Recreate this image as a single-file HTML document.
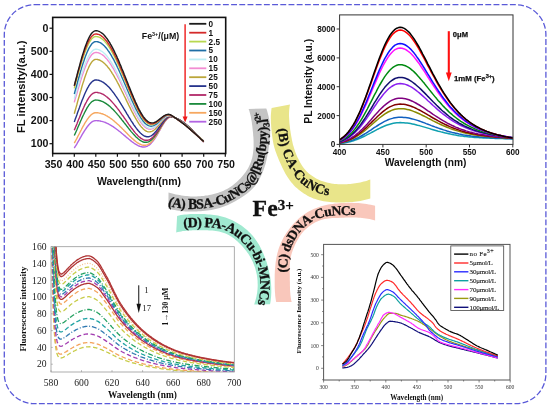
<!DOCTYPE html><html><head><meta charset="utf-8"><title>Fe3+ sensing</title><style>html,body{margin:0;padding:0;background:#fff;}svg{display:block;}</style></head><body>
<svg width="550" height="408" viewBox="0 0 550 408">
<rect width="550" height="408" fill="#fff"/>
<path d="M168.4,208.5 L170.5,209.2 L172.6,209.7 L174.8,210.1 L177.0,210.5 L179.1,210.8 L181.3,211.1 L183.5,211.3 L185.6,211.4 L187.8,211.5 L189.9,211.5 L192.1,211.5 L194.3,211.5 L196.4,211.4 L198.5,211.3 L200.7,211.2 L202.8,211.0 L205.0,210.8 L207.1,210.6 L209.2,210.3 L211.3,209.9 L213.5,209.5 L215.6,209.1 L217.7,208.5 L219.8,207.9 L221.8,207.3 L223.9,206.6 L225.9,205.8 L227.9,204.9 L229.9,204.0 L231.9,203.0 L233.8,202.0 L235.7,200.9 L237.6,199.8 L239.5,198.7 L241.4,197.5 L243.3,196.3 L245.1,195.0 L246.9,193.7 L248.7,192.3 L250.4,190.8 L252.0,189.3 L253.6,187.6 L255.0,185.9 L256.3,184.1 L257.6,182.2 L258.8,180.3 L259.9,178.3 L260.9,176.3 L261.8,174.3 L262.7,172.2 L263.5,170.1 L264.2,168.0 L264.9,165.9 L265.6,163.8 L266.1,161.6 L266.6,159.5 L267.1,157.3 L267.5,155.1 L267.9,153.0 L268.3,150.8 L268.6,148.6 L268.9,146.5 L269.2,144.3 L269.5,142.1 L269.7,139.9 L269.9,137.7 L270.1,135.4 L270.2,133.2 L270.2,131.0 L270.2,128.7 L270.1,126.4 L269.9,124.2 L269.6,121.9 L269.3,119.7 L268.8,117.4 L268.3,115.2 L267.7,113.0 L267.1,110.8 L266.3,108.6 L248.6,108.9 L249.3,110.8 L249.8,112.7 L250.3,114.6 L250.8,116.5 L251.1,118.5 L251.5,120.4 L251.8,122.3 L252.0,124.2 L252.3,126.1 L252.5,127.9 L252.7,129.8 L252.9,131.7 L253.1,133.6 L253.2,135.4 L253.4,137.3 L253.5,139.2 L253.6,141.1 L253.6,143.0 L253.6,144.9 L253.6,146.8 L253.5,148.7 L253.3,150.6 L253.1,152.5 L252.8,154.4 L252.5,156.3 L252.1,158.2 L251.5,160.1 L250.9,161.9 L250.2,163.8 L249.4,165.5 L248.6,167.3 L247.6,169.0 L246.6,170.6 L245.5,172.3 L244.3,173.8 L243.1,175.3 L241.9,176.8 L240.6,178.3 L239.2,179.6 L237.8,181.0 L236.4,182.3 L234.9,183.5 L233.4,184.7 L231.9,185.9 L230.3,187.0 L228.7,188.0 L227.0,188.9 L225.3,189.8 L223.6,190.7 L221.8,191.4 L220.1,192.1 L218.3,192.7 L216.5,193.3 L214.7,193.8 L212.9,194.3 L211.0,194.7 L209.2,195.0 L207.4,195.4 L205.5,195.6 L203.7,195.9 L201.8,196.1 L200.0,196.2 L198.2,196.3 L196.3,196.4 L194.5,196.4 L192.6,196.4 L190.8,196.4 L188.9,196.2 L187.1,196.1 L185.2,195.9 L183.4,195.7 L181.5,195.4 L179.7,195.1 L177.8,194.8 L175.9,194.5 L174.1,194.1 L172.2,193.6 L170.3,193.1 L168.5,192.5 Z" fill="#c4c4c4"/>
<path d="M271.6,108.1 L271.3,110.2 L271.1,112.3 L270.9,114.4 L270.8,116.5 L270.8,118.6 L270.9,120.7 L270.9,122.7 L271.1,124.8 L271.2,126.9 L271.4,128.9 L271.6,131.0 L271.8,133.0 L272.0,135.0 L272.3,137.0 L272.6,139.0 L272.9,141.1 L273.3,143.1 L273.7,145.0 L274.2,147.0 L274.8,149.0 L275.4,150.9 L276.1,152.8 L276.8,154.7 L277.5,156.6 L278.3,158.5 L279.1,160.4 L279.9,162.3 L280.7,164.1 L281.6,166.0 L282.5,167.9 L283.4,169.7 L284.3,171.6 L285.3,173.4 L286.4,175.2 L287.5,177.0 L288.7,178.8 L289.9,180.5 L291.2,182.2 L292.6,183.8 L294.0,185.4 L295.5,186.9 L297.1,188.3 L298.7,189.7 L300.4,191.1 L302.1,192.3 L303.8,193.5 L305.7,194.6 L307.5,195.7 L309.4,196.7 L311.4,197.6 L313.3,198.4 L315.3,199.1 L317.4,199.7 L319.4,200.3 L321.5,200.8 L323.5,201.2 L325.6,201.5 L327.7,201.8 L329.8,202.0 L331.9,202.2 L334.0,202.3 L336.0,202.4 L338.1,202.4 L340.2,202.4 L342.2,202.4 L344.2,202.4 L346.3,202.3 L348.3,202.2 L350.4,202.1 L352.4,201.9 L354.4,201.7 L356.4,201.5 L358.4,201.2 L360.4,200.9 L362.4,200.5 L364.4,200.0 L366.4,199.6 L368.4,199.0 L370.3,198.4 L370.3,179.5 L368.6,180.1 L367.0,180.7 L365.3,181.2 L363.7,181.6 L362.0,182.0 L360.3,182.4 L358.6,182.7 L357.0,183.0 L355.3,183.3 L353.6,183.5 L351.9,183.7 L350.2,183.9 L348.5,184.1 L346.8,184.2 L345.1,184.3 L343.3,184.3 L341.6,184.3 L339.9,184.3 L338.2,184.2 L336.4,184.1 L334.7,183.9 L333.0,183.7 L331.2,183.4 L329.5,183.1 L327.8,182.7 L326.1,182.3 L324.4,181.8 L322.7,181.3 L321.0,180.7 L319.3,180.0 L317.7,179.3 L316.1,178.5 L314.6,177.6 L313.1,176.6 L311.6,175.6 L310.2,174.5 L308.8,173.4 L307.5,172.2 L306.2,170.9 L305.0,169.6 L303.9,168.2 L302.8,166.8 L301.8,165.3 L300.9,163.8 L300.0,162.3 L299.2,160.7 L298.4,159.1 L297.6,157.6 L296.9,156.0 L296.3,154.4 L295.6,152.8 L295.0,151.2 L294.5,149.6 L294.0,147.9 L293.5,146.3 L293.0,144.7 L292.6,143.0 L292.3,141.4 L291.9,139.7 L291.6,138.1 L291.3,136.4 L291.0,134.8 L290.7,133.1 L290.5,131.4 L290.2,129.7 L290.0,128.0 L289.8,126.3 L289.6,124.6 L289.4,122.8 L289.3,121.1 L289.2,119.3 L289.1,117.5 L289.0,115.7 L289.0,113.9 L289.1,112.0 L289.2,110.2 L289.4,108.3 L289.6,106.5 L290.0,104.6 Z" fill="#e9e58a"/>
<path d="M276.2,302.1 L275.8,300.0 L275.5,297.9 L275.2,295.7 L275.1,293.6 L274.9,291.5 L274.8,289.3 L274.7,287.2 L274.7,285.1 L274.7,283.0 L274.7,280.9 L274.7,278.8 L274.7,276.7 L274.7,274.6 L274.8,272.5 L274.9,270.3 L275.1,268.2 L275.3,266.1 L275.5,264.0 L275.7,261.9 L276.1,259.8 L276.4,257.7 L276.9,255.6 L277.3,253.4 L277.9,251.4 L278.5,249.3 L279.2,247.2 L280.0,245.2 L280.8,243.2 L281.7,241.2 L282.7,239.2 L283.7,237.3 L284.8,235.4 L286.0,233.6 L287.2,231.7 L288.5,229.9 L289.8,228.2 L291.2,226.5 L292.6,224.8 L294.1,223.2 L295.6,221.6 L297.2,220.0 L298.8,218.5 L300.5,217.1 L302.3,215.8 L304.1,214.5 L305.9,213.3 L307.8,212.1 L309.7,211.0 L311.7,210.0 L313.7,209.1 L315.7,208.2 L317.8,207.5 L319.9,206.8 L322.0,206.1 L324.1,205.5 L326.2,205.0 L328.3,204.6 L330.5,204.2 L332.6,203.9 L334.7,203.6 L336.9,203.4 L339.0,203.2 L341.2,203.1 L343.3,203.0 L345.4,202.9 L347.5,202.8 L349.7,202.8 L351.8,202.8 L353.9,202.9 L356.0,203.0 L358.2,203.1 L360.3,203.3 L362.4,203.5 L364.6,203.8 L366.7,204.0 L368.8,204.4 L370.9,204.8 L373.0,205.3 L375.1,205.8 L375.1,220.5 L373.3,220.0 L371.4,219.5 L369.6,219.1 L367.7,218.7 L365.9,218.4 L364.0,218.2 L362.2,218.0 L360.3,217.8 L358.5,217.7 L356.6,217.6 L354.8,217.6 L352.9,217.5 L351.1,217.5 L349.3,217.5 L347.4,217.6 L345.6,217.6 L343.8,217.7 L341.9,217.8 L340.1,217.8 L338.2,217.9 L336.3,217.9 L334.4,218.0 L332.5,218.1 L330.6,218.3 L328.6,218.5 L326.7,218.7 L324.7,219.1 L322.8,219.5 L320.9,220.1 L319.0,220.7 L317.2,221.5 L315.4,222.3 L313.7,223.3 L312.0,224.3 L310.3,225.4 L308.7,226.6 L307.2,227.9 L305.7,229.2 L304.3,230.6 L303.0,232.1 L301.7,233.6 L300.5,235.2 L299.4,236.8 L298.4,238.5 L297.4,240.2 L296.4,241.9 L295.6,243.6 L294.7,245.4 L294.0,247.2 L293.2,249.0 L292.6,250.8 L292.0,252.6 L291.4,254.4 L291.0,256.3 L290.6,258.1 L290.3,260.0 L290.0,261.9 L289.9,263.7 L289.8,265.6 L289.7,267.5 L289.7,269.3 L289.7,271.2 L289.7,273.0 L289.8,274.8 L289.8,276.6 L289.8,278.4 L289.8,280.2 L289.9,282.0 L289.9,283.8 L289.9,285.6 L290.0,287.4 L290.0,289.2 L290.1,291.0 L290.3,292.9 L290.4,294.7 L290.6,296.6 L290.9,298.4 L291.2,300.3 L291.7,302.1 Z" fill="#f9c7bb"/>
<path d="M177.1,215.9 L179.0,215.5 L180.9,215.1 L182.9,214.8 L184.8,214.6 L186.8,214.4 L188.8,214.2 L190.7,214.1 L192.7,214.1 L194.6,214.0 L196.5,214.0 L198.5,214.0 L200.4,214.0 L202.4,214.1 L204.3,214.1 L206.2,214.2 L208.2,214.4 L210.1,214.5 L212.1,214.7 L214.0,214.9 L215.9,215.2 L217.9,215.6 L219.8,216.0 L221.7,216.4 L223.6,217.0 L225.5,217.6 L227.4,218.2 L229.2,218.9 L231.1,219.7 L232.8,220.6 L234.6,221.5 L236.3,222.4 L238.1,223.4 L239.7,224.5 L241.4,225.6 L243.0,226.8 L244.5,228.0 L246.1,229.3 L247.6,230.6 L249.0,231.9 L250.4,233.3 L251.8,234.8 L253.1,236.3 L254.3,237.8 L255.5,239.4 L256.6,241.0 L257.7,242.7 L258.7,244.3 L259.7,246.1 L260.6,247.8 L261.5,249.5 L262.3,251.3 L263.1,253.1 L263.9,254.9 L264.6,256.7 L265.3,258.5 L265.9,260.3 L266.6,262.1 L267.1,264.0 L267.7,265.8 L268.2,267.7 L268.7,269.5 L269.1,271.4 L269.5,273.3 L269.9,275.2 L270.2,277.1 L270.5,279.0 L270.8,280.9 L271.0,282.9 L271.1,284.8 L271.2,286.7 L271.3,288.7 L271.3,290.6 L271.3,292.6 L271.2,294.6 L271.1,296.5 L270.9,298.5 L270.7,300.4 L270.4,302.4 L270.0,304.3 L254.2,304.4 L254.7,302.8 L255.2,301.2 L255.7,299.6 L256.1,297.9 L256.5,296.3 L256.8,294.6 L257.1,292.9 L257.3,291.3 L257.5,289.6 L257.6,287.9 L257.7,286.2 L257.7,284.4 L257.6,282.7 L257.6,281.0 L257.4,279.3 L257.2,277.6 L257.0,275.9 L256.7,274.3 L256.3,272.6 L255.9,270.9 L255.5,269.3 L255.0,267.6 L254.4,266.0 L253.8,264.4 L253.2,262.8 L252.5,261.3 L251.7,259.7 L250.9,258.2 L250.1,256.7 L249.2,255.3 L248.3,253.8 L247.3,252.4 L246.3,251.0 L245.2,249.7 L244.2,248.4 L243.0,247.1 L241.9,245.8 L240.7,244.6 L239.5,243.4 L238.3,242.2 L237.0,241.0 L235.7,239.9 L234.4,238.8 L233.0,237.8 L231.6,236.8 L230.2,235.9 L228.7,235.0 L227.1,234.3 L225.6,233.6 L224.0,232.9 L222.4,232.4 L220.7,231.9 L219.1,231.5 L217.4,231.2 L215.7,230.9 L214.0,230.7 L212.4,230.6 L210.7,230.4 L209.0,230.4 L207.4,230.3 L205.7,230.3 L204.1,230.2 L202.5,230.2 L200.9,230.2 L199.2,230.2 L197.6,230.2 L196.0,230.2 L194.4,230.3 L192.7,230.3 L191.1,230.4 L189.5,230.5 L187.8,230.6 L186.2,230.7 L184.5,230.9 L182.8,231.1 L181.2,231.4 L179.5,231.7 L177.9,232.1 L176.2,232.6 Z" fill="#a0e9d0"/>
<defs>
<path id="pa" d="M167.64,205.38 L168.83,205.77 L170.03,206.13 L171.24,206.46 L172.46,206.76 L173.68,207.04 L174.90,207.30 L176.12,207.53 L177.35,207.73 L178.58,207.92 L179.81,208.09 L181.04,208.23 L182.27,208.36 L183.50,208.47 L184.73,208.57 L185.95,208.65 L187.18,208.71 L188.41,208.76 L189.63,208.79 L190.85,208.81 L192.07,208.82 L193.29,208.82 L194.51,208.80 L195.73,208.77 L196.95,208.72 L198.16,208.66 L199.38,208.60 L200.59,208.51 L201.81,208.42 L203.02,208.31 L204.23,208.19 L205.44,208.05 L206.65,207.90 L207.86,207.74 L209.07,207.56 L210.28,207.36 L211.49,207.15 L212.69,206.92 L213.89,206.66 L215.09,206.39 L216.29,206.10 L217.48,205.79 L218.66,205.45 L219.84,205.10 L221.02,204.72 L222.19,204.31 L223.35,203.89 L224.50,203.44 L225.65,202.97 L226.79,202.48 L227.92,201.97 L229.04,201.43 L230.15,200.88 L231.26,200.32 L232.36,199.73 L233.46,199.13 L234.54,198.52 L235.63,197.89 L236.70,197.25 L237.78,196.60 L238.85,195.93 L239.91,195.26 L240.97,194.56 L242.02,193.85 L243.06,193.13 L244.08,192.38 L245.10,191.61 L246.10,190.82 L247.08,190.00 L248.04,189.16 L248.97,188.28 L249.88,187.38 L250.76,186.46 L251.61,185.50 L252.43,184.52 L253.23,183.52 L253.99,182.49 L254.72,181.44 L255.43,180.37 L256.10,179.29 L256.75,178.19 L257.38,177.08 L257.98,175.95 L258.56,174.81 L259.11,173.67 L259.65,172.51 L260.15,171.34 L260.64,170.17 L261.10,168.99 L261.54,167.80 L261.96,166.60 L262.35,165.40 L262.72,164.19 L263.07,162.97 L263.40,161.75 L263.71,160.53 L263.99,159.31 L264.26,158.08 L264.51,156.85 L264.74,155.62 L264.96,154.38 L265.17,153.15 L265.37,151.92 L265.55,150.68 L265.73,149.44 L265.90,148.21 L266.06,146.97 L266.21,145.73 L266.35,144.49 L266.49,143.25 L266.61,142.00 L266.73,140.75 L266.83,139.50 L266.92,138.25 L266.99,136.99 L267.05,135.73 L267.09,134.46 L267.11,133.20 L267.12,131.93 L267.10,130.66 L267.06,129.39 L267.00,128.11 L266.92,126.84 L266.81,125.56 L266.69,124.28 L266.54,123.01 L266.36,121.74 L266.16,120.46 L265.94,119.19 L265.69,117.93 L265.42,116.66 L265.12,115.40 L264.80,114.15 L264.44,112.90 L264.07,111.65 L263.66,110.42 L263.23,109.19 L262.77,107.97 L262.28,106.76 L261.77,105.57 L261.22,104.38 L260.65,103.20 L260.06,102.04 L259.44,100.89 L258.79,99.76 L258.12,98.63 L257.42,97.53 L256.71,96.43 L255.97,95.35 L255.20,94.29 L254.42,93.24 L253.62,92.20 L252.80,91.18 L251.96,90.18 L251.10,89.19 L250.22,88.22 L249.33,87.26 L248.42,86.32 L247.49,85.40 L246.55,84.49 L245.59,83.60 L244.62,82.72 L243.63,81.86 L242.62,81.02 L241.60,80.20 L240.57,79.40 L239.52,78.61 L238.46,77.84 L237.39,77.09 L236.30,76.36 L235.20,75.65 L234.09,74.96 L232.97,74.29 L231.83,73.64 L230.68,73.00 L229.53,72.39 L228.36,71.80 L227.18,71.23 L225.99,70.67 L224.80,70.14 L223.59,69.63 L222.38,69.15 L221.15,68.68 L219.92,68.23 L218.68,67.81 L217.44,67.41 L216.18,67.03 L214.92,66.67 L213.66,66.33 L212.39,66.02 L211.11,65.72 L209.83,65.45 L208.54,65.21 L207.25,64.98 L205.96,64.78 L204.66,64.60 L203.36,64.44 L202.06,64.31 L200.76,64.19 L199.45,64.10 L198.14,64.04 L196.83,64.00 L195.52,63.97 L194.21,63.98 L192.91,64.00 L191.60,64.05 L190.29,64.12 L188.98,64.21 L187.68,64.33 L186.38,64.47 L185.08,64.63 L183.78,64.82 L182.49,65.02 L181.20,65.25 L179.91,65.51 L178.63,65.78 L177.36,66.08 L176.09,66.40 L174.82,66.74 L173.57,67.10 L172.31,67.48 L171.07,67.89 L169.83,68.32 L168.60,68.77 L167.38,69.24 L166.17,69.73 L164.96,70.25 L163.77,70.78 L162.58,71.34 L161.41,71.91" fill="none"/>
<path id="pb" d="M277.94,128.83 L278.07,130.02 L278.20,131.20 L278.34,132.38 L278.48,133.55 L278.64,134.72 L278.80,135.89 L278.97,137.06 L279.15,138.23 L279.34,139.39 L279.55,140.56 L279.77,141.72 L280.01,142.87 L280.27,144.02 L280.55,145.17 L280.85,146.31 L281.17,147.45 L281.51,148.58 L281.87,149.71 L282.25,150.83 L282.64,151.94 L283.05,153.05 L283.47,154.16 L283.90,155.26 L284.34,156.36 L284.79,157.46 L285.25,158.56 L285.71,159.65 L286.19,160.75 L286.67,161.84 L287.16,162.94 L287.67,164.03 L288.18,165.12 L288.72,166.20 L289.26,167.29 L289.83,168.36 L290.41,169.44 L291.01,170.50 L291.64,171.55 L292.29,172.59 L292.96,173.62 L293.66,174.64 L294.38,175.64 L295.12,176.62 L295.89,177.59 L296.69,178.53 L297.51,179.46 L298.35,180.37 L299.21,181.25 L300.10,182.12 L301.01,182.96 L301.95,183.78 L302.90,184.57 L303.88,185.34 L304.87,186.09 L305.88,186.81 L306.91,187.50 L307.96,188.17 L309.03,188.81 L310.11,189.42 L311.20,190.01 L312.31,190.56 L313.44,191.09 L314.57,191.59 L315.72,192.06 L316.87,192.51 L318.04,192.92 L319.22,193.30 L320.40,193.65 L321.59,193.98 L322.79,194.28 L323.99,194.54 L325.20,194.79 L326.41,195.00 L327.62,195.19 L328.83,195.36 L330.04,195.51 L331.25,195.64 L332.46,195.75 L333.67,195.84 L334.88,195.91 L336.08,195.97 L337.29,196.02 L338.49,196.06 L339.68,196.08 L340.88,196.09 L342.07,196.09 L343.27,196.08 L344.46,196.05 L345.64,196.01 L346.83,195.96 L348.02,195.90 L349.20,195.82 L350.38,195.74 L351.56,195.63 L352.74,195.52 L353.92,195.38 L355.09,195.24 L356.26,195.08 L357.44,194.91 L358.61,194.72 L359.77,194.51 L360.94,194.29 L362.10,194.05 L363.26,193.80 L364.42,193.53 L365.57,193.24 L366.72,192.93 L367.86,192.60 L369.00,192.24 L370.14,191.87 L371.26,191.48 L372.38,191.06 L373.49,190.62 L374.59,190.16 L375.68,189.68 L376.77,189.18 L377.84,188.65 L378.90,188.10 L379.96,187.53 L381.00,186.94 L382.03,186.33 L383.04,185.70 L384.05,185.05 L385.04,184.38 L386.02,183.70 L386.99,182.99 L387.94,182.27 L388.89,181.53 L389.81,180.77 L390.73,180.00 L391.63,179.21 L392.52,178.41 L393.39,177.59 L394.25,176.76 L395.09,175.91 L395.92,175.04 L396.73,174.16 L397.53,173.27 L398.31,172.37 L399.08,171.45 L399.83,170.51 L400.56,169.57 L401.28,168.61 L401.98,167.64 L402.67,166.65 L403.33,165.66 L403.98,164.65 L404.61,163.64 L405.22,162.61 L405.82,161.57 L406.40,160.52 L406.95,159.46 L407.49,158.39 L408.01,157.31 L408.52,156.23 L409.00,155.13 L409.46,154.03 L409.91,152.92 L410.33,151.80 L410.74,150.67 L411.12,149.54 L411.49,148.40 L411.84,147.25 L412.16,146.10 L412.47,144.94 L412.75,143.78 L413.02,142.61 L413.26,141.44 L413.49,140.26 L413.69,139.09 L413.88,137.90 L414.04,136.72 L414.18,135.53 L414.30,134.34 L414.40,133.14 L414.48,131.95 L414.54,130.75 L414.58,129.56 L414.59,128.36 L414.59,127.16 L414.56,125.97 L414.52,124.77 L414.45,123.57 L414.36,122.38 L414.25,121.19 L414.13,120.00 L413.98,118.81 L413.80,117.62 L413.61,116.44 L413.40,115.26 L413.17,114.09 L412.92,112.92 L412.64,111.75 L412.35,110.59 L412.03,109.44 L411.70,108.29 L411.35,107.15 L410.97,106.01 L410.58,104.88 L410.17,103.75 L409.73,102.64 L409.28,101.53 L408.81,100.43 L408.32,99.34 L407.81,98.25 L407.28,97.18 L406.73,96.11 L406.17,95.06 L405.58,94.01 L404.98,92.98 L404.36,91.96 L403.72,90.94 L403.07,89.94 L402.39,88.95 L401.70,87.97 L401.00,87.01 L400.27,86.05 L399.53,85.11 L398.78,84.18 L398.00,83.27 L397.21,82.37 L396.41,81.48 L395.59,80.61 L394.76,79.75 L393.91,78.91 L393.04,78.08 L392.16,77.27 L391.27,76.47 L390.37,75.69" fill="none"/>
<path id="pc" d="M287.07,272.39 L287.07,271.27 L287.08,270.16 L287.09,269.04 L287.12,267.91 L287.16,266.78 L287.21,265.65 L287.27,264.52 L287.36,263.38 L287.46,262.24 L287.59,261.10 L287.74,259.97 L287.92,258.83 L288.12,257.69 L288.35,256.56 L288.60,255.43 L288.89,254.31 L289.19,253.19 L289.53,252.08 L289.89,250.97 L290.27,249.87 L290.67,248.77 L291.10,247.68 L291.55,246.60 L292.01,245.52 L292.50,244.45 L293.01,243.39 L293.53,242.33 L294.08,241.28 L294.64,240.24 L295.22,239.20 L295.82,238.17 L296.44,237.16 L297.09,236.15 L297.75,235.16 L298.44,234.18 L299.15,233.22 L299.89,232.27 L300.64,231.34 L301.43,230.43 L302.23,229.53 L303.06,228.66 L303.91,227.82 L304.79,226.99 L305.69,226.19 L306.60,225.41 L307.54,224.66 L308.50,223.93 L309.48,223.24 L310.48,222.56 L311.50,221.92 L312.53,221.31 L313.59,220.72 L314.65,220.17 L315.73,219.65 L316.83,219.16 L317.94,218.71 L319.06,218.28 L320.20,217.90 L321.34,217.54 L322.49,217.22 L323.65,216.93 L324.82,216.67 L325.99,216.44 L327.16,216.24 L328.33,216.07 L329.50,215.92 L330.67,215.79 L331.84,215.68 L333.01,215.58 L334.17,215.50 L335.32,215.43 L336.47,215.37 L337.62,215.31 L338.76,215.25 L339.90,215.20 L341.03,215.15 L342.15,215.10 L343.28,215.06 L344.40,215.02 L345.52,214.98 L346.64,214.94 L347.76,214.92 L348.88,214.89 L350.00,214.88 L351.12,214.88 L352.24,214.88 L353.36,214.89 L354.48,214.92 L355.60,214.96 L356.73,215.00 L357.85,215.06 L358.98,215.13 L360.10,215.21 L361.23,215.31 L362.36,215.41 L363.49,215.54 L364.62,215.67 L365.75,215.82 L366.88,215.99 L368.01,216.18 L369.14,216.39 L370.27,216.62 L371.39,216.87 L372.51,217.14 L373.63,217.45 L374.74,217.77 L375.84,218.13 L376.93,218.51 L378.02,218.92 L379.09,219.36 L380.15,219.82 L381.21,220.31 L382.25,220.83 L383.27,221.37 L384.29,221.93 L385.29,222.52 L386.28,223.13 L387.26,223.76 L388.22,224.41 L389.18,225.08 L390.11,225.77 L391.04,226.47 L391.95,227.19 L392.85,227.93 L393.74,228.69 L394.61,229.46 L395.47,230.24 L396.31,231.04 L397.14,231.86 L397.96,232.69 L398.76,233.53 L399.54,234.39 L400.31,235.26 L401.07,236.15 L401.81,237.05 L402.53,237.96 L403.24,238.88 L403.93,239.81 L404.61,240.76 L405.27,241.72 L405.91,242.69 L406.54,243.67 L407.14,244.66 L407.73,245.67 L408.31,246.68 L408.86,247.70 L409.40,248.73 L409.92,249.78 L410.42,250.83 L410.90,251.88 L411.37,252.95 L411.81,254.03 L412.24,255.11 L412.65,256.20 L413.03,257.30 L413.40,258.40 L413.75,259.51 L414.08,260.62 L414.39,261.75 L414.69,262.87 L414.96,264.00 L415.21,265.14 L415.44,266.28 L415.65,267.42 L415.85,268.57 L416.02,269.72 L416.17,270.88 L416.30,272.03 L416.41,273.19 L416.50,274.35 L416.58,275.51 L416.63,276.67 L416.66,277.84 L416.67,279.00 L416.66,280.16 L416.63,281.33 L416.58,282.49 L416.50,283.65 L416.41,284.81 L416.30,285.97 L416.17,287.12 L416.02,288.28 L415.85,289.43 L415.65,290.58 L415.44,291.72 L415.21,292.86 L414.96,294.00 L414.69,295.13 L414.39,296.25 L414.08,297.38 L413.75,298.49 L413.40,299.60 L413.03,300.70 L412.65,301.80 L412.24,302.89 L411.81,303.97 L411.37,305.05 L410.90,306.12 L410.42,307.17 L409.92,308.22 L409.40,309.27 L408.86,310.30 L408.31,311.32 L407.73,312.33 L407.14,313.34 L406.54,314.33 L405.91,315.31 L405.27,316.28 L404.61,317.24 L403.93,318.19 L403.24,319.12 L402.53,320.04 L401.81,320.95 L401.07,321.85 L400.31,322.74 L399.54,323.61 L398.76,324.47 L397.96,325.31 L397.14,326.14 L396.31,326.96 L395.47,327.76 L394.61,328.54 L393.74,329.31 L392.85,330.07 L391.95,330.81 L391.04,331.53 L390.12,332.24 L389.19,332.93 L388.24,333.61" fill="none"/>
<path id="pd" d="M183.71,227.73 L184.76,227.60 L185.81,227.49 L186.86,227.40 L187.91,227.31 L188.96,227.24 L190.00,227.18 L191.04,227.13 L192.08,227.09 L193.12,227.06 L194.15,227.03 L195.19,227.01 L196.22,226.99 L197.25,226.98 L198.28,226.98 L199.31,226.97 L200.34,226.98 L201.37,226.98 L202.40,226.99 L203.44,227.01 L204.47,227.03 L205.51,227.05 L206.55,227.08 L207.59,227.12 L208.63,227.17 L209.68,227.23 L210.73,227.30 L211.78,227.38 L212.83,227.48 L213.89,227.59 L214.94,227.72 L216.00,227.87 L217.05,228.04 L218.11,228.23 L219.16,228.44 L220.20,228.68 L221.25,228.94 L222.28,229.23 L223.31,229.55 L224.33,229.89 L225.35,230.27 L226.35,230.66 L227.34,231.09 L228.32,231.55 L229.29,232.03 L230.24,232.54 L231.18,233.07 L232.11,233.63 L233.02,234.21 L233.92,234.81 L234.80,235.44 L235.67,236.08 L236.53,236.74 L237.37,237.42 L238.19,238.11 L239.01,238.82 L239.81,239.55 L240.60,240.28 L241.38,241.03 L242.14,241.79 L242.89,242.56 L243.63,243.35 L244.36,244.14 L245.07,244.95 L245.77,245.77 L246.46,246.60 L247.13,247.44 L247.79,248.29 L248.43,249.16 L249.05,250.03 L249.67,250.92 L250.26,251.81 L250.84,252.72 L251.40,253.64 L251.95,254.56 L252.47,255.50 L252.99,256.44 L253.48,257.40 L253.96,258.36 L254.43,259.32 L254.87,260.30 L255.31,261.28 L255.72,262.27 L256.12,263.27 L256.50,264.27 L256.86,265.28 L257.21,266.30 L257.54,267.32 L257.85,268.34 L258.14,269.38 L258.42,270.41 L258.68,271.45 L258.92,272.50 L259.14,273.54 L259.35,274.60 L259.53,275.65 L259.70,276.71 L259.85,277.77 L259.98,278.84 L260.09,279.90 L260.19,280.97 L260.26,282.04 L260.32,283.11 L260.35,284.18 L260.37,285.25 L260.37,286.32 L260.35,287.39 L260.31,288.46 L260.26,289.53 L260.18,290.60 L260.09,291.67 L259.97,292.73 L259.84,293.79 L259.69,294.85 L259.52,295.91 L259.33,296.96 L259.12,298.01 L258.90,299.06 L258.65,300.10 L258.39,301.14 L258.11,302.17 L257.81,303.20 L257.49,304.22 L257.16,305.23 L256.80,306.24 L256.44,307.25 L256.05,308.24 L255.65,309.23 L255.23,310.22 L254.79,311.19 L254.34,312.16 L253.87,313.12 L253.39,314.07 L252.89,315.02 L252.37,315.95 L251.84,316.88 L251.29,317.80 L250.73,318.70 L250.15,319.60 L249.56,320.49 L248.95,321.37 L248.32,322.23 L247.68,323.09 L247.03,323.93 L246.36,324.76 L245.68,325.58 L244.98,326.39 L244.27,327.19 L243.54,327.97 L242.80,328.74 L242.05,329.50 L241.28,330.25 L240.50,330.98 L239.71,331.69 L238.91,332.40 L238.09,333.09 L237.26,333.76 L236.43,334.42 L235.57,335.07 L234.71,335.70 L233.84,336.32 L232.96,336.92 L232.06,337.50 L231.16,338.07 L230.25,338.62 L229.32,339.16 L228.39,339.68 L227.45,340.19 L226.50,340.67 L225.54,341.15 L224.57,341.60 L223.60,342.04 L222.62,342.46 L221.63,342.86 L220.63,343.25 L219.63,343.62 L218.62,343.97 L217.61,344.30 L216.59,344.62 L215.56,344.92 L214.53,345.20 L213.49,345.46 L212.45,345.70 L211.41,345.93 L210.36,346.14 L209.31,346.33 L208.26,346.50 L207.20,346.65 L206.14,346.78 L205.08,346.90 L204.01,346.99 L202.95,347.07 L201.88,347.13 L200.82,347.17 L199.75,347.20 L198.68,347.20 L197.61,347.18 L196.54,347.15 L195.48,347.10 L194.41,347.03 L193.35,346.94 L192.28,346.83 L191.22,346.70 L190.17,346.56 L189.11,346.40 L188.06,346.21 L187.01,346.01 L185.96,345.80 L184.92,345.56 L183.88,345.30 L182.85,345.03 L181.82,344.74 L180.80,344.43 L179.78,344.10 L178.77,343.76 L177.77,343.40 L176.77,343.02 L175.78,342.62 L174.79,342.21 L173.82,341.78 L172.85,341.33 L171.88,340.86 L170.93,340.38 L169.99,339.89 L169.05,339.37 L168.12,338.84 L167.21,338.29 L166.30,337.73 L165.40,337.15 L164.51,336.56" fill="none"/>
</defs>
<g font-family="'Liberation Serif', 'Times New Roman', serif" font-weight="bold" fill="#111" stroke="#111" stroke-width="0.3">
<text font-size="13.8" letter-spacing="-0.51"><textPath href="#pa">(A) BSA-CuNCs@[Ru(bpy)<tspan font-size="9.0" dy="2.5">3</tspan><tspan dy="-2.5">]</tspan><tspan font-size="9.0" dy="-5">2+</tspan></textPath></text>
<text font-size="13.6" letter-spacing="0.27"><textPath href="#pb">(B) CA-CuNCs</textPath></text>
<text font-size="13.6" letter-spacing="-0.54"><textPath href="#pc">(C) dsDNA-CuNCs</textPath></text>
<text font-size="14.0" letter-spacing="-0.60"><textPath href="#pd">(D) PA-AuCu-bi-MNCs</textPath></text>
<text x="252.6" y="216.2" font-size="23.8">Fe<tspan font-size="15" dy="-6.4">3+</tspan></text>
</g>
<g font-family="'Liberation Sans', Arial, sans-serif" font-weight="bold">
<polyline fill="none" stroke="#b264e2" stroke-width="1.4" stroke-linejoin="round" points="74.3,148.1 75.1,146.7 76.0,145.3 76.9,143.9 77.7,142.4 78.6,140.9 79.5,139.4 80.3,137.9 81.2,136.4 82.0,134.9 82.9,133.4 83.8,132.0 84.6,130.6 85.5,129.3 86.4,128.0 87.2,126.8 88.1,125.7 88.9,124.7 89.8,123.8 90.7,122.9 91.5,122.2 92.4,121.7 93.3,121.2 94.1,120.9 95.0,120.7 95.8,120.6 96.7,120.6 97.6,120.7 98.4,120.7 99.3,120.9 100.2,121.0 101.0,121.2 101.9,121.4 102.8,121.6 103.6,121.9 104.5,122.2 105.3,122.5 106.2,122.9 107.1,123.3 107.9,123.7 108.8,124.2 109.7,124.6 110.5,125.1 111.4,125.6 112.2,126.2 113.1,126.7 114.0,127.3 114.8,127.9 115.7,128.5 116.6,129.2 117.4,129.8 118.3,130.5 119.2,131.2 120.0,131.8 120.9,132.5 121.7,133.3 122.6,134.0 123.5,134.7 124.3,135.4 125.2,136.1 126.1,136.9 126.9,137.6 127.8,138.3 128.6,139.0 129.5,139.7 130.4,140.4 131.2,141.1 132.1,141.8 133.0,142.4 133.8,143.0 134.7,143.6 135.5,144.2 136.4,144.7 137.3,145.2 138.1,145.6 139.0,146.0 139.9,146.4 140.7,146.6 141.6,146.8 142.5,147.0 143.3,147.0 144.2,147.0 145.0,146.9 145.9,146.7 146.8,146.4 147.6,146.0 148.5,145.5 149.4,144.9 150.2,144.2 151.1,143.3 151.9,142.4 152.8,141.4 153.7,140.2 154.5,139.0 155.4,137.7 156.3,136.3 157.1,134.9 158.0,133.4 158.8,131.8 159.7,130.3 160.6,128.7 161.4,127.2 162.3,125.7 163.2,124.3 164.0,122.9 164.9,121.7 165.8,120.5 166.6,119.5 167.5,118.6 168.3,117.9 169.2,117.4 170.1,117.0 170.9,116.8 171.8,116.9 172.7,117.1 173.5,117.3 174.4,117.5 175.2,117.8 176.1,118.2 177.0,118.6 177.8,119.0 178.7,119.4 179.6,119.9 180.4,120.4 181.3,121.0 182.1,121.5 183.0,122.2 183.9,122.8 184.7,123.5 185.6,124.2 186.5,124.9 187.3,125.6 188.2,126.4 189.1,127.2 189.9,128.0 190.8,128.9 191.6,129.7 192.5,130.6 193.4,131.5 194.2,132.3 195.1,133.2 196.0,134.1 196.8,135.0 197.7,136.0 198.5,136.9 199.4,137.8 200.3,138.7 201.1,139.6 202.0,140.5 202.9,141.4 203.7,142.3"/>
<polyline fill="none" stroke="#f6a860" stroke-width="1.4" stroke-linejoin="round" points="74.3,143.2 75.1,141.7 76.0,140.0 76.9,138.4 77.7,136.7 78.6,135.0 79.5,133.3 80.3,131.7 81.2,130.0 82.0,128.3 82.9,126.7 83.8,125.1 84.6,123.6 85.5,122.2 86.4,120.8 87.2,119.5 88.1,118.3 88.9,117.2 89.8,116.2 90.7,115.3 91.5,114.5 92.4,113.9 93.3,113.4 94.1,113.0 95.0,112.8 95.8,112.7 96.7,112.8 97.6,112.8 98.4,112.9 99.3,113.1 100.2,113.2 101.0,113.5 101.9,113.7 102.8,114.0 103.6,114.4 104.5,114.7 105.3,115.1 106.2,115.6 107.1,116.0 107.9,116.6 108.8,117.1 109.7,117.7 110.5,118.3 111.4,118.9 112.2,119.5 113.1,120.2 114.0,120.9 114.8,121.7 115.7,122.4 116.6,123.2 117.4,124.0 118.3,124.8 119.2,125.6 120.0,126.4 120.9,127.3 121.7,128.1 122.6,129.0 123.5,129.8 124.3,130.7 125.2,131.6 126.1,132.5 126.9,133.3 127.8,134.2 128.6,135.1 129.5,135.9 130.4,136.7 131.2,137.6 132.1,138.4 133.0,139.1 133.8,139.9 134.7,140.6 135.5,141.3 136.4,142.0 137.3,142.6 138.1,143.1 139.0,143.7 139.9,144.1 140.7,144.5 141.6,144.8 142.5,145.1 143.3,145.2 144.2,145.3 145.0,145.3 145.9,145.2 146.8,144.9 147.6,144.6 148.5,144.2 149.4,143.7 150.2,143.0 151.1,142.3 151.9,141.4 152.8,140.4 153.7,139.3 154.5,138.2 155.4,136.9 156.3,135.6 157.1,134.2 158.0,132.7 158.8,131.3 159.7,129.8 160.6,128.3 161.4,126.8 162.3,125.3 163.2,123.9 164.0,122.6 164.9,121.4 165.8,120.3 166.6,119.3 167.5,118.5 168.3,117.8 169.2,117.3 170.1,116.9 170.9,116.8 171.8,116.9 172.7,117.1 173.5,117.3 174.4,117.6 175.2,117.9 176.1,118.2 177.0,118.6 177.8,119.0 178.7,119.5 179.6,120.0 180.4,120.5 181.3,121.0 182.1,121.6 183.0,122.2 183.9,122.9 184.7,123.5 185.6,124.2 186.5,124.9 187.3,125.7 188.2,126.4 189.1,127.2 189.9,128.0 190.8,128.8 191.6,129.7 192.5,130.5 193.4,131.4 194.2,132.3 195.1,133.1 196.0,134.0 196.8,134.9 197.7,135.8 198.5,136.7 199.4,137.6 200.3,138.5 201.1,139.4 202.0,140.3 202.9,141.2 203.7,142.1"/>
<polyline fill="none" stroke="#1b8a3c" stroke-width="1.4" stroke-linejoin="round" points="74.3,135.6 75.1,133.7 76.0,131.7 76.9,129.8 77.7,127.8 78.6,125.8 79.5,123.8 80.3,121.8 81.2,119.8 82.0,117.9 82.9,116.0 83.8,114.2 84.6,112.5 85.5,110.8 86.4,109.2 87.2,107.7 88.1,106.3 88.9,105.0 89.8,103.9 90.7,102.9 91.5,102.0 92.4,101.3 93.3,100.8 94.1,100.4 95.0,100.1 95.8,100.0 96.7,100.1 97.6,100.1 98.4,100.3 99.3,100.5 100.2,100.7 101.0,101.0 101.9,101.3 102.8,101.7 103.6,102.1 104.5,102.6 105.3,103.1 106.2,103.7 107.1,104.3 107.9,104.9 108.8,105.6 109.7,106.3 110.5,107.1 111.4,107.9 112.2,108.7 113.1,109.6 114.0,110.5 114.8,111.4 115.7,112.4 116.6,113.4 117.4,114.4 118.3,115.4 119.2,116.4 120.0,117.5 120.9,118.5 121.7,119.6 122.6,120.7 123.5,121.8 124.3,122.9 125.2,124.0 126.1,125.1 126.9,126.2 127.8,127.3 128.6,128.4 129.5,129.5 130.4,130.6 131.2,131.6 132.1,132.6 133.0,133.6 133.8,134.6 134.7,135.5 135.5,136.4 136.4,137.3 137.3,138.1 138.1,138.8 139.0,139.5 139.9,140.2 140.7,140.7 141.6,141.2 142.5,141.6 143.3,142.0 144.2,142.2 145.0,142.3 145.9,142.3 146.8,142.3 147.6,142.1 148.5,141.8 149.4,141.4 150.2,140.8 151.1,140.2 151.9,139.4 152.8,138.6 153.7,137.6 154.5,136.5 155.4,135.4 156.3,134.1 157.1,132.8 158.0,131.5 158.8,130.1 159.7,128.6 160.6,127.2 161.4,125.8 162.3,124.4 163.2,123.1 164.0,121.9 164.9,120.7 165.8,119.6 166.6,118.7 167.5,118.0 168.3,117.3 169.2,116.9 170.1,116.6 170.9,116.5 171.8,116.7 172.7,116.9 173.5,117.2 174.4,117.5 175.2,117.8 176.1,118.2 177.0,118.6 177.8,119.0 178.7,119.4 179.6,119.9 180.4,120.4 181.3,121.0 182.1,121.6 183.0,122.2 183.9,122.8 184.7,123.5 185.6,124.1 186.5,124.9 187.3,125.6 188.2,126.3 189.1,127.1 189.9,127.9 190.8,128.7 191.6,129.5 192.5,130.3 193.4,131.2 194.2,132.0 195.1,132.9 196.0,133.8 196.8,134.7 197.7,135.5 198.5,136.4 199.4,137.3 200.3,138.2 201.1,139.1 202.0,140.0 202.9,140.8 203.7,141.7"/>
<polyline fill="none" stroke="#b22868" stroke-width="1.4" stroke-linejoin="round" points="74.3,130.3 75.1,128.2 76.0,126.1 76.9,123.9 77.7,121.8 78.6,119.6 79.5,117.5 80.3,115.4 81.2,113.3 82.0,111.2 82.9,109.2 83.8,107.3 84.6,105.4 85.5,103.7 86.4,102.0 87.2,100.4 88.1,99.0 88.9,97.6 89.8,96.5 90.7,95.4 91.5,94.5 92.4,93.8 93.3,93.2 94.1,92.8 95.0,92.5 95.8,92.4 96.7,92.4 97.6,92.5 98.4,92.7 99.3,92.9 100.2,93.1 101.0,93.4 101.9,93.8 102.8,94.2 103.6,94.7 104.5,95.2 105.3,95.8 106.2,96.5 107.1,97.1 107.9,97.9 108.8,98.6 109.7,99.4 110.5,100.3 111.4,101.2 112.2,102.1 113.1,103.1 114.0,104.1 114.8,105.1 115.7,106.2 116.6,107.3 117.4,108.4 118.3,109.5 119.2,110.7 120.0,111.9 120.9,113.1 121.7,114.3 122.6,115.5 123.5,116.7 124.3,118.0 125.2,119.2 126.1,120.4 126.9,121.7 127.8,122.9 128.6,124.1 129.5,125.3 130.4,126.5 131.2,127.7 132.1,128.8 133.0,129.9 133.8,131.0 134.7,132.1 135.5,133.1 136.4,134.1 137.3,135.0 138.1,135.9 139.0,136.7 139.9,137.4 140.7,138.1 141.6,138.7 142.5,139.2 143.3,139.6 144.2,140.0 145.0,140.2 145.9,140.3 146.8,140.3 147.6,140.2 148.5,140.0 149.4,139.7 150.2,139.3 151.1,138.7 151.9,138.0 152.8,137.2 153.7,136.3 154.5,135.3 155.4,134.2 156.3,133.1 157.1,131.8 158.0,130.6 158.8,129.2 159.7,127.9 160.6,126.5 161.4,125.2 162.3,123.9 163.2,122.6 164.0,121.4 164.9,120.3 165.8,119.3 166.6,118.5 167.5,117.7 168.3,117.2 169.2,116.8 170.1,116.6 170.9,116.5 171.8,116.7 172.7,116.9 173.5,117.2 174.4,117.6 175.2,117.9 176.1,118.3 177.0,118.7 177.8,119.1 178.7,119.6 179.6,120.1 180.4,120.6 181.3,121.2 182.1,121.7 183.0,122.4 183.9,123.0 184.7,123.6 185.6,124.3 186.5,125.0 187.3,125.7 188.2,126.5 189.1,127.2 189.9,128.0 190.8,128.8 191.6,129.6 192.5,130.4 193.4,131.3 194.2,132.1 195.1,133.0 196.0,133.8 196.8,134.7 197.7,135.5 198.5,136.4 199.4,137.3 200.3,138.2 201.1,139.0 202.0,139.9 202.9,140.8 203.7,141.6"/>
<polyline fill="none" stroke="#26348c" stroke-width="1.4" stroke-linejoin="round" points="74.3,122.0 75.1,119.6 76.0,117.2 76.9,114.8 77.7,112.3 78.6,109.9 79.5,107.5 80.3,105.2 81.2,102.8 82.0,100.6 82.9,98.4 83.8,96.2 84.6,94.2 85.5,92.2 86.4,90.4 87.2,88.7 88.1,87.1 88.9,85.6 89.8,84.3 90.7,83.2 91.5,82.2 92.4,81.4 93.3,80.8 94.1,80.3 95.0,80.0 95.8,79.9 96.7,80.0 97.6,80.1 98.4,80.2 99.3,80.5 100.2,80.8 101.0,81.1 101.9,81.6 102.8,82.0 103.6,82.6 104.5,83.2 105.3,83.9 106.2,84.6 107.1,85.4 107.9,86.2 108.8,87.1 109.7,88.0 110.5,89.0 111.4,90.1 112.2,91.1 113.1,92.3 114.0,93.4 114.8,94.6 115.7,95.9 116.6,97.1 117.4,98.4 118.3,99.7 119.2,101.1 120.0,102.4 120.9,103.8 121.7,105.2 122.6,106.6 123.5,108.1 124.3,109.5 125.2,110.9 126.1,112.3 126.9,113.8 127.8,115.2 128.6,116.6 129.5,118.0 130.4,119.4 131.2,120.8 132.1,122.1 133.0,123.5 133.8,124.8 134.7,126.0 135.5,127.2 136.4,128.4 137.3,129.5 138.1,130.5 139.0,131.5 139.9,132.5 140.7,133.3 141.6,134.1 142.5,134.8 143.3,135.4 144.2,135.9 145.0,136.3 145.9,136.5 146.8,136.7 147.6,136.8 148.5,136.7 149.4,136.5 150.2,136.2 151.1,135.8 151.9,135.3 152.8,134.6 153.7,133.9 154.5,133.0 155.4,132.0 156.3,131.0 157.1,129.9 158.0,128.7 158.8,127.5 159.7,126.3 160.6,125.1 161.4,123.8 162.3,122.6 163.2,121.5 164.0,120.4 164.9,119.4 165.8,118.5 166.6,117.8 167.5,117.1 168.3,116.6 169.2,116.3 170.1,116.2 170.9,116.2 171.8,116.5 172.7,116.8 173.5,117.1 174.4,117.5 175.2,117.9 176.1,118.3 177.0,118.7 177.8,119.2 178.7,119.7 179.6,120.2 180.4,120.8 181.3,121.3 182.1,121.9 183.0,122.5 183.9,123.1 184.7,123.8 185.6,124.5 186.5,125.2 187.3,125.9 188.2,126.6 189.1,127.4 189.9,128.1 190.8,128.9 191.6,129.7 192.5,130.5 193.4,131.3 194.2,132.2 195.1,133.0 196.0,133.8 196.8,134.7 197.7,135.5 198.5,136.4 199.4,137.2 200.3,138.1 201.1,138.9 202.0,139.8 202.9,140.6 203.7,141.5"/>
<polyline fill="none" stroke="#bba63a" stroke-width="1.4" stroke-linejoin="round" points="74.3,113.7 75.1,110.7 76.0,107.6 76.9,104.5 77.7,101.4 78.6,98.3 79.5,95.3 80.3,92.2 81.2,89.2 82.0,86.3 82.9,83.4 83.8,80.7 84.6,78.0 85.5,75.5 86.4,73.1 87.2,70.8 88.1,68.8 88.9,66.9 89.8,65.2 90.7,63.7 91.5,62.4 92.4,61.3 93.3,60.5 94.1,59.9 95.0,59.5 95.8,59.4 96.7,59.4 97.6,59.5 98.4,59.8 99.3,60.0 100.2,60.4 101.0,60.9 101.9,61.4 102.8,62.0 103.6,62.7 104.5,63.4 105.3,64.3 106.2,65.2 107.1,66.1 107.9,67.2 108.8,68.3 109.7,69.4 110.5,70.7 111.4,71.9 112.2,73.3 113.1,74.7 114.0,76.1 114.8,77.6 115.7,79.1 116.6,80.7 117.4,82.3 118.3,83.9 119.2,85.6 120.0,87.3 120.9,89.0 121.7,90.7 122.6,92.5 123.5,94.3 124.3,96.0 125.2,97.8 126.1,99.6 126.9,101.4 127.8,103.1 128.6,104.9 129.5,106.7 130.4,108.4 131.2,110.1 132.1,111.8 133.0,113.4 133.8,115.1 134.7,116.7 135.5,118.2 136.4,119.7 137.3,121.1 138.1,122.5 139.0,123.8 139.9,125.0 140.7,126.1 141.6,127.2 142.5,128.1 143.3,129.0 144.2,129.8 145.0,130.4 145.9,131.0 146.8,131.4 147.6,131.7 148.5,131.9 149.4,131.9 150.2,131.8 151.1,131.6 151.9,131.3 152.8,130.9 153.7,130.3 154.5,129.7 155.4,128.9 156.3,128.1 157.1,127.1 158.0,126.2 158.8,125.1 159.7,124.1 160.6,123.0 161.4,122.0 162.3,120.9 163.2,120.0 164.0,119.0 164.9,118.2 165.8,117.5 166.6,116.8 167.5,116.4 168.3,116.0 169.2,115.8 170.1,115.8 170.9,116.0 171.8,116.3 172.7,116.7 173.5,117.1 174.4,117.5 175.2,118.0 176.1,118.4 177.0,118.9 177.8,119.4 178.7,119.9 179.6,120.5 180.4,121.0 181.3,121.6 182.1,122.2 183.0,122.8 183.9,123.5 184.7,124.1 185.6,124.8 186.5,125.5 187.3,126.2 188.2,126.9 189.1,127.6 189.9,128.4 190.8,129.1 191.6,129.9 192.5,130.7 193.4,131.5 194.2,132.3 195.1,133.1 196.0,133.9 196.8,134.7 197.7,135.5 198.5,136.3 199.4,137.1 200.3,138.0 201.1,138.8 202.0,139.6 202.9,140.4 203.7,141.2"/>
<polyline fill="none" stroke="#f28cd2" stroke-width="1.4" stroke-linejoin="round" points="74.3,102.4 75.1,99.4 76.0,96.4 76.9,93.5 77.7,90.5 78.6,87.6 79.5,84.7 80.3,81.9 81.2,79.1 82.0,76.4 82.9,73.8 83.8,71.3 84.6,68.9 85.5,66.6 86.4,64.5 87.2,62.5 88.1,60.6 88.9,59.0 89.8,57.5 90.7,56.2 91.5,55.0 92.4,54.1 93.3,53.4 94.1,52.9 95.0,52.6 95.8,52.5 96.7,52.5 97.6,52.6 98.4,52.8 99.3,53.1 100.2,53.5 101.0,54.0 101.9,54.5 102.8,55.1 103.6,55.8 104.5,56.6 105.3,57.5 106.2,58.4 107.1,59.4 107.9,60.5 108.8,61.6 109.7,62.8 110.5,64.1 111.4,65.4 112.2,66.8 113.1,68.2 114.0,69.7 114.8,71.3 115.7,72.8 116.6,74.5 117.4,76.1 118.3,77.8 119.2,79.5 120.0,81.3 120.9,83.1 121.7,84.9 122.6,86.7 123.5,88.6 124.3,90.4 125.2,92.3 126.1,94.1 126.9,96.0 127.8,97.9 128.6,99.7 129.5,101.6 130.4,103.4 131.2,105.2 132.1,107.0 133.0,108.7 133.8,110.4 134.7,112.1 135.5,113.7 136.4,115.3 137.3,116.8 138.1,118.3 139.0,119.7 139.9,121.0 140.7,122.3 141.6,123.4 142.5,124.5 143.3,125.5 144.2,126.3 145.0,127.1 145.9,127.7 146.8,128.3 147.6,128.7 148.5,129.0 149.4,129.1 150.2,129.2 151.1,129.1 151.9,128.9 152.8,128.5 153.7,128.1 154.5,127.5 155.4,126.9 156.3,126.2 157.1,125.4 158.0,124.5 158.8,123.6 159.7,122.6 160.6,121.7 161.4,120.7 162.3,119.8 163.2,118.9 164.0,118.1 164.9,117.4 165.8,116.7 166.6,116.2 167.5,115.8 168.3,115.5 169.2,115.4 170.1,115.5 170.9,115.7 171.8,116.1 172.7,116.6 173.5,117.0 174.4,117.5 175.2,118.0 176.1,118.5 177.0,119.0 177.8,119.5 178.7,120.1 179.6,120.6 180.4,121.2 181.3,121.8 182.1,122.4 183.0,123.1 183.9,123.7 184.7,124.4 185.6,125.1 186.5,125.7 187.3,126.5 188.2,127.2 189.1,127.9 189.9,128.7 190.8,129.4 191.6,130.2 192.5,131.0 193.4,131.7 194.2,132.5 195.1,133.3 196.0,134.1 196.8,134.9 197.7,135.7 198.5,136.5 199.4,137.4 200.3,138.2 201.1,139.0 202.0,139.8 202.9,140.6 203.7,141.4"/>
<polyline fill="none" stroke="#bdeef4" stroke-width="1.4" stroke-linejoin="round" points="74.3,98.7 75.1,95.7 76.0,92.7 76.9,89.7 77.7,86.8 78.6,83.9 79.5,81.0 80.3,78.2 81.2,75.4 82.0,72.8 82.9,70.2 83.8,67.7 84.6,65.3 85.5,63.1 86.4,61.0 87.2,59.0 88.1,57.2 88.9,55.6 89.8,54.1 90.7,52.9 91.5,51.8 92.4,50.9 93.3,50.1 94.1,49.6 95.0,49.3 95.8,49.2 96.7,49.3 97.6,49.4 98.4,49.6 99.3,49.9 100.2,50.3 101.0,50.8 101.9,51.3 102.8,52.0 103.6,52.7 104.5,53.5 105.3,54.3 106.2,55.3 107.1,56.3 107.9,57.4 108.8,58.6 109.7,59.8 110.5,61.1 111.4,62.4 112.2,63.8 113.1,65.3 114.0,66.8 114.8,68.4 115.7,70.0 116.6,71.7 117.4,73.4 118.3,75.1 119.2,76.9 120.0,78.7 120.9,80.5 121.7,82.3 122.6,84.2 123.5,86.1 124.3,88.0 125.2,89.9 126.1,91.8 126.9,93.7 127.8,95.6 128.6,97.5 129.5,99.4 130.4,101.3 131.2,103.1 132.1,104.9 133.0,106.7 133.8,108.5 134.7,110.2 135.5,111.9 136.4,113.5 137.3,115.1 138.1,116.6 139.0,118.1 139.9,119.4 140.7,120.7 141.6,121.9 142.5,123.1 143.3,124.1 144.2,125.0 145.0,125.8 145.9,126.5 146.8,127.1 147.6,127.5 148.5,127.9 149.4,128.1 150.2,128.2 151.1,128.1 151.9,127.9 152.8,127.7 153.7,127.3 154.5,126.8 155.4,126.2 156.3,125.5 157.1,124.7 158.0,123.9 158.8,123.0 159.7,122.1 160.6,121.2 161.4,120.3 162.3,119.5 163.2,118.6 164.0,117.8 164.9,117.1 165.8,116.5 166.6,116.0 167.5,115.7 168.3,115.5 169.2,115.4 170.1,115.5 170.9,115.7 171.8,116.1 172.7,116.6 173.5,117.1 174.4,117.6 175.2,118.1 176.1,118.6 177.0,119.1 177.8,119.6 178.7,120.2 179.6,120.8 180.4,121.4 181.3,122.0 182.1,122.6 183.0,123.2 183.9,123.9 184.7,124.5 185.6,125.2 186.5,125.9 187.3,126.6 188.2,127.4 189.1,128.1 189.9,128.8 190.8,129.6 191.6,130.3 192.5,131.1 193.4,131.9 194.2,132.7 195.1,133.5 196.0,134.3 196.8,135.1 197.7,135.9 198.5,136.7 199.4,137.5 200.3,138.3 201.1,139.1 202.0,139.9 202.9,140.7 203.7,141.5"/>
<polyline fill="none" stroke="#1f6fa6" stroke-width="1.4" stroke-linejoin="round" points="74.3,94.0 75.1,90.9 76.0,87.7 76.9,84.6 77.7,81.4 78.6,78.3 79.5,75.3 80.3,72.3 81.2,69.4 82.0,66.6 82.9,63.8 83.8,61.2 84.6,58.7 85.5,56.3 86.4,54.1 87.2,52.0 88.1,50.1 88.9,48.4 89.8,46.8 90.7,45.5 91.5,44.3 92.4,43.3 93.3,42.6 94.1,42.0 95.0,41.7 95.8,41.6 96.7,41.6 97.6,41.8 98.4,42.0 99.3,42.3 100.2,42.7 101.0,43.2 101.9,43.8 102.8,44.5 103.6,45.3 104.5,46.1 105.3,47.0 106.2,48.0 107.1,49.1 107.9,50.3 108.8,51.5 109.7,52.8 110.5,54.2 111.4,55.6 112.2,57.1 113.1,58.6 114.0,60.2 114.8,61.9 115.7,63.6 116.6,65.4 117.4,67.2 118.3,69.0 119.2,70.9 120.0,72.8 120.9,74.7 121.7,76.7 122.6,78.7 123.5,80.7 124.3,82.7 125.2,84.7 126.1,86.7 126.9,88.7 127.8,90.8 128.6,92.8 129.5,94.8 130.4,96.8 131.2,98.7 132.1,100.7 133.0,102.6 133.8,104.5 134.7,106.3 135.5,108.1 136.4,109.9 137.3,111.5 138.1,113.2 139.0,114.7 139.9,116.2 140.7,117.6 141.6,118.9 142.5,120.1 143.3,121.3 144.2,122.3 145.0,123.2 145.9,124.0 146.8,124.7 147.6,125.2 148.5,125.6 149.4,125.9 150.2,126.1 151.1,126.2 151.9,126.1 152.8,125.9 153.7,125.6 154.5,125.2 155.4,124.7 156.3,124.1 157.1,123.4 158.0,122.7 158.8,121.9 159.7,121.1 160.6,120.2 161.4,119.4 162.3,118.6 163.2,117.8 164.0,117.1 164.9,116.5 165.8,116.0 166.6,115.5 167.5,115.2 168.3,115.1 169.2,115.0 170.1,115.2 170.9,115.5 171.8,115.9 172.7,116.4 173.5,116.9 174.4,117.5 175.2,118.0 176.1,118.5 177.0,119.1 177.8,119.6 178.7,120.2 179.6,120.8 180.4,121.4 181.3,122.0 182.1,122.7 183.0,123.3 183.9,124.0 184.7,124.6 185.6,125.3 186.5,126.0 187.3,126.7 188.2,127.5 189.1,128.2 189.9,128.9 190.8,129.7 191.6,130.4 192.5,131.2 193.4,132.0 194.2,132.7 195.1,133.5 196.0,134.3 196.8,135.1 197.7,135.9 198.5,136.7 199.4,137.5 200.3,138.3 201.1,139.1 202.0,139.9 202.9,140.6 203.7,141.4"/>
<polyline fill="none" stroke="#b8d850" stroke-width="1.4" stroke-linejoin="round" points="74.3,88.3 75.1,85.1 76.0,81.9 76.9,78.8 77.7,75.6 78.6,72.6 79.5,69.5 80.3,66.6 81.2,63.7 82.0,60.9 82.9,58.2 83.8,55.6 84.6,53.2 85.5,50.9 86.4,48.7 87.2,46.7 88.1,44.8 88.9,43.1 89.8,41.6 90.7,40.3 91.5,39.1 92.4,38.2 93.3,37.5 94.1,36.9 95.0,36.6 95.8,36.5 96.7,36.6 97.6,36.7 98.4,36.9 99.3,37.3 100.2,37.7 101.0,38.2 101.9,38.8 102.8,39.5 103.6,40.3 104.5,41.1 105.3,42.1 106.2,43.1 107.1,44.2 107.9,45.4 108.8,46.7 109.7,48.0 110.5,49.4 111.4,50.9 112.2,52.5 113.1,54.1 114.0,55.7 114.8,57.4 115.7,59.2 116.6,61.0 117.4,62.9 118.3,64.8 119.2,66.7 120.0,68.7 120.9,70.7 121.7,72.7 122.6,74.7 123.5,76.8 124.3,78.9 125.2,81.0 126.1,83.0 126.9,85.1 127.8,87.2 128.6,89.3 129.5,91.4 130.4,93.5 131.2,95.5 132.1,97.5 133.0,99.5 133.8,101.5 134.7,103.4 135.5,105.3 136.4,107.1 137.3,108.8 138.1,110.5 139.0,112.2 139.9,113.7 140.7,115.2 141.6,116.6 142.5,117.9 143.3,119.1 144.2,120.2 145.0,121.1 145.9,122.0 146.8,122.7 147.6,123.4 148.5,123.9 149.4,124.2 150.2,124.5 151.1,124.6 151.9,124.6 152.8,124.5 153.7,124.2 154.5,123.9 155.4,123.4 156.3,122.9 157.1,122.3 158.0,121.6 158.8,120.9 159.7,120.1 160.6,119.4 161.4,118.6 162.3,117.8 163.2,117.1 164.0,116.5 164.9,115.9 165.8,115.4 166.6,115.1 167.5,114.8 168.3,114.7 169.2,114.7 170.1,114.9 170.9,115.3 171.8,115.8 172.7,116.3 173.5,116.8 174.4,117.3 175.2,117.9 176.1,118.5 177.0,119.0 177.8,119.6 178.7,120.2 179.6,120.8 180.4,121.4 181.3,122.1 182.1,122.7 183.0,123.4 183.9,124.0 184.7,124.7 185.6,125.4 186.5,126.1 187.3,126.8 188.2,127.5 189.1,128.3 189.9,129.0 190.8,129.8 191.6,130.5 192.5,131.3 193.4,132.0 194.2,132.8 195.1,133.6 196.0,134.4 196.8,135.2 197.7,135.9 198.5,136.7 199.4,137.5 200.3,138.3 201.1,139.1 202.0,139.9 202.9,140.7 203.7,141.4"/>
<polyline fill="none" stroke="#d42a2a" stroke-width="1.4" stroke-linejoin="round" points="74.3,86.2 75.1,83.0 76.0,79.8 76.9,76.6 77.7,73.4 78.6,70.3 79.5,67.3 80.3,64.3 81.2,61.4 82.0,58.5 82.9,55.8 83.8,53.2 84.6,50.7 85.5,48.4 86.4,46.2 87.2,44.2 88.1,42.3 88.9,40.6 89.8,39.1 90.7,37.7 91.5,36.6 92.4,35.7 93.3,34.9 94.1,34.4 95.0,34.1 95.8,34.0 96.7,34.0 97.6,34.2 98.4,34.4 99.3,34.7 100.2,35.2 101.0,35.7 101.9,36.3 102.8,37.0 103.6,37.8 104.5,38.7 105.3,39.6 106.2,40.7 107.1,41.8 107.9,43.0 108.8,44.3 109.7,45.7 110.5,47.1 111.4,48.6 112.2,50.1 113.1,51.8 114.0,53.4 114.8,55.2 115.7,57.0 116.6,58.8 117.4,60.7 118.3,62.6 119.2,64.6 120.0,66.6 120.9,68.6 121.7,70.7 122.6,72.7 123.5,74.8 124.3,77.0 125.2,79.1 126.1,81.2 126.9,83.3 127.8,85.5 128.6,87.6 129.5,89.7 130.4,91.8 131.2,93.9 132.1,95.9 133.0,98.0 133.8,99.9 134.7,101.9 135.5,103.8 136.4,105.7 137.3,107.5 138.1,109.2 139.0,110.9 139.9,112.5 140.7,114.0 141.6,115.4 142.5,116.7 143.3,118.0 144.2,119.1 145.0,120.1 145.9,121.0 146.8,121.8 147.6,122.4 148.5,123.0 149.4,123.4 150.2,123.7 151.1,123.8 151.9,123.9 152.8,123.8 153.7,123.6 154.5,123.3 155.4,122.8 156.3,122.4 157.1,121.8 158.0,121.1 158.8,120.5 159.7,119.7 160.6,119.0 161.4,118.3 162.3,117.6 163.2,116.9 164.0,116.3 164.9,115.7 165.8,115.3 166.6,114.9 167.5,114.7 168.3,114.6 169.2,114.7 170.1,114.9 170.9,115.3 171.8,115.8 172.7,116.3 173.5,116.9 174.4,117.4 175.2,118.0 176.1,118.5 177.0,119.1 177.8,119.7 178.7,120.3 179.6,120.9 180.4,121.6 181.3,122.2 182.1,122.8 183.0,123.5 183.9,124.2 184.7,124.8 185.6,125.5 186.5,126.2 187.3,127.0 188.2,127.7 189.1,128.4 189.9,129.1 190.8,129.9 191.6,130.6 192.5,131.4 193.4,132.2 194.2,132.9 195.1,133.7 196.0,134.5 196.8,135.3 197.7,136.1 198.5,136.8 199.4,137.6 200.3,138.4 201.1,139.2 202.0,140.0 202.9,140.7 203.7,141.5"/>
<polyline fill="none" stroke="#1c1c1c" stroke-width="1.4" stroke-linejoin="round" points="74.3,85.7 75.1,82.4 76.0,79.0 76.9,75.7 77.7,72.4 78.6,69.1 79.5,65.9 80.3,62.8 81.2,59.7 82.0,56.7 82.9,53.9 83.8,51.1 84.6,48.5 85.5,46.0 86.4,43.7 87.2,41.6 88.1,39.6 88.9,37.8 89.8,36.2 90.7,34.7 91.5,33.5 92.4,32.5 93.3,31.8 94.1,31.2 95.0,30.9 95.8,30.7 96.7,30.8 97.6,30.9 98.4,31.2 99.3,31.5 100.2,32.0 101.0,32.5 101.9,33.1 102.8,33.8 103.6,34.6 104.5,35.5 105.3,36.5 106.2,37.6 107.1,38.7 107.9,40.0 108.8,41.3 109.7,42.6 110.5,44.1 111.4,45.6 112.2,47.2 113.1,48.9 114.0,50.6 114.8,52.4 115.7,54.2 116.6,56.1 117.4,58.0 118.3,59.9 119.2,62.0 120.0,64.0 120.9,66.1 121.7,68.2 122.6,70.3 123.5,72.4 124.3,74.6 125.2,76.7 126.1,78.9 126.9,81.1 127.8,83.3 128.6,85.4 129.5,87.6 130.4,89.7 131.2,91.9 132.1,94.0 133.0,96.0 133.8,98.1 134.7,100.1 135.5,102.0 136.4,103.9 137.3,105.8 138.1,107.6 139.0,109.3 139.9,110.9 140.7,112.5 141.6,113.9 142.5,115.3 143.3,116.6 144.2,117.8 145.0,118.8 145.9,119.8 146.8,120.6 147.6,121.3 148.5,121.9 149.4,122.3 150.2,122.6 151.1,122.8 151.9,122.9 152.8,122.9 153.7,122.7 154.5,122.4 155.4,122.0 156.3,121.6 157.1,121.0 158.0,120.4 158.8,119.8 159.7,119.1 160.6,118.4 161.4,117.7 162.3,117.0 163.2,116.4 164.0,115.8 164.9,115.3 165.8,114.9 166.6,114.6 167.5,114.4 168.3,114.3 169.2,114.4 170.1,114.6 170.9,115.0 171.8,115.6 172.7,116.1 173.5,116.7 174.4,117.3 175.2,117.8 176.1,118.4 177.0,119.0 177.8,119.6 178.7,120.2 179.6,120.8 180.4,121.5 181.3,122.1 182.1,122.8 183.0,123.4 183.9,124.1 184.7,124.8 185.6,125.5 186.5,126.2 187.3,126.9 188.2,127.7 189.1,128.4 189.9,129.1 190.8,129.9 191.6,130.6 192.5,131.4 193.4,132.2 194.2,132.9 195.1,133.7 196.0,134.5 196.8,135.3 197.7,136.0 198.5,136.8 199.4,137.6 200.3,138.4 201.1,139.2 202.0,139.9 202.9,140.7 203.7,141.5"/>
<rect x="52.7" y="17.4" width="173" height="136.1" fill="none" stroke="#111" stroke-width="1.6"/>
<line x1="49.5" y1="28.2" x2="52.7" y2="28.2" stroke="#111" stroke-width="1.2"/>
<text x="48.5" y="31.9" font-size="10.6" text-anchor="end" fill="#111">0</text>
<line x1="49.5" y1="51.3" x2="52.7" y2="51.3" stroke="#111" stroke-width="1.2"/>
<text x="48.5" y="55.0" font-size="10.6" text-anchor="end" fill="#111">500</text>
<line x1="49.5" y1="74.4" x2="52.7" y2="74.4" stroke="#111" stroke-width="1.2"/>
<text x="48.5" y="78.1" font-size="10.6" text-anchor="end" fill="#111">400</text>
<line x1="49.5" y1="97.5" x2="52.7" y2="97.5" stroke="#111" stroke-width="1.2"/>
<text x="48.5" y="101.2" font-size="10.6" text-anchor="end" fill="#111">300</text>
<line x1="49.5" y1="120.6" x2="52.7" y2="120.6" stroke="#111" stroke-width="1.2"/>
<text x="48.5" y="124.3" font-size="10.6" text-anchor="end" fill="#111">200</text>
<line x1="49.5" y1="143.7" x2="52.7" y2="143.7" stroke="#111" stroke-width="1.2"/>
<text x="48.5" y="147.4" font-size="10.6" text-anchor="end" fill="#111">100</text>
<line x1="52.7" y1="153.5" x2="52.7" y2="156.8" stroke="#111" stroke-width="1.2"/>
<text x="53.5" y="167.6" font-size="10.6" text-anchor="middle" fill="#111">350</text>
<line x1="74.3" y1="153.5" x2="74.3" y2="156.8" stroke="#111" stroke-width="1.2"/>
<text x="75.1" y="167.6" font-size="10.6" text-anchor="middle" fill="#111">400</text>
<line x1="95.8" y1="153.5" x2="95.8" y2="156.8" stroke="#111" stroke-width="1.2"/>
<text x="96.6" y="167.6" font-size="10.6" text-anchor="middle" fill="#111">450</text>
<line x1="117.4" y1="153.5" x2="117.4" y2="156.8" stroke="#111" stroke-width="1.2"/>
<text x="118.2" y="167.6" font-size="10.6" text-anchor="middle" fill="#111">500</text>
<line x1="139.0" y1="153.5" x2="139.0" y2="156.8" stroke="#111" stroke-width="1.2"/>
<text x="139.8" y="167.6" font-size="10.6" text-anchor="middle" fill="#111">550</text>
<line x1="160.6" y1="153.5" x2="160.6" y2="156.8" stroke="#111" stroke-width="1.2"/>
<text x="161.4" y="167.6" font-size="10.6" text-anchor="middle" fill="#111">600</text>
<line x1="182.1" y1="153.5" x2="182.1" y2="156.8" stroke="#111" stroke-width="1.2"/>
<text x="182.9" y="167.6" font-size="10.6" text-anchor="middle" fill="#111">650</text>
<line x1="203.7" y1="153.5" x2="203.7" y2="156.8" stroke="#111" stroke-width="1.2"/>
<text x="204.5" y="167.6" font-size="10.6" text-anchor="middle" fill="#111">700</text>
<line x1="225.3" y1="153.5" x2="225.3" y2="156.8" stroke="#111" stroke-width="1.2"/>
<text x="226.1" y="167.6" font-size="10.6" text-anchor="middle" fill="#111">750</text>
<text x="139" y="184.5" font-size="10.5" text-anchor="middle" fill="#111">Wavelength/(nm)</text>
<text transform="translate(25,86.8) rotate(-90)" font-size="11.2" text-anchor="middle" fill="#111">FL intensity/(a.u.)</text>
<line x1="189.2" y1="23.8" x2="206.3" y2="23.8" stroke="#1c1c1c" stroke-width="1.8"/>
<text x="208.6" y="26.7" font-size="8.2" fill="#111">0</text>
<line x1="189.2" y1="32.7" x2="206.3" y2="32.7" stroke="#d42a2a" stroke-width="1.8"/>
<text x="208.6" y="35.6" font-size="8.2" fill="#111">1</text>
<line x1="189.2" y1="41.6" x2="206.3" y2="41.6" stroke="#b8d850" stroke-width="1.8"/>
<text x="208.6" y="44.5" font-size="8.2" fill="#111">2.5</text>
<line x1="189.2" y1="50.5" x2="206.3" y2="50.5" stroke="#1f6fa6" stroke-width="1.8"/>
<text x="208.6" y="53.4" font-size="8.2" fill="#111">5</text>
<line x1="189.2" y1="59.4" x2="206.3" y2="59.4" stroke="#bdeef4" stroke-width="1.8"/>
<text x="208.6" y="62.3" font-size="8.2" fill="#111">10</text>
<line x1="189.2" y1="68.3" x2="206.3" y2="68.3" stroke="#f28cd2" stroke-width="1.8"/>
<text x="208.6" y="71.2" font-size="8.2" fill="#111">15</text>
<line x1="189.2" y1="77.2" x2="206.3" y2="77.2" stroke="#bba63a" stroke-width="1.8"/>
<text x="208.6" y="80.1" font-size="8.2" fill="#111">25</text>
<line x1="189.2" y1="86.1" x2="206.3" y2="86.1" stroke="#26348c" stroke-width="1.8"/>
<text x="208.6" y="89.0" font-size="8.2" fill="#111">50</text>
<line x1="189.2" y1="95.0" x2="206.3" y2="95.0" stroke="#b22868" stroke-width="1.8"/>
<text x="208.6" y="97.9" font-size="8.2" fill="#111">75</text>
<line x1="189.2" y1="103.9" x2="206.3" y2="103.9" stroke="#1b8a3c" stroke-width="1.8"/>
<text x="208.6" y="106.8" font-size="8.2" fill="#111">100</text>
<line x1="189.2" y1="112.8" x2="206.3" y2="112.8" stroke="#f6a860" stroke-width="1.8"/>
<text x="208.6" y="115.7" font-size="8.2" fill="#111">150</text>
<line x1="189.2" y1="121.7" x2="206.3" y2="121.7" stroke="#b264e2" stroke-width="1.8"/>
<text x="208.6" y="124.6" font-size="8.2" fill="#111">250</text>
<line x1="185.1" y1="24.2" x2="185.1" y2="118" stroke="#ee1a1a" stroke-width="1.4"/>
<polygon points="182.6,116.6 187.6,116.6 185.1,122.6" fill="#ee1a1a"/>
<text x="141.8" y="39" font-size="8.8" fill="#111">Fe<tspan font-size="5.4" dy="-3.2">3+</tspan><tspan dy="3.2">/(μM)</tspan></text>
</g>
<g font-family="'Liberation Sans', Arial, sans-serif" font-weight="bold">
<polyline fill="none" stroke="#10a0b0" stroke-width="1.5" stroke-linejoin="round" points="339.6,143.5 341.3,143.3 343.1,143.1 344.8,142.8 346.5,142.5 348.3,142.1 350.0,141.7 351.7,141.2 353.5,140.7 355.2,140.1 356.9,139.5 358.7,138.8 360.4,138.1 362.1,137.3 363.8,136.5 365.6,135.6 367.3,134.7 369.0,133.8 370.8,132.9 372.5,132.0 374.2,131.1 376.0,130.1 377.7,129.2 379.4,128.4 381.2,127.5 382.9,126.7 384.6,126.0 386.4,125.3 388.1,124.7 389.8,124.2 391.6,123.7 393.3,123.3 395.0,123.0 396.8,122.8 398.5,122.7 400.2,122.6 402.0,122.7 403.7,122.7 405.4,122.9 407.1,123.1 408.9,123.3 410.6,123.6 412.3,123.9 414.1,124.3 415.8,124.7 417.5,125.2 419.3,125.6 421.0,126.1 422.7,126.6 424.5,127.1 426.2,127.6 427.9,128.1 429.7,128.6 431.4,129.2 433.1,129.7 434.9,130.2 436.6,130.7 438.3,131.2 440.1,131.6 441.8,132.1 443.5,132.5 445.3,132.9 447.0,133.3 448.7,133.7 450.4,134.1 452.2,134.4 453.9,134.8 455.6,135.1 457.4,135.4 459.1,135.7 460.8,135.9 462.6,136.1 464.3,136.4 466.0,136.6 467.8,136.8 469.5,136.9 471.2,137.1 473.0,137.2 474.7,137.4 476.4,137.5 478.2,137.6 479.9,137.7 481.6,137.8 483.4,137.9 485.1,138.0 486.8,138.1 488.6,138.1 490.3,138.2 492.0,138.3 493.7,138.3 495.5,138.4 497.2,138.4 498.9,138.5 500.7,138.5 502.4,138.6 504.1,138.7 505.9,138.7 507.6,138.8 509.3,138.8 511.1,138.9 512.8,139.0"/>
<polyline fill="none" stroke="#1060c0" stroke-width="1.5" stroke-linejoin="round" points="339.6,143.3 341.3,143.0 343.1,142.7 344.8,142.4 346.5,142.0 348.3,141.5 350.0,141.0 351.7,140.4 353.5,139.8 355.2,139.0 356.9,138.3 358.7,137.4 360.4,136.5 362.1,135.5 363.8,134.5 365.6,133.4 367.3,132.3 369.0,131.2 370.8,130.1 372.5,128.9 374.2,127.7 376.0,126.6 377.7,125.5 379.4,124.4 381.2,123.3 382.9,122.3 384.6,121.4 386.4,120.6 388.1,119.8 389.8,119.1 391.6,118.6 393.3,118.1 395.0,117.7 396.8,117.5 398.5,117.3 400.2,117.2 402.0,117.3 403.7,117.4 405.4,117.6 407.1,117.8 408.9,118.1 410.6,118.5 412.3,118.9 414.1,119.4 415.8,119.9 417.5,120.4 419.3,121.0 421.0,121.6 422.7,122.3 424.5,122.9 426.2,123.6 427.9,124.2 429.7,124.9 431.4,125.6 433.1,126.2 434.9,126.9 436.6,127.5 438.3,128.1 440.1,128.7 441.8,129.3 443.5,129.9 445.3,130.4 447.0,131.0 448.7,131.5 450.4,131.9 452.2,132.4 453.9,132.8 455.6,133.2 457.4,133.6 459.1,134.0 460.8,134.3 462.6,134.7 464.3,135.0 466.0,135.2 467.8,135.5 469.5,135.7 471.2,136.0 473.0,136.2 474.7,136.4 476.4,136.6 478.2,136.7 479.9,136.9 481.6,137.0 483.4,137.2 485.1,137.3 486.8,137.4 488.6,137.5 490.3,137.6 492.0,137.7 493.7,137.8 495.5,137.9 497.2,138.0 498.9,138.1 500.7,138.2 502.4,138.2 504.1,138.3 505.9,138.4 507.6,138.5 509.3,138.6 511.1,138.6 512.8,138.7"/>
<polyline fill="none" stroke="#8a8a00" stroke-width="1.5" stroke-linejoin="round" points="339.6,143.0 341.3,142.6 343.1,142.2 344.8,141.8 346.5,141.2 348.3,140.6 350.0,139.9 351.7,139.1 353.5,138.3 355.2,137.3 356.9,136.3 358.7,135.2 360.4,134.0 362.1,132.7 363.8,131.4 365.6,130.0 367.3,128.5 369.0,127.0 370.8,125.5 372.5,124.0 374.2,122.5 376.0,120.9 377.7,119.5 379.4,118.0 381.2,116.7 382.9,115.4 384.6,114.1 386.4,113.0 388.1,112.0 389.8,111.2 391.6,110.4 393.3,109.8 395.0,109.3 396.8,108.9 398.5,108.7 400.2,108.7 402.0,108.7 403.7,108.8 405.4,109.1 407.1,109.4 408.9,109.8 410.6,110.3 412.3,110.9 414.1,111.6 415.8,112.3 417.5,113.0 419.3,113.8 421.0,114.6 422.7,115.5 424.5,116.3 426.2,117.2 427.9,118.1 429.7,119.0 431.4,119.9 433.1,120.8 434.9,121.7 436.6,122.5 438.3,123.4 440.1,124.2 441.8,125.0 443.5,125.8 445.3,126.5 447.0,127.2 448.7,127.9 450.4,128.6 452.2,129.2 453.9,129.8 455.6,130.4 457.4,130.9 459.1,131.4 460.8,131.9 462.6,132.4 464.3,132.8 466.0,133.2 467.8,133.6 469.5,133.9 471.2,134.3 473.0,134.6 474.7,134.9 476.4,135.1 478.2,135.4 479.9,135.6 481.6,135.9 483.4,136.1 485.1,136.3 486.8,136.4 488.6,136.6 490.3,136.8 492.0,136.9 493.7,137.1 495.5,137.2 497.2,137.3 498.9,137.5 500.7,137.6 502.4,137.7 504.1,137.8 505.9,137.9 507.6,138.1 509.3,138.2 511.1,138.3 512.8,138.4"/>
<polyline fill="none" stroke="#800000" stroke-width="1.5" stroke-linejoin="round" points="339.6,142.8 341.3,142.4 343.1,141.9 344.8,141.4 346.5,140.8 348.3,140.1 350.0,139.4 351.7,138.5 353.5,137.5 355.2,136.4 356.9,135.3 358.7,134.0 360.4,132.7 362.1,131.2 363.8,129.7 365.6,128.1 367.3,126.5 369.0,124.8 370.8,123.1 372.5,121.4 374.2,119.7 376.0,118.0 377.7,116.3 379.4,114.7 381.2,113.1 382.9,111.7 384.6,110.3 386.4,109.0 388.1,107.9 389.8,106.9 391.6,106.1 393.3,105.4 395.0,104.8 396.8,104.4 398.5,104.2 400.2,104.1 402.0,104.2 403.7,104.3 405.4,104.6 407.1,105.0 408.9,105.5 410.6,106.0 412.3,106.7 414.1,107.4 415.8,108.2 417.5,109.1 419.3,110.0 421.0,110.9 422.7,111.9 424.5,112.9 426.2,113.9 427.9,114.9 429.7,115.9 431.4,117.0 433.1,118.0 434.9,119.0 436.6,119.9 438.3,120.9 440.1,121.8 441.8,122.8 443.5,123.6 445.3,124.5 447.0,125.3 448.7,126.1 450.4,126.9 452.2,127.6 453.9,128.3 455.6,128.9 457.4,129.5 459.1,130.1 460.8,130.7 462.6,131.2 464.3,131.7 466.0,132.2 467.8,132.6 469.5,133.0 471.2,133.4 473.0,133.8 474.7,134.1 476.4,134.4 478.2,134.7 479.9,135.0 481.6,135.3 483.4,135.5 485.1,135.8 486.8,136.0 488.6,136.2 490.3,136.4 492.0,136.5 493.7,136.7 495.5,136.9 497.2,137.0 498.9,137.2 500.7,137.3 502.4,137.5 504.1,137.6 505.9,137.7 507.6,137.9 509.3,138.0 511.1,138.1 512.8,138.2"/>
<polyline fill="none" stroke="#800080" stroke-width="1.5" stroke-linejoin="round" points="339.6,142.5 341.3,142.1 343.1,141.6 344.8,141.0 346.5,140.3 348.3,139.5 350.0,138.6 351.7,137.6 353.5,136.5 355.2,135.3 356.9,133.9 358.7,132.5 360.4,130.9 362.1,129.3 363.8,127.6 365.6,125.8 367.3,123.9 369.0,121.9 370.8,120.0 372.5,118.0 374.2,116.0 376.0,114.1 377.7,112.2 379.4,110.3 381.2,108.5 382.9,106.9 384.6,105.3 386.4,103.9 388.1,102.6 389.8,101.4 391.6,100.4 393.3,99.6 395.0,99.0 396.8,98.6 398.5,98.3 400.2,98.2 402.0,98.3 403.7,98.5 405.4,98.8 407.1,99.2 408.9,99.8 410.6,100.5 412.3,101.2 414.1,102.1 415.8,103.0 417.5,104.0 419.3,105.0 421.0,106.1 422.7,107.2 424.5,108.4 426.2,109.6 427.9,110.8 429.7,111.9 431.4,113.1 433.1,114.3 434.9,115.5 436.6,116.6 438.3,117.7 440.1,118.8 441.8,119.9 443.5,120.9 445.3,121.9 447.0,122.9 448.7,123.8 450.4,124.6 452.2,125.5 453.9,126.3 455.6,127.1 457.4,127.8 459.1,128.5 460.8,129.1 462.6,129.7 464.3,130.3 466.0,130.9 467.8,131.4 469.5,131.9 471.2,132.3 473.0,132.8 474.7,133.2 476.4,133.5 478.2,133.9 479.9,134.2 481.6,134.6 483.4,134.8 485.1,135.1 486.8,135.4 488.6,135.6 490.3,135.9 492.0,136.1 493.7,136.3 495.5,136.5 497.2,136.7 498.9,136.8 500.7,137.0 502.4,137.2 504.1,137.3 505.9,137.5 507.6,137.6 509.3,137.8 511.1,137.9 512.8,138.1"/>
<polyline fill="none" stroke="#8a20f0" stroke-width="1.5" stroke-linejoin="round" points="339.6,141.9 341.3,141.4 343.1,140.7 344.8,139.9 346.5,139.0 348.3,137.9 350.0,136.8 351.7,135.5 353.5,134.0 355.2,132.4 356.9,130.6 358.7,128.7 360.4,126.7 362.1,124.5 363.8,122.2 365.6,119.8 367.3,117.4 369.0,114.8 370.8,112.2 372.5,109.6 374.2,107.0 376.0,104.5 377.7,101.9 379.4,99.5 381.2,97.2 382.9,95.0 384.6,92.9 386.4,91.0 388.1,89.3 389.8,87.8 391.6,86.5 393.3,85.5 395.0,84.6 396.8,84.0 398.5,83.7 400.2,83.6 402.0,83.7 403.7,83.9 405.4,84.4 407.1,85.0 408.9,85.8 410.6,86.7 412.3,87.7 414.1,88.8 415.8,90.1 417.5,91.5 419.3,92.9 421.0,94.4 422.7,95.9 424.5,97.5 426.2,99.0 427.9,100.7 429.7,102.3 431.4,103.9 433.1,105.5 434.9,107.0 436.6,108.6 438.3,110.1 440.1,111.6 441.8,113.0 443.5,114.4 445.3,115.7 447.0,117.0 448.7,118.2 450.4,119.4 452.2,120.6 453.9,121.7 455.6,122.7 457.4,123.7 459.1,124.6 460.8,125.5 462.6,126.3 464.3,127.1 466.0,127.9 467.8,128.6 469.5,129.2 471.2,129.9 473.0,130.5 474.7,131.0 476.4,131.6 478.2,132.0 479.9,132.5 481.6,132.9 483.4,133.4 485.1,133.7 486.8,134.1 488.6,134.4 490.3,134.8 492.0,135.1 493.7,135.4 495.5,135.6 497.2,135.9 498.9,136.1 500.7,136.4 502.4,136.6 504.1,136.8 505.9,137.0 507.6,137.2 509.3,137.4 511.1,137.6 512.8,137.8"/>
<polyline fill="none" stroke="#10106e" stroke-width="1.5" stroke-linejoin="round" points="339.6,141.7 341.3,141.1 343.1,140.3 344.8,139.4 346.5,138.4 348.3,137.3 350.0,136.0 351.7,134.5 353.5,132.9 355.2,131.2 356.9,129.2 358.7,127.1 360.4,124.9 362.1,122.5 363.8,120.0 365.6,117.3 367.3,114.6 369.0,111.8 370.8,109.0 372.5,106.1 374.2,103.2 376.0,100.4 377.7,97.6 379.4,94.9 381.2,92.3 382.9,89.9 384.6,87.6 386.4,85.6 388.1,83.7 389.8,82.0 391.6,80.6 393.3,79.5 395.0,78.5 396.8,77.9 398.5,77.5 400.2,77.4 402.0,77.5 403.7,77.8 405.4,78.3 407.1,79.0 408.9,79.8 410.6,80.8 412.3,82.0 414.1,83.3 415.8,84.7 417.5,86.2 419.3,87.8 421.0,89.4 422.7,91.1 424.5,92.9 426.2,94.6 427.9,96.4 429.7,98.2 431.4,100.0 433.1,101.8 434.9,103.5 436.6,105.3 438.3,106.9 440.1,108.6 441.8,110.2 443.5,111.7 445.3,113.2 447.0,114.6 448.7,116.0 450.4,117.3 452.2,118.6 453.9,119.8 455.6,120.9 457.4,122.0 459.1,123.1 460.8,124.0 462.6,125.0 464.3,125.9 466.0,126.7 467.8,127.5 469.5,128.2 471.2,128.9 473.0,129.6 474.7,130.2 476.4,130.8 478.2,131.3 479.9,131.9 481.6,132.3 483.4,132.8 485.1,133.2 486.8,133.6 488.6,134.0 490.3,134.4 492.0,134.7 493.7,135.0 495.5,135.3 497.2,135.6 498.9,135.9 500.7,136.2 502.4,136.4 504.1,136.6 505.9,136.9 507.6,137.1 509.3,137.3 511.1,137.5 512.8,137.7"/>
<polyline fill="none" stroke="#008a10" stroke-width="1.5" stroke-linejoin="round" points="339.6,141.2 341.3,140.4 343.1,139.5 344.8,138.5 346.5,137.3 348.3,135.9 350.0,134.4 351.7,132.7 353.5,130.8 355.2,128.6 356.9,126.3 358.7,123.8 360.4,121.2 362.1,118.3 363.8,115.3 365.6,112.2 367.3,109.0 369.0,105.6 370.8,102.2 372.5,98.8 374.2,95.4 376.0,92.1 377.7,88.7 379.4,85.5 381.2,82.5 382.9,79.6 384.6,76.9 386.4,74.4 388.1,72.2 389.8,70.2 391.6,68.5 393.3,67.2 395.0,66.1 396.8,65.3 398.5,64.8 400.2,64.7 402.0,64.8 403.7,65.2 405.4,65.8 407.1,66.6 408.9,67.7 410.6,68.9 412.3,70.3 414.1,71.9 415.8,73.6 417.5,75.5 419.3,77.4 421.0,79.4 422.7,81.5 424.5,83.6 426.2,85.8 427.9,87.9 429.7,90.1 431.4,92.3 433.1,94.4 434.9,96.6 436.6,98.6 438.3,100.7 440.1,102.6 441.8,104.6 443.5,106.4 445.3,108.2 447.0,109.9 448.7,111.6 450.4,113.2 452.2,114.7 453.9,116.2 455.6,117.5 457.4,118.9 459.1,120.1 460.8,121.3 462.6,122.4 464.3,123.5 466.0,124.5 467.8,125.4 469.5,126.3 471.2,127.1 473.0,127.9 474.7,128.7 476.4,129.4 478.2,130.1 479.9,130.7 481.6,131.3 483.4,131.8 485.1,132.3 486.8,132.8 488.6,133.3 490.3,133.7 492.0,134.1 493.7,134.5 495.5,134.9 497.2,135.2 498.9,135.5 500.7,135.8 502.4,136.1 504.1,136.4 505.9,136.7 507.6,136.9 509.3,137.1 511.1,137.4 512.8,137.6"/>
<polyline fill="none" stroke="#ff10ff" stroke-width="1.5" stroke-linejoin="round" points="339.6,140.5 341.3,139.6 343.1,138.5 344.8,137.3 346.5,135.8 348.3,134.2 350.0,132.3 351.7,130.2 353.5,127.9 355.2,125.4 356.9,122.6 358.7,119.5 360.4,116.3 362.1,112.9 363.8,109.3 365.6,105.5 367.3,101.6 369.0,97.5 370.8,93.4 372.5,89.3 374.2,85.2 376.0,81.1 377.7,77.1 379.4,73.2 381.2,69.5 382.9,66.0 384.6,62.8 386.4,59.8 388.1,57.1 389.8,54.7 391.6,52.7 393.3,51.0 395.0,49.7 396.8,48.8 398.5,48.2 400.2,48.0 402.0,48.2 403.7,48.7 405.4,49.4 407.1,50.5 408.9,51.8 410.6,53.3 412.3,55.1 414.1,57.1 415.8,59.2 417.5,61.5 419.3,63.9 421.0,66.5 422.7,69.0 424.5,71.7 426.2,74.4 427.9,77.1 429.7,79.8 431.4,82.5 433.1,85.1 434.9,87.7 436.6,90.3 438.3,92.8 440.1,95.3 441.8,97.6 443.5,99.9 445.3,102.1 447.0,104.2 448.7,106.2 450.4,108.2 452.2,110.0 453.9,111.8 455.6,113.5 457.4,115.1 459.1,116.6 460.8,118.0 462.6,119.4 464.3,120.7 466.0,121.9 467.8,123.1 469.5,124.1 471.2,125.2 473.0,126.1 474.7,127.0 476.4,127.9 478.2,128.7 479.9,129.4 481.6,130.1 483.4,130.8 485.1,131.4 486.8,132.0 488.6,132.6 490.3,133.1 492.0,133.6 493.7,134.0 495.5,134.5 497.2,134.9 498.9,135.2 500.7,135.6 502.4,136.0 504.1,136.3 505.9,136.6 507.6,136.9 509.3,137.1 511.1,137.4 512.8,137.7"/>
<polyline fill="none" stroke="#1010ff" stroke-width="1.5" stroke-linejoin="round" points="339.6,140.3 341.3,139.4 343.1,138.2 344.8,136.9 346.5,135.4 348.3,133.7 350.0,131.7 351.7,129.6 353.5,127.1 355.2,124.5 356.9,121.5 358.7,118.4 360.4,115.0 362.1,111.4 363.8,107.6 365.6,103.6 367.3,99.5 369.0,95.3 370.8,91.0 372.5,86.7 374.2,82.4 376.0,78.1 377.7,73.9 379.4,69.9 381.2,66.0 382.9,62.4 384.6,58.9 386.4,55.8 388.1,53.0 389.8,50.5 391.6,48.4 393.3,46.6 395.0,45.2 396.8,44.3 398.5,43.7 400.2,43.5 402.0,43.7 403.7,44.2 405.4,45.0 407.1,46.1 408.9,47.5 410.6,49.1 412.3,51.0 414.1,53.1 415.8,55.3 417.5,57.8 419.3,60.3 421.0,63.0 422.7,65.7 424.5,68.5 426.2,71.3 427.9,74.2 429.7,77.0 431.4,79.9 433.1,82.7 434.9,85.4 436.6,88.1 438.3,90.7 440.1,93.3 441.8,95.8 443.5,98.2 445.3,100.5 447.0,102.7 448.7,104.9 450.4,106.9 452.2,108.8 453.9,110.7 455.6,112.5 457.4,114.1 459.1,115.7 460.8,117.2 462.6,118.7 464.3,120.0 466.0,121.3 467.8,122.5 469.5,123.6 471.2,124.7 473.0,125.7 474.7,126.6 476.4,127.5 478.2,128.3 479.9,129.1 481.6,129.9 483.4,130.6 485.1,131.2 486.8,131.8 488.6,132.4 490.3,132.9 492.0,133.5 493.7,133.9 495.5,134.4 497.2,134.8 498.9,135.2 500.7,135.6 502.4,135.9 504.1,136.3 505.9,136.6 507.6,136.9 509.3,137.2 511.1,137.5 512.8,137.7"/>
<polyline fill="none" stroke="#ff0000" stroke-width="1.5" stroke-linejoin="round" points="339.6,139.8 341.3,138.7 343.1,137.4 344.8,135.9 346.5,134.2 348.3,132.3 350.0,130.1 351.7,127.6 353.5,124.8 355.2,121.8 356.9,118.5 358.7,114.9 360.4,111.1 362.1,107.0 363.8,102.7 365.6,98.2 367.3,93.6 369.0,88.8 370.8,83.9 372.5,79.0 374.2,74.2 376.0,69.3 377.7,64.6 379.4,60.0 381.2,55.6 382.9,51.4 384.6,47.6 386.4,44.0 388.1,40.8 389.8,38.0 391.6,35.6 393.3,33.6 395.0,32.1 396.8,31.0 398.5,30.3 400.2,30.1 402.0,30.3 403.7,30.9 405.4,31.8 407.1,33.1 408.9,34.7 410.6,36.6 412.3,38.8 414.1,41.3 415.8,43.9 417.5,46.7 419.3,49.7 421.0,52.8 422.7,55.9 424.5,59.2 426.2,62.5 427.9,65.8 429.7,69.0 431.4,72.3 433.1,75.5 434.9,78.7 436.6,81.8 438.3,84.8 440.1,87.8 441.8,90.6 443.5,93.4 445.3,96.0 447.0,98.6 448.7,101.0 450.4,103.3 452.2,105.5 453.9,107.6 455.6,109.6 457.4,111.5 459.1,113.3 460.8,115.0 462.6,116.6 464.3,118.2 466.0,119.6 467.8,121.0 469.5,122.2 471.2,123.4 473.0,124.6 474.7,125.6 476.4,126.6 478.2,127.5 479.9,128.4 481.6,129.3 483.4,130.0 485.1,130.8 486.8,131.4 488.6,132.1 490.3,132.7 492.0,133.3 493.7,133.8 495.5,134.3 497.2,134.8 498.9,135.2 500.7,135.6 502.4,136.0 504.1,136.4 505.9,136.7 507.6,137.1 509.3,137.4 511.1,137.7 512.8,137.9"/>
<polyline fill="none" stroke="#000000" stroke-width="1.5" stroke-linejoin="round" points="339.6,139.7 341.3,138.6 343.1,137.2 344.8,135.7 346.5,134.0 348.3,132.0 350.0,129.7 351.7,127.2 353.5,124.4 355.2,121.3 356.9,117.9 358.7,114.2 360.4,110.3 362.1,106.1 363.8,101.7 365.6,97.1 367.3,92.4 369.0,87.5 370.8,82.5 372.5,77.5 374.2,72.5 376.0,67.5 377.7,62.7 379.4,58.0 381.2,53.5 382.9,49.2 384.6,45.3 386.4,41.6 388.1,38.3 389.8,35.5 391.6,33.0 393.3,31.0 395.0,29.4 396.8,28.2 398.5,27.6 400.2,27.3 402.0,27.5 403.7,28.1 405.4,29.1 407.1,30.5 408.9,32.1 410.6,34.1 412.3,36.4 414.1,38.9 415.8,41.6 417.5,44.5 419.3,47.5 421.0,50.7 422.7,54.0 424.5,57.3 426.2,60.7 427.9,64.1 429.7,67.4 431.4,70.8 433.1,74.1 434.9,77.4 436.6,80.6 438.3,83.7 440.1,86.7 441.8,89.6 443.5,92.4 445.3,95.1 447.0,97.7 448.7,100.2 450.4,102.6 452.2,104.9 453.9,107.0 455.6,109.1 457.4,111.0 459.1,112.9 460.8,114.6 462.6,116.3 464.3,117.8 466.0,119.3 467.8,120.7 469.5,122.0 471.2,123.2 473.0,124.3 474.7,125.4 476.4,126.5 478.2,127.4 479.9,128.3 481.6,129.2 483.4,129.9 485.1,130.7 486.8,131.4 488.6,132.0 490.3,132.7 492.0,133.2 493.7,133.8 495.5,134.3 497.2,134.8 498.9,135.2 500.7,135.6 502.4,136.0 504.1,136.4 505.9,136.8 507.6,137.1 509.3,137.4 511.1,137.7 512.8,138.0"/>
<rect x="339.6" y="14.9" width="173.4" height="129.5" fill="none" stroke="#333" stroke-width="1"/>
<line x1="336.6" y1="144.4" x2="339.6" y2="144.4" stroke="#333" stroke-width="1"/>
<text x="335.4" y="147.4" font-size="8.2" text-anchor="end" fill="#111">0</text>
<line x1="336.6" y1="115.6" x2="339.6" y2="115.6" stroke="#333" stroke-width="1"/>
<text x="335.4" y="118.6" font-size="8.2" text-anchor="end" fill="#111">2000</text>
<line x1="336.6" y1="86.7" x2="339.6" y2="86.7" stroke="#333" stroke-width="1"/>
<text x="335.4" y="89.7" font-size="8.2" text-anchor="end" fill="#111">4000</text>
<line x1="336.6" y1="57.9" x2="339.6" y2="57.9" stroke="#333" stroke-width="1"/>
<text x="335.4" y="60.9" font-size="8.2" text-anchor="end" fill="#111">6000</text>
<line x1="336.6" y1="29.0" x2="339.6" y2="29.0" stroke="#333" stroke-width="1"/>
<text x="335.4" y="32.0" font-size="8.2" text-anchor="end" fill="#111">8000</text>
<line x1="339.6" y1="144.4" x2="339.6" y2="147.4" stroke="#333" stroke-width="1"/>
<text x="339.6" y="155.2" font-size="8.2" text-anchor="middle" fill="#111">400</text>
<line x1="382.9" y1="144.4" x2="382.9" y2="147.4" stroke="#333" stroke-width="1"/>
<text x="382.9" y="155.2" font-size="8.2" text-anchor="middle" fill="#111">450</text>
<line x1="426.2" y1="144.4" x2="426.2" y2="147.4" stroke="#333" stroke-width="1"/>
<text x="426.2" y="155.2" font-size="8.2" text-anchor="middle" fill="#111">500</text>
<line x1="469.5" y1="144.4" x2="469.5" y2="147.4" stroke="#333" stroke-width="1"/>
<text x="469.5" y="155.2" font-size="8.2" text-anchor="middle" fill="#111">550</text>
<line x1="512.8" y1="144.4" x2="512.8" y2="147.4" stroke="#333" stroke-width="1"/>
<text x="512.8" y="155.2" font-size="8.2" text-anchor="middle" fill="#111">600</text>
<text x="425.5" y="166.2" font-size="10.2" text-anchor="middle" fill="#111">Wavelength (nm)</text>
<text transform="translate(312,81.3) rotate(-90)" font-size="10.2" text-anchor="middle" fill="#111">PL Intensity (a.u.)</text>
<line x1="448.8" y1="31.2" x2="448.8" y2="74" stroke="#ff1010" stroke-width="2.1"/>
<polygon points="445.9,72.6 451.7,72.6 448.8,81.2" fill="#ff1010"/>
<text x="452.8" y="36.5" font-size="7.6" fill="#111" stroke="#111" stroke-width="0.25">0μM</text>
<text x="454" y="81.4" font-size="7.8" fill="#111" stroke="#111" stroke-width="0.25">1mM (Fe<tspan font-size="5.6" dy="-3.3">3+</tspan><tspan dy="3.3">)</tspan></text>
</g>
<g font-family="'Liberation Serif', 'Times New Roman', serif">
<defs><clipPath id="c3"><rect x="51" y="246.7" width="183.3" height="125.3"/></clipPath></defs>
<g clip-path="url(#c3)">
<polyline fill="none" stroke="#c8cc48" stroke-width="1.3" stroke-dasharray="4.5,2.5" points="51.0,213.1 51.8,255.4 52.5,289.8 53.3,313.1 54.1,328.9 54.8,339.4 55.6,346.5 56.3,351.1 57.1,354.1 57.9,356.0 58.6,357.2 59.4,357.8 60.2,358.0 60.9,358.0 61.7,357.9 62.4,357.6 63.2,357.3 64.0,356.9 64.7,356.5 65.5,356.1 66.3,355.6 67.0,355.2 67.8,354.7 68.5,354.2 69.3,353.8 70.1,353.3 70.8,352.9 71.6,352.4 72.4,352.0 73.1,351.6 73.9,351.2 74.7,350.8 75.4,350.4 76.2,350.0 76.9,349.7 77.7,349.3 78.5,349.0 79.2,348.7 80.0,348.4 80.8,348.2 81.5,347.9 82.3,347.7 83.0,347.5 83.8,347.3 84.6,347.2 85.3,347.0 86.1,346.9 86.9,346.9 87.6,346.8 88.4,346.8 89.2,346.7 89.9,346.8 90.7,346.9 91.4,347.0 92.2,347.1 93.0,347.2 93.7,347.3 94.5,347.5 95.3,347.6 96.0,347.8 96.8,348.0 97.5,348.2 98.3,348.4 99.1,348.7 99.8,349.0 100.6,349.3 101.4,349.6 102.1,349.9 102.9,350.3 103.6,350.6 104.4,351.0 105.2,351.3 105.9,351.6 106.7,352.0 107.5,352.3 108.2,352.7 109.0,353.1 109.8,353.5 110.5,353.9 111.3,354.2 112.0,354.6 112.8,355.0 113.6,355.4 114.3,355.8 115.1,356.2 115.9,356.6 116.6,356.9 117.4,357.3 118.1,357.7 118.9,358.0 119.7,358.3 120.4,358.6 121.2,358.9 122.0,359.2 122.7,359.5 123.5,359.8 124.2,360.1 125.0,360.3 125.8,360.6 126.5,360.9 127.3,361.1 128.1,361.4 128.8,361.6 129.6,361.9 130.4,362.1 131.1,362.3 131.9,362.6 132.6,362.8 133.4,363.0 134.2,363.2 134.9,363.4 135.7,363.6 136.5,363.8 137.2,364.0 138.0,364.2 138.7,364.4 139.5,364.6 140.3,364.8 141.0,365.0 141.8,365.1 142.6,365.3 143.3,365.5 144.1,365.7 144.8,365.8 145.6,366.0 146.4,366.1 147.1,366.3 147.9,366.5 148.7,366.6 149.4,366.8 150.2,366.9 151.0,367.0 151.7,367.2 152.5,367.3 153.2,367.4 154.0,367.6 154.8,367.7 155.5,367.8 156.3,367.9 157.1,368.1 157.8,368.2 158.6,368.3 159.3,368.4 160.1,368.5 160.9,368.7 161.6,368.8 162.4,368.9 163.2,369.0 163.9,369.1 164.7,369.2 165.4,369.3 166.2,369.4 167.0,369.5 167.7,369.5 168.5,369.6 169.3,369.7 170.0,369.8 170.8,369.9 171.6,370.0 172.3,370.1 173.1,370.1 173.8,370.2 174.6,370.3 175.4,370.4 176.1,370.5 176.9,370.5 177.7,370.6 178.4,370.7 179.2,370.7 179.9,370.8 180.7,370.9 181.5,370.9 182.2,371.0 183.0,371.0 183.8,371.1 184.5,371.1 185.3,371.2 186.1,371.3 186.8,371.3 187.6,371.4 188.3,371.4 189.1,371.5 189.9,371.5 190.6,371.6 191.4,371.6 192.2,371.6 192.9,371.7 193.7,371.7 194.4,371.8 195.2,371.8 196.0,371.9 196.7,371.9 197.5,372.0 198.3,372.0 199.0,372.0 199.8,372.1 200.5,372.1 201.3,372.2 202.1,372.2 202.8,372.2 203.6,372.3 204.4,372.3 205.1,372.4 205.9,372.4 206.7,372.4 207.4,372.5 208.2,372.5 208.9,372.5 209.7,372.6 210.5,372.6 211.2,372.6 212.0,372.7 212.8,372.7 213.5,372.7 214.3,372.8 215.0,372.8 215.8,372.8 216.6,372.9 217.3,372.9 218.1,372.9 218.9,373.0 219.6,373.0 220.4,373.0 221.1,373.0 221.9,373.1 222.7,373.1 223.4,373.1 224.2,373.1 225.0,373.2 225.7,373.2 226.5,373.2 227.3,373.2 228.0,373.3 228.8,373.3 229.5,373.3 230.3,373.3 231.1,373.4 231.8,373.4 232.6,373.4 233.4,373.4 234.1,373.4"/>
<polyline fill="none" stroke="#f4a35a" stroke-width="1.3" stroke-dasharray="4.5,2.5" points="51.0,213.1 51.8,243.5 52.5,280.6 53.3,305.8 54.1,322.7 54.8,334.1 55.6,341.7 56.3,346.7 57.1,349.9 57.9,352.0 58.6,353.2 59.4,353.8 60.2,354.1 60.9,354.1 61.7,354.0 62.4,353.7 63.2,353.4 64.0,353.0 64.7,352.5 65.5,352.0 66.3,351.6 67.0,351.1 67.8,350.6 68.5,350.1 69.3,349.6 70.1,349.2 70.8,348.7 71.6,348.2 72.4,347.8 73.1,347.4 73.9,346.9 74.7,346.5 75.4,346.1 76.2,345.8 76.9,345.4 77.7,345.1 78.5,344.7 79.2,344.4 80.0,344.2 80.8,343.9 81.5,343.6 82.3,343.4 83.0,343.2 83.8,343.0 84.6,342.9 85.3,342.8 86.1,342.7 86.9,342.6 87.6,342.5 88.4,342.5 89.2,342.5 89.9,342.5 90.7,342.6 91.4,342.7 92.2,342.8 93.0,343.0 93.7,343.1 94.5,343.3 95.3,343.5 96.0,343.7 96.8,343.9 97.5,344.1 98.3,344.4 99.1,344.7 99.8,345.0 100.6,345.3 101.4,345.7 102.1,346.1 102.9,346.5 103.6,346.9 104.4,347.3 105.2,347.7 105.9,348.0 106.7,348.4 107.5,348.8 108.2,349.3 109.0,349.7 109.8,350.1 110.5,350.6 111.3,351.0 112.0,351.5 112.8,351.9 113.6,352.4 114.3,352.8 115.1,353.3 115.9,353.7 116.6,354.1 117.4,354.5 118.1,354.9 118.9,355.3 119.7,355.7 120.4,356.0 121.2,356.4 122.0,356.7 122.7,357.0 123.5,357.3 124.2,357.7 125.0,358.0 125.8,358.3 126.5,358.6 127.3,358.9 128.1,359.2 128.8,359.4 129.6,359.7 130.4,360.0 131.1,360.3 131.9,360.5 132.6,360.8 133.4,361.0 134.2,361.3 134.9,361.5 135.7,361.7 136.5,362.0 137.2,362.2 138.0,362.4 138.7,362.6 139.5,362.8 140.3,363.1 141.0,363.3 141.8,363.5 142.6,363.7 143.3,363.9 144.1,364.1 144.8,364.2 145.6,364.4 146.4,364.6 147.1,364.8 147.9,365.0 148.7,365.1 149.4,365.3 150.2,365.5 151.0,365.6 151.7,365.8 152.5,365.9 153.2,366.1 154.0,366.2 154.8,366.4 155.5,366.5 156.3,366.7 157.1,366.8 157.8,366.9 158.6,367.1 159.3,367.2 160.1,367.3 160.9,367.5 161.6,367.6 162.4,367.7 163.2,367.8 163.9,367.9 164.7,368.1 165.4,368.2 166.2,368.3 167.0,368.4 167.7,368.5 168.5,368.6 169.3,368.7 170.0,368.8 170.8,368.9 171.6,369.0 172.3,369.1 173.1,369.2 173.8,369.3 174.6,369.4 175.4,369.4 176.1,369.5 176.9,369.6 177.7,369.7 178.4,369.8 179.2,369.8 179.9,369.9 180.7,370.0 181.5,370.1 182.2,370.1 183.0,370.2 183.8,370.2 184.5,370.3 185.3,370.4 186.1,370.4 186.8,370.5 187.6,370.5 188.3,370.6 189.1,370.7 189.9,370.7 190.6,370.8 191.4,370.8 192.2,370.9 192.9,370.9 193.7,371.0 194.4,371.0 195.2,371.1 196.0,371.1 196.7,371.2 197.5,371.2 198.3,371.3 199.0,371.3 199.8,371.4 200.5,371.4 201.3,371.5 202.1,371.5 202.8,371.6 203.6,371.6 204.4,371.7 205.1,371.7 205.9,371.7 206.7,371.8 207.4,371.8 208.2,371.9 208.9,371.9 209.7,371.9 210.5,372.0 211.2,372.0 212.0,372.1 212.8,372.1 213.5,372.1 214.3,372.2 215.0,372.2 215.8,372.2 216.6,372.3 217.3,372.3 218.1,372.3 218.9,372.4 219.6,372.4 220.4,372.4 221.1,372.5 221.9,372.5 222.7,372.5 223.4,372.6 224.2,372.6 225.0,372.6 225.7,372.7 226.5,372.7 227.3,372.7 228.0,372.7 228.8,372.8 229.5,372.8 230.3,372.8 231.1,372.8 231.8,372.9 232.6,372.9 233.4,372.9 234.1,372.9"/>
<polyline fill="none" stroke="#a23cb0" stroke-width="1.3" stroke-dasharray="4.5,2.5" points="51.0,213.1 51.8,218.1 52.5,261.2 53.3,290.3 54.1,309.9 54.8,323.1 55.6,331.8 56.3,337.6 57.1,341.4 57.9,343.7 58.6,345.1 59.4,345.9 60.2,346.2 60.9,346.3 61.7,346.1 62.4,345.8 63.2,345.4 64.0,345.0 64.7,344.5 65.5,344.0 66.3,343.5 67.0,343.0 67.8,342.4 68.5,341.9 69.3,341.4 70.1,340.9 70.8,340.4 71.6,339.9 72.4,339.4 73.1,339.0 73.9,338.5 74.7,338.1 75.4,337.7 76.2,337.3 76.9,336.9 77.7,336.6 78.5,336.3 79.2,335.9 80.0,335.6 80.8,335.4 81.5,335.1 82.3,334.9 83.0,334.7 83.8,334.5 84.6,334.3 85.3,334.2 86.1,334.1 86.9,334.0 87.6,334.0 88.4,333.9 89.2,333.9 89.9,334.0 90.7,334.1 91.4,334.2 92.2,334.4 93.0,334.5 93.7,334.7 94.5,335.0 95.3,335.2 96.0,335.4 96.8,335.7 97.5,335.9 98.3,336.3 99.1,336.6 99.8,337.1 100.6,337.5 101.4,338.0 102.1,338.4 102.9,338.9 103.6,339.4 104.4,339.9 105.2,340.4 105.9,340.9 106.7,341.4 107.5,341.9 108.2,342.4 109.0,342.9 109.8,343.5 110.5,344.0 111.3,344.6 112.0,345.1 112.8,345.7 113.6,346.3 114.3,346.8 115.1,347.4 115.9,347.9 116.6,348.4 117.4,348.9 118.1,349.4 118.9,349.9 119.7,350.4 120.4,350.8 121.2,351.2 122.0,351.7 122.7,352.1 123.5,352.5 124.2,352.9 125.0,353.2 125.8,353.6 126.5,354.0 127.3,354.4 128.1,354.7 128.8,355.1 129.6,355.4 130.4,355.8 131.1,356.1 131.9,356.4 132.6,356.7 133.4,357.0 134.2,357.4 134.9,357.7 135.7,357.9 136.5,358.2 137.2,358.5 138.0,358.8 138.7,359.1 139.5,359.3 140.3,359.6 141.0,359.8 141.8,360.1 142.6,360.3 143.3,360.6 144.1,360.8 144.8,361.1 145.6,361.3 146.4,361.5 147.1,361.7 147.9,362.0 148.7,362.2 149.4,362.4 150.2,362.6 151.0,362.8 151.7,363.0 152.5,363.2 153.2,363.4 154.0,363.5 154.8,363.7 155.5,363.9 156.3,364.1 157.1,364.3 157.8,364.4 158.6,364.6 159.3,364.8 160.1,364.9 160.9,365.1 161.6,365.2 162.4,365.4 163.2,365.5 163.9,365.7 164.7,365.8 165.4,366.0 166.2,366.1 167.0,366.2 167.7,366.4 168.5,366.5 169.3,366.6 170.0,366.7 170.8,366.9 171.6,367.0 172.3,367.1 173.1,367.2 173.8,367.3 174.6,367.4 175.4,367.6 176.1,367.7 176.9,367.8 177.7,367.9 178.4,368.0 179.2,368.1 179.9,368.1 180.7,368.2 181.5,368.3 182.2,368.4 183.0,368.5 183.8,368.6 184.5,368.6 185.3,368.7 186.1,368.8 186.8,368.9 187.6,368.9 188.3,369.0 189.1,369.1 189.9,369.1 190.6,369.2 191.4,369.3 192.2,369.4 192.9,369.4 193.7,369.5 194.4,369.6 195.2,369.6 196.0,369.7 196.7,369.7 197.5,369.8 198.3,369.9 199.0,369.9 199.8,370.0 200.5,370.0 201.3,370.1 202.1,370.1 202.8,370.2 203.6,370.3 204.4,370.3 205.1,370.4 205.9,370.4 206.7,370.5 207.4,370.5 208.2,370.6 208.9,370.6 209.7,370.7 210.5,370.7 211.2,370.8 212.0,370.8 212.8,370.9 213.5,370.9 214.3,370.9 215.0,371.0 215.8,371.0 216.6,371.1 217.3,371.1 218.1,371.2 218.9,371.2 219.6,371.2 220.4,371.3 221.1,371.3 221.9,371.4 222.7,371.4 223.4,371.4 224.2,371.5 225.0,371.5 225.7,371.6 226.5,371.6 227.3,371.6 228.0,371.7 228.8,371.7 229.5,371.7 230.3,371.8 231.1,371.8 231.8,371.8 232.6,371.9 233.4,371.9 234.1,371.9"/>
<polyline fill="none" stroke="#2f78b0" stroke-width="1.3" stroke-dasharray="5,1.8,1,1.8" points="51.0,213.1 51.8,213.1 52.5,242.4 53.3,275.4 54.1,297.7 54.8,312.6 55.6,322.6 56.3,329.2 57.1,333.5 57.9,336.2 58.6,337.8 59.4,338.7 60.2,339.1 60.9,339.2 61.7,339.0 62.4,338.7 63.2,338.3 64.0,337.8 64.7,337.3 65.5,336.8 66.3,336.2 67.0,335.7 67.8,335.1 68.5,334.6 69.3,334.0 70.1,333.5 70.8,332.9 71.6,332.4 72.4,331.9 73.1,331.5 73.9,331.0 74.7,330.6 75.4,330.1 76.2,329.7 76.9,329.3 77.7,329.0 78.5,328.6 79.2,328.3 80.0,328.0 80.8,327.7 81.5,327.4 82.3,327.2 83.0,327.0 83.8,326.8 84.6,326.6 85.3,326.5 86.1,326.4 86.9,326.3 87.6,326.2 88.4,326.2 89.2,326.2 89.9,326.3 90.7,326.4 91.4,326.5 92.2,326.7 93.0,326.9 93.7,327.2 94.5,327.4 95.3,327.7 96.0,328.0 96.8,328.3 97.5,328.6 98.3,329.0 99.1,329.4 99.8,329.9 100.6,330.4 101.4,331.0 102.1,331.5 102.9,332.1 103.6,332.7 104.4,333.3 105.2,333.8 105.9,334.4 106.7,335.0 107.5,335.6 108.2,336.2 109.0,336.8 109.8,337.5 110.5,338.1 111.3,338.8 112.0,339.4 112.8,340.1 113.6,340.7 114.3,341.4 115.1,342.0 115.9,342.7 116.6,343.3 117.4,343.9 118.1,344.5 118.9,345.1 119.7,345.6 120.4,346.1 121.2,346.6 122.0,347.1 122.7,347.6 123.5,348.1 124.2,348.5 125.0,349.0 125.8,349.4 126.5,349.9 127.3,350.3 128.1,350.7 128.8,351.1 129.6,351.5 130.4,351.9 131.1,352.3 131.9,352.7 132.6,353.1 133.4,353.5 134.2,353.8 134.9,354.2 135.7,354.5 136.5,354.9 137.2,355.2 138.0,355.5 138.7,355.8 139.5,356.2 140.3,356.5 141.0,356.8 141.8,357.1 142.6,357.4 143.3,357.6 144.1,357.9 144.8,358.2 145.6,358.5 146.4,358.7 147.1,359.0 147.9,359.3 148.7,359.5 149.4,359.8 150.2,360.0 151.0,360.2 151.7,360.5 152.5,360.7 153.2,360.9 154.0,361.1 154.8,361.3 155.5,361.6 156.3,361.8 157.1,362.0 157.8,362.2 158.6,362.4 159.3,362.6 160.1,362.8 160.9,362.9 161.6,363.1 162.4,363.3 163.2,363.5 163.9,363.6 164.7,363.8 165.4,364.0 166.2,364.1 167.0,364.3 167.7,364.4 168.5,364.6 169.3,364.7 170.0,364.9 170.8,365.0 171.6,365.2 172.3,365.3 173.1,365.5 173.8,365.6 174.6,365.7 175.4,365.8 176.1,366.0 176.9,366.1 177.7,366.2 178.4,366.3 179.2,366.4 179.9,366.5 180.7,366.6 181.5,366.7 182.2,366.8 183.0,366.9 183.8,367.0 184.5,367.1 185.3,367.2 186.1,367.3 186.8,367.4 187.6,367.5 188.3,367.6 189.1,367.6 189.9,367.7 190.6,367.8 191.4,367.9 192.2,368.0 192.9,368.1 193.7,368.1 194.4,368.2 195.2,368.3 196.0,368.4 196.7,368.4 197.5,368.5 198.3,368.6 199.0,368.6 199.8,368.7 200.5,368.8 201.3,368.8 202.1,368.9 202.8,369.0 203.6,369.0 204.4,369.1 205.1,369.2 205.9,369.2 206.7,369.3 207.4,369.3 208.2,369.4 208.9,369.5 209.7,369.5 210.5,369.6 211.2,369.6 212.0,369.7 212.8,369.7 213.5,369.8 214.3,369.9 215.0,369.9 215.8,370.0 216.6,370.0 217.3,370.1 218.1,370.1 218.9,370.2 219.6,370.2 220.4,370.3 221.1,370.3 221.9,370.4 222.7,370.4 223.4,370.4 224.2,370.5 225.0,370.5 225.7,370.6 226.5,370.6 227.3,370.7 228.0,370.7 228.8,370.7 229.5,370.8 230.3,370.8 231.1,370.9 231.8,370.9 232.6,370.9 233.4,371.0 234.1,371.0"/>
<polyline fill="none" stroke="#20a3a3" stroke-width="1.3" stroke-dasharray="4.5,2.5" points="51.0,213.1 51.8,213.1 52.5,222.3 53.3,259.6 54.1,284.8 54.8,301.7 55.6,313.0 56.3,320.5 57.1,325.3 57.9,328.4 58.6,330.3 59.4,331.3 60.2,331.8 60.9,331.9 61.7,331.8 62.4,331.5 63.2,331.1 64.0,330.6 64.7,330.0 65.5,329.5 66.3,328.9 67.0,328.3 67.8,327.7 68.5,327.1 69.3,326.5 70.1,326.0 70.8,325.4 71.6,324.9 72.4,324.4 73.1,323.9 73.9,323.4 74.7,322.9 75.4,322.5 76.2,322.0 76.9,321.6 77.7,321.3 78.5,320.9 79.2,320.6 80.0,320.2 80.8,319.9 81.5,319.7 82.3,319.4 83.0,319.2 83.8,319.0 84.6,318.8 85.3,318.7 86.1,318.6 86.9,318.5 87.6,318.4 88.4,318.4 89.2,318.4 89.9,318.5 90.7,318.6 91.4,318.8 92.2,319.0 93.0,319.2 93.7,319.5 94.5,319.8 95.3,320.1 96.0,320.4 96.8,320.8 97.5,321.1 98.3,321.6 99.1,322.1 99.8,322.7 100.6,323.3 101.4,323.9 102.1,324.5 102.9,325.2 103.6,325.9 104.4,326.5 105.2,327.2 105.9,327.8 106.7,328.5 107.5,329.2 108.2,329.9 109.0,330.6 109.8,331.4 110.5,332.1 111.3,332.9 112.0,333.7 112.8,334.4 113.6,335.2 114.3,335.9 115.1,336.7 115.9,337.4 116.6,338.1 117.4,338.8 118.1,339.5 118.9,340.2 119.7,340.8 120.4,341.4 121.2,342.0 122.0,342.5 122.7,343.1 123.5,343.6 124.2,344.1 125.0,344.7 125.8,345.2 126.5,345.7 127.3,346.2 128.1,346.7 128.8,347.2 129.6,347.6 130.4,348.1 131.1,348.5 131.9,349.0 132.6,349.4 133.4,349.8 134.2,350.3 134.9,350.7 135.7,351.1 136.5,351.5 137.2,351.8 138.0,352.2 138.7,352.6 139.5,352.9 140.3,353.3 141.0,353.6 141.8,354.0 142.6,354.3 143.3,354.7 144.1,355.0 144.8,355.3 145.6,355.6 146.4,355.9 147.1,356.2 147.9,356.5 148.7,356.8 149.4,357.1 150.2,357.4 151.0,357.6 151.7,357.9 152.5,358.2 153.2,358.4 154.0,358.7 154.8,358.9 155.5,359.2 156.3,359.4 157.1,359.7 157.8,359.9 158.6,360.1 159.3,360.3 160.1,360.6 160.9,360.8 161.6,361.0 162.4,361.2 163.2,361.4 163.9,361.6 164.7,361.8 165.4,362.0 166.2,362.2 167.0,362.3 167.7,362.5 168.5,362.7 169.3,362.9 170.0,363.0 170.8,363.2 171.6,363.4 172.3,363.5 173.1,363.7 173.8,363.8 174.6,364.0 175.4,364.1 176.1,364.3 176.9,364.4 177.7,364.5 178.4,364.7 179.2,364.8 179.9,364.9 180.7,365.0 181.5,365.2 182.2,365.3 183.0,365.4 183.8,365.5 184.5,365.6 185.3,365.7 186.1,365.8 186.8,365.9 187.6,366.0 188.3,366.1 189.1,366.2 189.9,366.3 190.6,366.4 191.4,366.5 192.2,366.6 192.9,366.7 193.7,366.8 194.4,366.8 195.2,366.9 196.0,367.0 196.7,367.1 197.5,367.2 198.3,367.3 199.0,367.3 199.8,367.4 200.5,367.5 201.3,367.6 202.1,367.7 202.8,367.7 203.6,367.8 204.4,367.9 205.1,368.0 205.9,368.0 206.7,368.1 207.4,368.2 208.2,368.2 208.9,368.3 209.7,368.4 210.5,368.4 211.2,368.5 212.0,368.6 212.8,368.6 213.5,368.7 214.3,368.7 215.0,368.8 215.8,368.9 216.6,368.9 217.3,369.0 218.1,369.0 218.9,369.1 219.6,369.2 220.4,369.2 221.1,369.3 221.9,369.3 222.7,369.4 223.4,369.4 224.2,369.5 225.0,369.5 225.7,369.6 226.5,369.6 227.3,369.7 228.0,369.7 228.8,369.8 229.5,369.8 230.3,369.9 231.1,369.9 231.8,369.9 232.6,370.0 233.4,370.0 234.1,370.1"/>
<polyline fill="none" stroke="#22a060" stroke-width="1.3" stroke-dasharray="5,1.8,1,1.8" points="51.0,213.1 51.8,213.1 52.5,213.1 53.3,240.8 54.1,269.6 54.8,288.9 55.6,301.8 56.3,310.4 57.1,315.9 57.9,319.5 58.6,321.7 59.4,322.9 60.2,323.5 60.9,323.7 61.7,323.6 62.4,323.3 63.2,322.8 64.0,322.3 64.7,321.7 65.5,321.1 66.3,320.5 67.0,319.9 67.8,319.3 68.5,318.7 69.3,318.1 70.1,317.5 70.8,316.9 71.6,316.3 72.4,315.8 73.1,315.2 73.9,314.7 74.7,314.2 75.4,313.8 76.2,313.3 76.9,312.9 77.7,312.5 78.5,312.1 79.2,311.8 80.0,311.4 80.8,311.1 81.5,310.8 82.3,310.6 83.0,310.4 83.8,310.1 84.6,310.0 85.3,309.8 86.1,309.7 86.9,309.6 87.6,309.5 88.4,309.5 89.2,309.5 89.9,309.6 90.7,309.8 91.4,310.0 92.2,310.2 93.0,310.5 93.7,310.8 94.5,311.1 95.3,311.5 96.0,311.9 96.8,312.2 97.5,312.7 98.3,313.2 99.1,313.8 99.8,314.4 100.6,315.1 101.4,315.8 102.1,316.6 102.9,317.4 103.6,318.1 104.4,318.9 105.2,319.6 105.9,320.4 106.7,321.2 107.5,321.9 108.2,322.8 109.0,323.6 109.8,324.5 110.5,325.3 111.3,326.2 112.0,327.1 112.8,327.9 113.6,328.8 114.3,329.7 115.1,330.6 115.9,331.4 116.6,332.2 117.4,333.0 118.1,333.8 118.9,334.6 119.7,335.3 120.4,336.0 121.2,336.6 122.0,337.3 122.7,337.9 123.5,338.5 124.2,339.2 125.0,339.8 125.8,340.4 126.5,340.9 127.3,341.5 128.1,342.1 128.8,342.6 129.6,343.2 130.4,343.7 131.1,344.2 131.9,344.7 132.6,345.2 133.4,345.7 134.2,346.2 134.9,346.7 135.7,347.1 136.5,347.6 137.2,348.0 138.0,348.4 138.7,348.9 139.5,349.3 140.3,349.7 141.0,350.1 141.8,350.5 142.6,350.9 143.3,351.3 144.1,351.6 144.8,352.0 145.6,352.4 146.4,352.7 147.1,353.1 147.9,353.4 148.7,353.7 149.4,354.1 150.2,354.4 151.0,354.7 151.7,355.0 152.5,355.3 153.2,355.6 154.0,355.9 154.8,356.2 155.5,356.5 156.3,356.7 157.1,357.0 157.8,357.3 158.6,357.5 159.3,357.8 160.1,358.1 160.9,358.3 161.6,358.5 162.4,358.8 163.2,359.0 163.9,359.2 164.7,359.5 165.4,359.7 166.2,359.9 167.0,360.1 167.7,360.3 168.5,360.5 169.3,360.7 170.0,360.9 170.8,361.1 171.6,361.3 172.3,361.5 173.1,361.6 173.8,361.8 174.6,362.0 175.4,362.2 176.1,362.3 176.9,362.5 177.7,362.6 178.4,362.8 179.2,362.9 179.9,363.1 180.7,363.2 181.5,363.4 182.2,363.5 183.0,363.6 183.8,363.7 184.5,363.9 185.3,364.0 186.1,364.1 186.8,364.2 187.6,364.3 188.3,364.4 189.1,364.6 189.9,364.7 190.6,364.8 191.4,364.9 192.2,365.0 192.9,365.1 193.7,365.2 194.4,365.3 195.2,365.4 196.0,365.5 196.7,365.6 197.5,365.7 198.3,365.8 199.0,365.9 199.8,366.0 200.5,366.1 201.3,366.1 202.1,366.2 202.8,366.3 203.6,366.4 204.4,366.5 205.1,366.6 205.9,366.6 206.7,366.7 207.4,366.8 208.2,366.9 208.9,367.0 209.7,367.0 210.5,367.1 211.2,367.2 212.0,367.3 212.8,367.3 213.5,367.4 214.3,367.5 215.0,367.6 215.8,367.6 216.6,367.7 217.3,367.8 218.1,367.8 218.9,367.9 219.6,368.0 220.4,368.0 221.1,368.1 221.9,368.1 222.7,368.2 223.4,368.3 224.2,368.3 225.0,368.4 225.7,368.4 226.5,368.5 227.3,368.6 228.0,368.6 228.8,368.7 229.5,368.7 230.3,368.8 231.1,368.8 231.8,368.9 232.6,368.9 233.4,369.0 234.1,369.0"/>
<polyline fill="none" stroke="#c8cc48" stroke-width="1.3" stroke-dasharray="4.5,2.5" points="51.0,213.1 51.8,213.1 52.5,213.1 53.3,213.1 54.1,247.0 54.8,270.0 55.6,285.4 56.3,295.6 57.1,302.3 57.9,306.6 58.6,309.2 59.4,310.7 60.2,311.5 60.9,311.8 61.7,311.7 62.4,311.4 63.2,311.0 64.0,310.5 64.7,309.9 65.5,309.2 66.3,308.5 67.0,307.9 67.8,307.2 68.5,306.5 69.3,305.9 70.1,305.2 70.8,304.6 71.6,304.0 72.4,303.4 73.1,302.9 73.9,302.3 74.7,301.8 75.4,301.3 76.2,300.8 76.9,300.4 77.7,299.9 78.5,299.5 79.2,299.1 80.0,298.8 80.8,298.5 81.5,298.2 82.3,297.9 83.0,297.6 83.8,297.4 84.6,297.2 85.3,297.1 86.1,297.0 86.9,296.9 87.6,296.8 88.4,296.7 89.2,296.7 89.9,296.9 90.7,297.1 91.4,297.3 92.2,297.6 93.0,297.9 93.7,298.3 94.5,298.7 95.3,299.1 96.0,299.5 96.8,300.0 97.5,300.5 98.3,301.1 99.1,301.8 99.8,302.6 100.6,303.4 101.4,304.3 102.1,305.2 102.9,306.1 103.6,307.0 104.4,307.9 105.2,308.8 105.9,309.7 106.7,310.6 107.5,311.5 108.2,312.5 109.0,313.5 109.8,314.5 110.5,315.6 111.3,316.6 112.0,317.6 112.8,318.7 113.6,319.7 114.3,320.7 115.1,321.8 115.9,322.8 116.6,323.8 117.4,324.7 118.1,325.6 118.9,326.5 119.7,327.4 120.4,328.2 121.2,329.0 122.0,329.8 122.7,330.5 123.5,331.3 124.2,332.0 125.0,332.7 125.8,333.4 126.5,334.1 127.3,334.8 128.1,335.5 128.8,336.1 129.6,336.8 130.4,337.4 131.1,338.0 131.9,338.6 132.6,339.2 133.4,339.8 134.2,340.4 134.9,340.9 135.7,341.5 136.5,342.0 137.2,342.5 138.0,343.0 138.7,343.5 139.5,344.0 140.3,344.5 141.0,345.0 141.8,345.5 142.6,345.9 143.3,346.4 144.1,346.8 144.8,347.3 145.6,347.7 146.4,348.1 147.1,348.5 147.9,348.9 148.7,349.3 149.4,349.7 150.2,350.1 151.0,350.5 151.7,350.8 152.5,351.2 153.2,351.5 154.0,351.9 154.8,352.2 155.5,352.6 156.3,352.9 157.1,353.2 157.8,353.5 158.6,353.9 159.3,354.2 160.1,354.5 160.9,354.8 161.6,355.0 162.4,355.3 163.2,355.6 163.9,355.9 164.7,356.1 165.4,356.4 166.2,356.7 167.0,356.9 167.7,357.1 168.5,357.4 169.3,357.6 170.0,357.8 170.8,358.1 171.6,358.3 172.3,358.5 173.1,358.7 173.8,358.9 174.6,359.1 175.4,359.3 176.1,359.5 176.9,359.7 177.7,359.9 178.4,360.1 179.2,360.3 179.9,360.5 180.7,360.6 181.5,360.8 182.2,360.9 183.0,361.1 183.8,361.2 184.5,361.4 185.3,361.5 186.1,361.7 186.8,361.8 187.6,361.9 188.3,362.1 189.1,362.2 189.9,362.3 190.6,362.5 191.4,362.6 192.2,362.7 192.9,362.8 193.7,363.0 194.4,363.1 195.2,363.2 196.0,363.3 196.7,363.4 197.5,363.5 198.3,363.6 199.0,363.8 199.8,363.9 200.5,364.0 201.3,364.1 202.1,364.2 202.8,364.3 203.6,364.4 204.4,364.5 205.1,364.6 205.9,364.7 206.7,364.8 207.4,364.9 208.2,365.0 208.9,365.1 209.7,365.1 210.5,365.2 211.2,365.3 212.0,365.4 212.8,365.5 213.5,365.6 214.3,365.7 215.0,365.8 215.8,365.8 216.6,365.9 217.3,366.0 218.1,366.1 218.9,366.2 219.6,366.2 220.4,366.3 221.1,366.4 221.9,366.5 222.7,366.5 223.4,366.6 224.2,366.7 225.0,366.7 225.7,366.8 226.5,366.9 227.3,366.9 228.0,367.0 228.8,367.1 229.5,367.1 230.3,367.2 231.1,367.3 231.8,367.3 232.6,367.4 233.4,367.4 234.1,367.5"/>
<polyline fill="none" stroke="#f4a35a" stroke-width="1.3" stroke-dasharray="4.5,2.5" points="51.0,213.1 51.8,213.1 52.5,213.1 53.3,213.1 54.1,232.3 54.8,257.7 55.6,274.7 56.3,286.0 57.1,293.4 57.9,298.1 58.6,301.1 59.4,302.8 60.2,303.7 60.9,304.1 61.7,304.0 62.4,303.7 63.2,303.3 64.0,302.7 64.7,302.1 65.5,301.4 66.3,300.7 67.0,300.0 67.8,299.3 68.5,298.7 69.3,298.0 70.1,297.3 70.8,296.6 71.6,296.0 72.4,295.4 73.1,294.8 73.9,294.2 74.7,293.7 75.4,293.2 76.2,292.7 76.9,292.2 77.7,291.7 78.5,291.3 79.2,290.9 80.0,290.6 80.8,290.2 81.5,289.9 82.3,289.6 83.0,289.4 83.8,289.2 84.6,289.0 85.3,288.8 86.1,288.7 86.9,288.5 87.6,288.5 88.4,288.4 89.2,288.4 89.9,288.6 90.7,288.8 91.4,289.0 92.2,289.4 93.0,289.7 93.7,290.1 94.5,290.6 95.3,291.0 96.0,291.5 96.8,292.0 97.5,292.6 98.3,293.3 99.1,294.0 99.8,294.9 100.6,295.8 101.4,296.7 102.1,297.7 102.9,298.7 103.6,299.8 104.4,300.8 105.2,301.7 105.9,302.7 106.7,303.7 107.5,304.8 108.2,305.8 109.0,306.9 109.8,308.1 110.5,309.2 111.3,310.3 112.0,311.5 112.8,312.6 113.6,313.8 114.3,314.9 115.1,316.1 115.9,317.2 116.6,318.2 117.4,319.3 118.1,320.3 118.9,321.3 119.7,322.3 120.4,323.2 121.2,324.0 122.0,324.9 122.7,325.7 123.5,326.5 124.2,327.3 125.0,328.1 125.8,328.9 126.5,329.7 127.3,330.4 128.1,331.2 128.8,331.9 129.6,332.6 130.4,333.3 131.1,334.0 131.9,334.7 132.6,335.3 133.4,336.0 134.2,336.6 134.9,337.2 135.7,337.8 136.5,338.4 137.2,339.0 138.0,339.5 138.7,340.1 139.5,340.6 140.3,341.2 141.0,341.7 141.8,342.2 142.6,342.7 143.3,343.2 144.1,343.7 144.8,344.2 145.6,344.7 146.4,345.1 147.1,345.6 147.9,346.0 148.7,346.5 149.4,346.9 150.2,347.3 151.0,347.7 151.7,348.1 152.5,348.5 153.2,348.9 154.0,349.3 154.8,349.7 155.5,350.0 156.3,350.4 157.1,350.8 157.8,351.1 158.6,351.5 159.3,351.8 160.1,352.1 160.9,352.5 161.6,352.8 162.4,353.1 163.2,353.4 163.9,353.7 164.7,354.0 165.4,354.3 166.2,354.5 167.0,354.8 167.7,355.1 168.5,355.3 169.3,355.6 170.0,355.9 170.8,356.1 171.6,356.4 172.3,356.6 173.1,356.8 173.8,357.1 174.6,357.3 175.4,357.5 176.1,357.7 176.9,357.9 177.7,358.2 178.4,358.4 179.2,358.5 179.9,358.7 180.7,358.9 181.5,359.1 182.2,359.3 183.0,359.4 183.8,359.6 184.5,359.7 185.3,359.9 186.1,360.1 186.8,360.2 187.6,360.4 188.3,360.5 189.1,360.7 189.9,360.8 190.6,360.9 191.4,361.1 192.2,361.2 192.9,361.4 193.7,361.5 194.4,361.6 195.2,361.8 196.0,361.9 196.7,362.0 197.5,362.1 198.3,362.3 199.0,362.4 199.8,362.5 200.5,362.6 201.3,362.7 202.1,362.9 202.8,363.0 203.6,363.1 204.4,363.2 205.1,363.3 205.9,363.4 206.7,363.5 207.4,363.6 208.2,363.7 208.9,363.8 209.7,363.9 210.5,364.0 211.2,364.1 212.0,364.2 212.8,364.3 213.5,364.4 214.3,364.5 215.0,364.6 215.8,364.7 216.6,364.8 217.3,364.9 218.1,364.9 218.9,365.0 219.6,365.1 220.4,365.2 221.1,365.3 221.9,365.4 222.7,365.4 223.4,365.5 224.2,365.6 225.0,365.7 225.7,365.8 226.5,365.8 227.3,365.9 228.0,366.0 228.8,366.0 229.5,366.1 230.3,366.2 231.1,366.2 231.8,366.3 232.6,366.4 233.4,366.4 234.1,366.5"/>
<polyline fill="none" stroke="#b03434" stroke-width="1.3" points="51.0,213.1 51.8,213.1 52.5,213.1 53.3,213.1 54.1,223.5 54.8,250.3 55.6,268.3 56.3,280.2 57.1,288.0 57.9,293.0 58.6,296.2 59.4,298.0 60.2,299.0 60.9,299.4 61.7,299.4 62.4,299.1 63.2,298.6 64.0,298.1 64.7,297.4 65.5,296.7 66.3,296.0 67.0,295.3 67.8,294.6 68.5,293.9 69.3,293.2 70.1,292.5 70.8,291.8 71.6,291.2 72.4,290.5 73.1,289.9 73.9,289.3 74.7,288.8 75.4,288.2 76.2,287.7 76.9,287.2 77.7,286.8 78.5,286.4 79.2,285.9 80.0,285.6 80.8,285.2 81.5,284.9 82.3,284.6 83.0,284.4 83.8,284.1 84.6,283.9 85.3,283.8 86.1,283.6 86.9,283.5 87.6,283.4 88.4,283.4 89.2,283.4 89.9,283.5 90.7,283.8 91.4,284.0 92.2,284.4 93.0,284.8 93.7,285.2 94.5,285.7 95.3,286.2 96.0,286.7 96.8,287.2 97.5,287.8 98.3,288.5 99.1,289.3 99.8,290.2 100.6,291.2 101.4,292.2 102.1,293.2 102.9,294.3 103.6,295.4 104.4,296.4 105.2,297.5 105.9,298.5 106.7,299.6 107.5,300.7 108.2,301.8 109.0,303.0 109.8,304.1 110.5,305.3 111.3,306.5 112.0,307.8 112.8,309.0 113.6,310.2 114.3,311.4 115.1,312.6 115.9,313.8 116.6,314.9 117.4,316.0 118.1,317.1 118.9,318.2 119.7,319.2 120.4,320.1 121.2,321.0 122.0,321.9 122.7,322.8 123.5,323.7 124.2,324.5 125.0,325.4 125.8,326.2 126.5,327.0 127.3,327.8 128.1,328.6 128.8,329.3 129.6,330.1 130.4,330.8 131.1,331.5 131.9,332.2 132.6,332.9 133.4,333.6 134.2,334.3 134.9,334.9 135.7,335.6 136.5,336.2 137.2,336.8 138.0,337.4 138.7,338.0 139.5,338.6 140.3,339.1 141.0,339.7 141.8,340.2 142.6,340.8 143.3,341.3 144.1,341.8 144.8,342.3 145.6,342.8 146.4,343.3 147.1,343.8 147.9,344.3 148.7,344.7 149.4,345.2 150.2,345.6 151.0,346.1 151.7,346.5 152.5,346.9 153.2,347.3 154.0,347.7 154.8,348.1 155.5,348.5 156.3,348.9 157.1,349.3 157.8,349.6 158.6,350.0 159.3,350.4 160.1,350.7 160.9,351.1 161.6,351.4 162.4,351.7 163.2,352.0 163.9,352.4 164.7,352.7 165.4,353.0 166.2,353.3 167.0,353.5 167.7,353.8 168.5,354.1 169.3,354.4 170.0,354.6 170.8,354.9 171.6,355.2 172.3,355.4 173.1,355.7 173.8,355.9 174.6,356.2 175.4,356.4 176.1,356.6 176.9,356.9 177.7,357.1 178.4,357.3 179.2,357.5 179.9,357.7 180.7,357.9 181.5,358.1 182.2,358.2 183.0,358.4 183.8,358.6 184.5,358.8 185.3,358.9 186.1,359.1 186.8,359.3 187.6,359.4 188.3,359.6 189.1,359.7 189.9,359.9 190.6,360.0 191.4,360.2 192.2,360.3 192.9,360.5 193.7,360.6 194.4,360.7 195.2,360.9 196.0,361.0 196.7,361.2 197.5,361.3 198.3,361.4 199.0,361.5 199.8,361.7 200.5,361.8 201.3,361.9 202.1,362.0 202.8,362.2 203.6,362.3 204.4,362.4 205.1,362.5 205.9,362.6 206.7,362.7 207.4,362.8 208.2,363.0 208.9,363.1 209.7,363.2 210.5,363.3 211.2,363.4 212.0,363.5 212.8,363.6 213.5,363.7 214.3,363.8 215.0,363.9 215.8,364.0 216.6,364.1 217.3,364.2 218.1,364.3 218.9,364.3 219.6,364.4 220.4,364.5 221.1,364.6 221.9,364.7 222.7,364.8 223.4,364.9 224.2,364.9 225.0,365.0 225.7,365.1 226.5,365.2 227.3,365.3 228.0,365.3 228.8,365.4 229.5,365.5 230.3,365.6 231.1,365.6 231.8,365.7 232.6,365.8 233.4,365.8 234.1,365.9"/>
<polyline fill="none" stroke="#a23cb0" stroke-width="1.3" stroke-dasharray="4.5,2.5" points="51.0,213.1 51.8,213.1 52.5,213.1 53.3,213.1 54.1,218.9 54.8,246.5 55.6,264.9 56.3,277.1 57.1,285.2 57.9,290.3 58.6,293.6 59.4,295.5 60.2,296.5 60.9,296.9 61.7,296.9 62.4,296.6 63.2,296.1 64.0,295.6 64.7,294.9 65.5,294.2 66.3,293.5 67.0,292.8 67.8,292.0 68.5,291.3 69.3,290.6 70.1,289.9 70.8,289.2 71.6,288.6 72.4,287.9 73.1,287.3 73.9,286.7 74.7,286.2 75.4,285.6 76.2,285.1 76.9,284.6 77.7,284.1 78.5,283.7 79.2,283.3 80.0,282.9 80.8,282.6 81.5,282.2 82.3,281.9 83.0,281.7 83.8,281.5 84.6,281.3 85.3,281.1 86.1,280.9 86.9,280.8 87.6,280.8 88.4,280.7 89.2,280.7 89.9,280.9 90.7,281.1 91.4,281.4 92.2,281.7 93.0,282.1 93.7,282.6 94.5,283.0 95.3,283.6 96.0,284.1 96.8,284.6 97.5,285.2 98.3,286.0 99.1,286.8 99.8,287.7 100.6,288.7 101.4,289.7 102.1,290.8 102.9,291.9 103.6,293.0 104.4,294.1 105.2,295.2 105.9,296.2 106.7,297.3 107.5,298.5 108.2,299.6 109.0,300.8 109.8,302.1 110.5,303.3 111.3,304.5 112.0,305.8 112.8,307.0 113.6,308.3 114.3,309.5 115.1,310.7 115.9,311.9 116.6,313.1 117.4,314.3 118.1,315.4 118.9,316.5 119.7,317.5 120.4,318.5 121.2,319.4 122.0,320.3 122.7,321.2 123.5,322.1 124.2,323.0 125.0,323.9 125.8,324.7 126.5,325.6 127.3,326.4 128.1,327.2 128.8,328.0 129.6,328.7 130.4,329.5 131.1,330.2 131.9,331.0 132.6,331.7 133.4,332.4 134.2,333.1 134.9,333.7 135.7,334.4 136.5,335.0 137.2,335.6 138.0,336.2 138.7,336.9 139.5,337.5 140.3,338.0 141.0,338.6 141.8,339.2 142.6,339.7 143.3,340.3 144.1,340.8 144.8,341.3 145.6,341.8 146.4,342.4 147.1,342.8 147.9,343.3 148.7,343.8 149.4,344.3 150.2,344.7 151.0,345.2 151.7,345.6 152.5,346.0 153.2,346.5 154.0,346.9 154.8,347.3 155.5,347.7 156.3,348.1 157.1,348.5 157.8,348.9 158.6,349.2 159.3,349.6 160.1,350.0 160.9,350.3 161.6,350.7 162.4,351.0 163.2,351.3 163.9,351.7 164.7,352.0 165.4,352.3 166.2,352.6 167.0,352.9 167.7,353.2 168.5,353.4 169.3,353.7 170.0,354.0 170.8,354.3 171.6,354.5 172.3,354.8 173.1,355.1 173.8,355.3 174.6,355.6 175.4,355.8 176.1,356.1 176.9,356.3 177.7,356.5 178.4,356.7 179.2,356.9 179.9,357.1 180.7,357.3 181.5,357.5 182.2,357.7 183.0,357.9 183.8,358.1 184.5,358.2 185.3,358.4 186.1,358.6 186.8,358.7 187.6,358.9 188.3,359.1 189.1,359.2 189.9,359.4 190.6,359.5 191.4,359.7 192.2,359.8 192.9,360.0 193.7,360.1 194.4,360.3 195.2,360.4 196.0,360.6 196.7,360.7 197.5,360.8 198.3,361.0 199.0,361.1 199.8,361.2 200.5,361.4 201.3,361.5 202.1,361.6 202.8,361.7 203.6,361.9 204.4,362.0 205.1,362.1 205.9,362.2 206.7,362.3 207.4,362.4 208.2,362.6 208.9,362.7 209.7,362.8 210.5,362.9 211.2,363.0 212.0,363.1 212.8,363.2 213.5,363.3 214.3,363.4 215.0,363.5 215.8,363.6 216.6,363.7 217.3,363.8 218.1,363.9 218.9,364.0 219.6,364.1 220.4,364.2 221.1,364.3 221.9,364.3 222.7,364.4 223.4,364.5 224.2,364.6 225.0,364.7 225.7,364.8 226.5,364.8 227.3,364.9 228.0,365.0 228.8,365.1 229.5,365.1 230.3,365.2 231.1,365.3 231.8,365.4 232.6,365.4 233.4,365.5 234.1,365.6"/>
<polyline fill="none" stroke="#2f78b0" stroke-width="1.3" stroke-dasharray="5,1.8,1,1.8" points="51.0,213.1 51.8,213.1 52.5,213.1 53.3,213.1 54.1,214.4 54.8,242.7 55.6,261.6 56.3,274.1 57.1,282.4 57.9,287.7 58.6,291.0 59.4,292.9 60.2,294.0 60.9,294.4 61.7,294.4 62.4,294.1 63.2,293.7 64.0,293.1 64.7,292.4 65.5,291.7 66.3,291.0 67.0,290.2 67.8,289.5 68.5,288.8 69.3,288.1 70.1,287.3 70.8,286.7 71.6,286.0 72.4,285.3 73.1,284.7 73.9,284.1 74.7,283.5 75.4,283.0 76.2,282.5 76.9,282.0 77.7,281.5 78.5,281.1 79.2,280.6 80.0,280.3 80.8,279.9 81.5,279.6 82.3,279.3 83.0,279.0 83.8,278.8 84.6,278.6 85.3,278.4 86.1,278.3 86.9,278.1 87.6,278.1 88.4,278.0 89.2,278.0 89.9,278.2 90.7,278.4 91.4,278.7 92.2,279.1 93.0,279.5 93.7,279.9 94.5,280.4 95.3,280.9 96.0,281.5 96.8,282.1 97.5,282.7 98.3,283.4 99.1,284.3 99.8,285.2 100.6,286.2 101.4,287.3 102.1,288.4 102.9,289.5 103.6,290.7 104.4,291.8 105.2,292.9 105.9,294.0 106.7,295.1 107.5,296.3 108.2,297.5 109.0,298.7 109.8,300.0 110.5,301.2 111.3,302.5 112.0,303.8 112.8,305.1 113.6,306.4 114.3,307.6 115.1,308.9 115.9,310.1 116.6,311.3 117.4,312.5 118.1,313.7 118.9,314.8 119.7,315.8 120.4,316.8 121.2,317.8 122.0,318.8 122.7,319.7 123.5,320.6 124.2,321.5 125.0,322.4 125.8,323.3 126.5,324.1 127.3,325.0 128.1,325.8 128.8,326.6 129.6,327.4 130.4,328.2 131.1,328.9 131.9,329.7 132.6,330.4 133.4,331.1 134.2,331.8 134.9,332.5 135.7,333.2 136.5,333.8 137.2,334.5 138.0,335.1 138.7,335.7 139.5,336.3 140.3,336.9 141.0,337.5 141.8,338.1 142.6,338.7 143.3,339.2 144.1,339.8 144.8,340.3 145.6,340.9 146.4,341.4 147.1,341.9 147.9,342.4 148.7,342.9 149.4,343.4 150.2,343.8 151.0,344.3 151.7,344.7 152.5,345.2 153.2,345.6 154.0,346.0 154.8,346.5 155.5,346.9 156.3,347.3 157.1,347.7 157.8,348.1 158.6,348.5 159.3,348.8 160.1,349.2 160.9,349.6 161.6,349.9 162.4,350.3 163.2,350.6 163.9,350.9 164.7,351.3 165.4,351.6 166.2,351.9 167.0,352.2 167.7,352.5 168.5,352.8 169.3,353.1 170.0,353.4 170.8,353.6 171.6,353.9 172.3,354.2 173.1,354.5 173.8,354.7 174.6,355.0 175.4,355.2 176.1,355.5 176.9,355.7 177.7,355.9 178.4,356.2 179.2,356.4 179.9,356.6 180.7,356.8 181.5,357.0 182.2,357.2 183.0,357.3 183.8,357.5 184.5,357.7 185.3,357.9 186.1,358.1 186.8,358.2 187.6,358.4 188.3,358.6 189.1,358.7 189.9,358.9 190.6,359.0 191.4,359.2 192.2,359.4 192.9,359.5 193.7,359.7 194.4,359.8 195.2,360.0 196.0,360.1 196.7,360.2 197.5,360.4 198.3,360.5 199.0,360.7 199.8,360.8 200.5,360.9 201.3,361.1 202.1,361.2 202.8,361.3 203.6,361.4 204.4,361.6 205.1,361.7 205.9,361.8 206.7,361.9 207.4,362.0 208.2,362.1 208.9,362.3 209.7,362.4 210.5,362.5 211.2,362.6 212.0,362.7 212.8,362.8 213.5,362.9 214.3,363.0 215.0,363.1 215.8,363.2 216.6,363.3 217.3,363.4 218.1,363.5 218.9,363.6 219.6,363.7 220.4,363.8 221.1,363.9 221.9,364.0 222.7,364.1 223.4,364.2 224.2,364.3 225.0,364.3 225.7,364.4 226.5,364.5 227.3,364.6 228.0,364.7 228.8,364.7 229.5,364.8 230.3,364.9 231.1,365.0 231.8,365.0 232.6,365.1 233.4,365.2 234.1,365.2"/>
<polyline fill="none" stroke="#20a3a3" stroke-width="1.3" stroke-dasharray="4.5,2.5" points="51.0,213.1 51.8,213.1 52.5,213.1 53.3,213.1 54.1,213.1 54.8,238.4 55.6,257.8 56.3,270.7 57.1,279.1 57.9,284.6 58.6,288.0 59.4,290.0 60.2,291.1 60.9,291.5 61.7,291.5 62.4,291.2 63.2,290.8 64.0,290.2 64.7,289.5 65.5,288.8 66.3,288.1 67.0,287.3 67.8,286.6 68.5,285.8 69.3,285.1 70.1,284.4 70.8,283.7 71.6,283.0 72.4,282.3 73.1,281.7 73.9,281.1 74.7,280.5 75.4,280.0 76.2,279.4 76.9,278.9 77.7,278.4 78.5,278.0 79.2,277.6 80.0,277.2 80.8,276.8 81.5,276.5 82.3,276.2 83.0,275.9 83.8,275.7 84.6,275.5 85.3,275.3 86.1,275.2 86.9,275.0 87.6,275.0 88.4,274.9 89.2,274.9 89.9,275.1 90.7,275.3 91.4,275.6 92.2,276.0 93.0,276.4 93.7,276.9 94.5,277.4 95.3,277.9 96.0,278.5 96.8,279.1 97.5,279.7 98.3,280.5 99.1,281.4 99.8,282.4 100.6,283.4 101.4,284.5 102.1,285.6 102.9,286.8 103.6,288.0 104.4,289.1 105.2,290.3 105.9,291.4 106.7,292.5 107.5,293.8 108.2,295.0 109.0,296.3 109.8,297.5 110.5,298.8 111.3,300.2 112.0,301.5 112.8,302.8 113.6,304.1 114.3,305.5 115.1,306.8 115.9,308.0 116.6,309.3 117.4,310.5 118.1,311.7 118.9,312.8 119.7,313.9 120.4,315.0 121.2,315.9 122.0,316.9 122.7,317.9 123.5,318.8 124.2,319.8 125.0,320.7 125.8,321.6 126.5,322.5 127.3,323.3 128.1,324.2 128.8,325.0 129.6,325.8 130.4,326.6 131.1,327.4 131.9,328.2 132.6,328.9 133.4,329.7 134.2,330.4 134.9,331.1 135.7,331.8 136.5,332.5 137.2,333.1 138.0,333.8 138.7,334.4 139.5,335.1 140.3,335.7 141.0,336.3 141.8,336.9 142.6,337.5 143.3,338.1 144.1,338.6 144.8,339.2 145.6,339.7 146.4,340.3 147.1,340.8 147.9,341.3 148.7,341.8 149.4,342.3 150.2,342.8 151.0,343.3 151.7,343.7 152.5,344.2 153.2,344.6 154.0,345.1 154.8,345.5 155.5,345.9 156.3,346.3 157.1,346.8 157.8,347.2 158.6,347.6 159.3,347.9 160.1,348.3 160.9,348.7 161.6,349.1 162.4,349.4 163.2,349.8 163.9,350.1 164.7,350.5 165.4,350.8 166.2,351.1 167.0,351.4 167.7,351.7 168.5,352.0 169.3,352.3 170.0,352.6 170.8,352.9 171.6,353.2 172.3,353.5 173.1,353.7 173.8,354.0 174.6,354.3 175.4,354.5 176.1,354.8 176.9,355.0 177.7,355.3 178.4,355.5 179.2,355.7 179.9,355.9 180.7,356.1 181.5,356.3 182.2,356.5 183.0,356.7 183.8,356.9 184.5,357.1 185.3,357.3 186.1,357.5 186.8,357.6 187.6,357.8 188.3,358.0 189.1,358.2 189.9,358.3 190.6,358.5 191.4,358.6 192.2,358.8 192.9,359.0 193.7,359.1 194.4,359.3 195.2,359.4 196.0,359.6 196.7,359.7 197.5,359.9 198.3,360.0 199.0,360.1 199.8,360.3 200.5,360.4 201.3,360.6 202.1,360.7 202.8,360.8 203.6,360.9 204.4,361.1 205.1,361.2 205.9,361.3 206.7,361.4 207.4,361.6 208.2,361.7 208.9,361.8 209.7,361.9 210.5,362.0 211.2,362.1 212.0,362.2 212.8,362.4 213.5,362.5 214.3,362.6 215.0,362.7 215.8,362.8 216.6,362.9 217.3,363.0 218.1,363.1 218.9,363.2 219.6,363.3 220.4,363.4 221.1,363.5 221.9,363.6 222.7,363.7 223.4,363.8 224.2,363.9 225.0,363.9 225.7,364.0 226.5,364.1 227.3,364.2 228.0,364.3 228.8,364.4 229.5,364.4 230.3,364.5 231.1,364.6 231.8,364.7 232.6,364.7 233.4,364.8 234.1,364.9"/>
<polyline fill="none" stroke="#22a060" stroke-width="1.3" stroke-dasharray="5,1.8,1,1.8" points="51.0,213.1 51.8,213.1 52.5,213.1 53.3,213.1 54.1,213.1 54.8,235.4 55.6,255.1 56.3,268.2 57.1,276.8 57.9,282.3 58.6,285.8 59.4,287.9 60.2,289.0 60.9,289.4 61.7,289.4 62.4,289.2 63.2,288.7 64.0,288.1 64.7,287.4 65.5,286.7 66.3,285.9 67.0,285.2 67.8,284.4 68.5,283.7 69.3,282.9 70.1,282.2 70.8,281.5 71.6,280.8 72.4,280.2 73.1,279.5 73.9,278.9 74.7,278.3 75.4,277.7 76.2,277.2 76.9,276.7 77.7,276.2 78.5,275.8 79.2,275.3 80.0,274.9 80.8,274.6 81.5,274.2 82.3,273.9 83.0,273.7 83.8,273.4 84.6,273.2 85.3,273.0 86.1,272.9 86.9,272.8 87.6,272.7 88.4,272.7 89.2,272.6 89.9,272.8 90.7,273.1 91.4,273.4 92.2,273.8 93.0,274.2 93.7,274.7 94.5,275.2 95.3,275.7 96.0,276.3 96.8,276.9 97.5,277.6 98.3,278.4 99.1,279.3 99.8,280.3 100.6,281.3 101.4,282.4 102.1,283.6 102.9,284.8 103.6,286.0 104.4,287.2 105.2,288.3 105.9,289.5 106.7,290.7 107.5,291.9 108.2,293.2 109.0,294.5 109.8,295.8 110.5,297.1 111.3,298.5 112.0,299.8 112.8,301.2 113.6,302.5 114.3,303.9 115.1,305.2 115.9,306.5 116.6,307.8 117.4,309.0 118.1,310.2 118.9,311.4 119.7,312.5 120.4,313.6 121.2,314.6 122.0,315.6 122.7,316.6 123.5,317.5 124.2,318.5 125.0,319.4 125.8,320.3 126.5,321.2 127.3,322.1 128.1,323.0 128.8,323.9 129.6,324.7 130.4,325.5 131.1,326.3 131.9,327.1 132.6,327.9 133.4,328.6 134.2,329.4 134.9,330.1 135.7,330.8 136.5,331.5 137.2,332.2 138.0,332.8 138.7,333.5 139.5,334.1 140.3,334.8 141.0,335.4 141.8,336.0 142.6,336.6 143.3,337.2 144.1,337.8 144.8,338.3 145.6,338.9 146.4,339.5 147.1,340.0 147.9,340.5 148.7,341.0 149.4,341.5 150.2,342.0 151.0,342.5 151.7,343.0 152.5,343.4 153.2,343.9 154.0,344.3 154.8,344.8 155.5,345.2 156.3,345.7 157.1,346.1 157.8,346.5 158.6,346.9 159.3,347.3 160.1,347.7 160.9,348.1 161.6,348.4 162.4,348.8 163.2,349.2 163.9,349.5 164.7,349.9 165.4,350.2 166.2,350.5 167.0,350.8 167.7,351.2 168.5,351.5 169.3,351.8 170.0,352.1 170.8,352.4 171.6,352.7 172.3,353.0 173.1,353.2 173.8,353.5 174.6,353.8 175.4,354.0 176.1,354.3 176.9,354.5 177.7,354.8 178.4,355.0 179.2,355.2 179.9,355.5 180.7,355.7 181.5,355.9 182.2,356.1 183.0,356.3 183.8,356.5 184.5,356.7 185.3,356.8 186.1,357.0 186.8,357.2 187.6,357.4 188.3,357.6 189.1,357.7 189.9,357.9 190.6,358.1 191.4,358.2 192.2,358.4 192.9,358.6 193.7,358.7 194.4,358.9 195.2,359.0 196.0,359.2 196.7,359.3 197.5,359.5 198.3,359.6 199.0,359.8 199.8,359.9 200.5,360.0 201.3,360.2 202.1,360.3 202.8,360.5 203.6,360.6 204.4,360.7 205.1,360.8 205.9,361.0 206.7,361.1 207.4,361.2 208.2,361.3 208.9,361.5 209.7,361.6 210.5,361.7 211.2,361.8 212.0,361.9 212.8,362.0 213.5,362.1 214.3,362.3 215.0,362.4 215.8,362.5 216.6,362.6 217.3,362.7 218.1,362.8 218.9,362.9 219.6,363.0 220.4,363.1 221.1,363.2 221.9,363.3 222.7,363.4 223.4,363.5 224.2,363.6 225.0,363.6 225.7,363.7 226.5,363.8 227.3,363.9 228.0,364.0 228.8,364.1 229.5,364.2 230.3,364.2 231.1,364.3 231.8,364.4 232.6,364.5 233.4,364.5 234.1,364.6"/>
<polyline fill="none" stroke="#c8cc48" stroke-width="1.3" stroke-dasharray="4.5,2.5" points="51.0,213.1 51.8,213.1 52.5,213.1 53.3,213.1 54.1,213.1 54.8,228.5 55.6,248.9 56.3,262.4 57.1,271.3 57.9,277.1 58.6,280.7 59.4,282.8 60.2,283.9 60.9,284.4 61.7,284.4 62.4,284.1 63.2,283.6 64.0,283.0 64.7,282.3 65.5,281.6 66.3,280.8 67.0,280.1 67.8,279.3 68.5,278.5 69.3,277.7 70.1,277.0 70.8,276.3 71.6,275.6 72.4,274.9 73.1,274.2 73.9,273.6 74.7,273.0 75.4,272.4 76.2,271.9 76.9,271.3 77.7,270.8 78.5,270.4 79.2,269.9 80.0,269.5 80.8,269.2 81.5,268.8 82.3,268.5 83.0,268.2 83.8,268.0 84.6,267.8 85.3,267.6 86.1,267.4 86.9,267.3 87.6,267.2 88.4,267.2 89.2,267.2 89.9,267.4 90.7,267.6 91.4,268.0 92.2,268.4 93.0,268.8 93.7,269.3 94.5,269.9 95.3,270.4 96.0,271.0 96.8,271.7 97.5,272.4 98.3,273.2 99.1,274.2 99.8,275.2 100.6,276.3 101.4,277.5 102.1,278.7 102.9,280.0 103.6,281.2 104.4,282.5 105.2,283.7 105.9,284.9 106.7,286.2 107.5,287.5 108.2,288.8 109.0,290.1 109.8,291.5 110.5,292.9 111.3,294.4 112.0,295.8 112.8,297.2 113.6,298.6 114.3,300.0 115.1,301.4 115.9,302.8 116.6,304.2 117.4,305.5 118.1,306.7 118.9,308.0 119.7,309.1 120.4,310.3 121.2,311.3 122.0,312.4 122.7,313.4 123.5,314.4 124.2,315.4 125.0,316.4 125.8,317.4 126.5,318.3 127.3,319.3 128.1,320.2 128.8,321.1 129.6,322.0 130.4,322.8 131.1,323.7 131.9,324.5 132.6,325.3 133.4,326.1 134.2,326.9 134.9,327.6 135.7,328.4 136.5,329.1 137.2,329.8 138.0,330.5 138.7,331.2 139.5,331.9 140.3,332.6 141.0,333.2 141.8,333.9 142.6,334.5 143.3,335.1 144.1,335.7 144.8,336.3 145.6,336.9 146.4,337.5 147.1,338.0 147.9,338.6 148.7,339.1 149.4,339.7 150.2,340.2 151.0,340.7 151.7,341.2 152.5,341.7 153.2,342.2 154.0,342.6 154.8,343.1 155.5,343.6 156.3,344.0 157.1,344.5 157.8,344.9 158.6,345.3 159.3,345.7 160.1,346.2 160.9,346.6 161.6,347.0 162.4,347.3 163.2,347.7 163.9,348.1 164.7,348.4 165.4,348.8 166.2,349.1 167.0,349.5 167.7,349.8 168.5,350.1 169.3,350.5 170.0,350.8 170.8,351.1 171.6,351.4 172.3,351.7 173.1,352.0 173.8,352.3 174.6,352.6 175.4,352.8 176.1,353.1 176.9,353.4 177.7,353.6 178.4,353.9 179.2,354.1 179.9,354.3 180.7,354.6 181.5,354.8 182.2,355.0 183.0,355.2 183.8,355.4 184.5,355.6 185.3,355.8 186.1,356.0 186.8,356.2 187.6,356.4 188.3,356.5 189.1,356.7 189.9,356.9 190.6,357.1 191.4,357.3 192.2,357.4 192.9,357.6 193.7,357.8 194.4,357.9 195.2,358.1 196.0,358.2 196.7,358.4 197.5,358.6 198.3,358.7 199.0,358.9 199.8,359.0 200.5,359.2 201.3,359.3 202.1,359.4 202.8,359.6 203.6,359.7 204.4,359.9 205.1,360.0 205.9,360.1 206.7,360.3 207.4,360.4 208.2,360.5 208.9,360.6 209.7,360.8 210.5,360.9 211.2,361.0 212.0,361.1 212.8,361.2 213.5,361.4 214.3,361.5 215.0,361.6 215.8,361.7 216.6,361.8 217.3,361.9 218.1,362.0 218.9,362.1 219.6,362.3 220.4,362.4 221.1,362.5 221.9,362.6 222.7,362.7 223.4,362.8 224.2,362.9 225.0,362.9 225.7,363.0 226.5,363.1 227.3,363.2 228.0,363.3 228.8,363.4 229.5,363.5 230.3,363.6 231.1,363.6 231.8,363.7 232.6,363.8 233.4,363.9 234.1,363.9"/>
<polyline fill="none" stroke="#f6c08e" stroke-width="1.3" stroke-dasharray="1,1.6" points="51.0,213.1 51.8,213.1 52.5,213.1 53.3,213.1 54.1,213.1 54.8,223.9 55.6,244.7 56.3,258.5 57.1,267.5 57.9,273.3 58.6,277.0 59.4,279.1 60.2,280.3 60.9,280.8 61.7,280.8 62.4,280.5 63.2,280.0 64.0,279.4 64.7,278.7 65.5,277.9 66.3,277.1 67.0,276.3 67.8,275.5 68.5,274.8 69.3,274.0 70.1,273.2 70.8,272.5 71.6,271.8 72.4,271.1 73.1,270.4 73.9,269.8 74.7,269.1 75.4,268.6 76.2,268.0 76.9,267.5 77.7,267.0 78.5,266.5 79.2,266.0 80.0,265.6 80.8,265.3 81.5,264.9 82.3,264.6 83.0,264.3 83.8,264.1 84.6,263.8 85.3,263.7 86.1,263.5 86.9,263.4 87.6,263.3 88.4,263.3 89.2,263.2 89.9,263.4 90.7,263.7 91.4,264.0 92.2,264.5 93.0,264.9 93.7,265.4 94.5,266.0 95.3,266.6 96.0,267.2 96.8,267.9 97.5,268.6 98.3,269.5 99.1,270.5 99.8,271.5 100.6,272.7 101.4,273.9 102.1,275.2 102.9,276.5 103.6,277.8 104.4,279.1 105.2,280.3 105.9,281.6 106.7,282.9 107.5,284.2 108.2,285.6 109.0,287.0 109.8,288.5 110.5,289.9 111.3,291.4 112.0,292.9 112.8,294.3 113.6,295.8 114.3,297.3 115.1,298.7 115.9,300.1 116.6,301.5 117.4,302.9 118.1,304.2 118.9,305.5 119.7,306.7 120.4,307.9 121.2,309.0 122.0,310.1 122.7,311.1 123.5,312.2 124.2,313.2 125.0,314.2 125.8,315.2 126.5,316.2 127.3,317.2 128.1,318.1 128.8,319.1 129.6,320.0 130.4,320.9 131.1,321.8 131.9,322.6 132.6,323.5 133.4,324.3 134.2,325.1 134.9,325.9 135.7,326.6 136.5,327.4 137.2,328.1 138.0,328.9 138.7,329.6 139.5,330.3 140.3,331.0 141.0,331.6 141.8,332.3 142.6,333.0 143.3,333.6 144.1,334.2 144.8,334.9 145.6,335.5 146.4,336.1 147.1,336.6 147.9,337.2 148.7,337.8 149.4,338.3 150.2,338.9 151.0,339.4 151.7,339.9 152.5,340.4 153.2,340.9 154.0,341.4 154.8,341.9 155.5,342.4 156.3,342.8 157.1,343.3 157.8,343.7 158.6,344.2 159.3,344.6 160.1,345.0 160.9,345.5 161.6,345.9 162.4,346.3 163.2,346.7 163.9,347.0 164.7,347.4 165.4,347.8 166.2,348.1 167.0,348.5 167.7,348.8 168.5,349.2 169.3,349.5 170.0,349.8 170.8,350.2 171.6,350.5 172.3,350.8 173.1,351.1 173.8,351.4 174.6,351.7 175.4,352.0 176.1,352.2 176.9,352.5 177.7,352.8 178.4,353.0 179.2,353.3 179.9,353.5 180.7,353.8 181.5,354.0 182.2,354.2 183.0,354.4 183.8,354.6 184.5,354.8 185.3,355.0 186.1,355.2 186.8,355.4 187.6,355.6 188.3,355.8 189.1,356.0 189.9,356.2 190.6,356.4 191.4,356.5 192.2,356.7 192.9,356.9 193.7,357.1 194.4,357.2 195.2,357.4 196.0,357.6 196.7,357.7 197.5,357.9 198.3,358.1 199.0,358.2 199.8,358.4 200.5,358.5 201.3,358.7 202.1,358.8 202.8,359.0 203.6,359.1 204.4,359.2 205.1,359.4 205.9,359.5 206.7,359.7 207.4,359.8 208.2,359.9 208.9,360.1 209.7,360.2 210.5,360.3 211.2,360.4 212.0,360.6 212.8,360.7 213.5,360.8 214.3,360.9 215.0,361.0 215.8,361.2 216.6,361.3 217.3,361.4 218.1,361.5 218.9,361.6 219.6,361.7 220.4,361.8 221.1,361.9 221.9,362.0 222.7,362.1 223.4,362.2 224.2,362.3 225.0,362.4 225.7,362.5 226.5,362.6 227.3,362.7 228.0,362.8 228.8,362.9 229.5,363.0 230.3,363.1 231.1,363.2 231.8,363.2 232.6,363.3 233.4,363.4 234.1,363.5"/>
<polyline fill="none" stroke="#b03434" stroke-width="1.3" points="51.0,213.1 51.8,213.1 52.5,213.1 53.3,213.1 54.1,213.1 54.8,219.1 55.6,240.1 56.3,254.0 57.1,263.2 57.9,269.0 58.6,272.7 59.4,274.9 60.2,276.0 60.9,276.5 61.7,276.5 62.4,276.2 63.2,275.7 64.0,275.0 64.7,274.3 65.5,273.5 66.3,272.7 67.0,271.9 67.8,271.1 68.5,270.3 69.3,269.5 70.1,268.7 70.8,268.0 71.6,267.2 72.4,266.5 73.1,265.9 73.9,265.2 74.7,264.6 75.4,264.0 76.2,263.4 76.9,262.8 77.7,262.3 78.5,261.9 79.2,261.4 80.0,261.0 80.8,260.6 81.5,260.2 82.3,259.9 83.0,259.6 83.8,259.4 84.6,259.2 85.3,259.0 86.1,258.8 86.9,258.7 87.6,258.6 88.4,258.6 89.2,258.5 89.9,258.7 90.7,259.0 91.4,259.4 92.2,259.8 93.0,260.3 93.7,260.8 94.5,261.4 95.3,262.0 96.0,262.7 96.8,263.4 97.5,264.1 98.3,265.0 99.1,266.1 99.8,267.2 100.6,268.4 101.4,269.7 102.1,271.0 102.9,272.3 103.6,273.7 104.4,275.0 105.2,276.4 105.9,277.7 106.7,279.0 107.5,280.4 108.2,281.8 109.0,283.3 109.8,284.8 110.5,286.3 111.3,287.8 112.0,289.4 112.8,290.9 113.6,292.5 114.3,294.0 115.1,295.5 115.9,297.0 116.6,298.4 117.4,299.8 118.1,301.2 118.9,302.5 119.7,303.8 120.4,305.0 121.2,306.2 122.0,307.3 122.7,308.4 123.5,309.5 124.2,310.6 125.0,311.6 125.8,312.7 126.5,313.7 127.3,314.7 128.1,315.7 128.8,316.7 129.6,317.6 130.4,318.6 131.1,319.5 131.9,320.4 132.6,321.2 133.4,322.1 134.2,322.9 134.9,323.8 135.7,324.6 136.5,325.3 137.2,326.1 138.0,326.9 138.7,327.6 139.5,328.3 140.3,329.1 141.0,329.8 141.8,330.5 142.6,331.1 143.3,331.8 144.1,332.5 144.8,333.1 145.6,333.8 146.4,334.4 147.1,335.0 147.9,335.6 148.7,336.2 149.4,336.7 150.2,337.3 151.0,337.8 151.7,338.4 152.5,338.9 153.2,339.4 154.0,339.9 154.8,340.4 155.5,340.9 156.3,341.4 157.1,341.9 157.8,342.4 158.6,342.8 159.3,343.3 160.1,343.7 160.9,344.2 161.6,344.6 162.4,345.0 163.2,345.4 163.9,345.8 164.7,346.2 165.4,346.6 166.2,346.9 167.0,347.3 167.7,347.7 168.5,348.0 169.3,348.4 170.0,348.7 170.8,349.0 171.6,349.4 172.3,349.7 173.1,350.0 173.8,350.3 174.6,350.6 175.4,350.9 176.1,351.2 176.9,351.5 177.7,351.8 178.4,352.0 179.2,352.3 179.9,352.6 180.7,352.8 181.5,353.0 182.2,353.3 183.0,353.5 183.8,353.7 184.5,353.9 185.3,354.1 186.1,354.3 186.8,354.5 187.6,354.7 188.3,354.9 189.1,355.1 189.9,355.3 190.6,355.5 191.4,355.7 192.2,355.9 192.9,356.1 193.7,356.2 194.4,356.4 195.2,356.6 196.0,356.8 196.7,356.9 197.5,357.1 198.3,357.3 199.0,357.4 199.8,357.6 200.5,357.7 201.3,357.9 202.1,358.1 202.8,358.2 203.6,358.4 204.4,358.5 205.1,358.7 205.9,358.8 206.7,358.9 207.4,359.1 208.2,359.2 208.9,359.3 209.7,359.5 210.5,359.6 211.2,359.7 212.0,359.9 212.8,360.0 213.5,360.1 214.3,360.3 215.0,360.4 215.8,360.5 216.6,360.6 217.3,360.7 218.1,360.9 218.9,361.0 219.6,361.1 220.4,361.2 221.1,361.3 221.9,361.4 222.7,361.5 223.4,361.6 224.2,361.7 225.0,361.8 225.7,361.9 226.5,362.0 227.3,362.1 228.0,362.2 228.8,362.3 229.5,362.4 230.3,362.5 231.1,362.6 231.8,362.7 232.6,362.7 233.4,362.8 234.1,362.9"/>
<polyline fill="none" stroke="#b03434" stroke-width="1.3" points="51.0,213.1 51.8,213.1 52.5,213.1 53.3,213.1 54.1,213.1 54.8,216.7 55.6,237.7 56.3,251.6 57.1,260.7 57.9,266.6 58.6,270.2 59.4,272.4 60.2,273.5 60.9,274.0 61.7,274.0 62.4,273.7 63.2,273.1 64.0,272.5 64.7,271.7 65.5,271.0 66.3,270.1 67.0,269.3 67.8,268.5 68.5,267.7 69.3,266.9 70.1,266.1 70.8,265.3 71.6,264.6 72.4,263.9 73.1,263.2 73.9,262.5 74.7,261.9 75.4,261.3 76.2,260.7 76.9,260.1 77.7,259.6 78.5,259.1 79.2,258.7 80.0,258.2 80.8,257.8 81.5,257.5 82.3,257.2 83.0,256.9 83.8,256.6 84.6,256.4 85.3,256.2 86.1,256.0 86.9,255.9 87.6,255.8 88.4,255.8 89.2,255.8 89.9,256.0 90.7,256.3 91.4,256.6 92.2,257.1 93.0,257.6 93.7,258.1 94.5,258.7 95.3,259.4 96.0,260.0 96.8,260.7 97.5,261.5 98.3,262.4 99.1,263.5 99.8,264.6 100.6,265.9 101.4,267.2 102.1,268.5 102.9,269.9 103.6,271.3 104.4,272.7 105.2,274.0 105.9,275.3 106.7,276.7 107.5,278.1 108.2,279.6 109.0,281.1 109.8,282.6 110.5,284.2 111.3,285.8 112.0,287.3 112.8,288.9 113.6,290.5 114.3,292.0 115.1,293.6 115.9,295.1 116.6,296.6 117.4,298.0 118.1,299.4 118.9,300.8 119.7,302.1 120.4,303.3 121.2,304.5 122.0,305.7 122.7,306.8 123.5,307.9 124.2,309.0 125.0,310.1 125.8,311.2 126.5,312.2 127.3,313.3 128.1,314.3 128.8,315.3 129.6,316.2 130.4,317.2 131.1,318.1 131.9,319.0 132.6,319.9 133.4,320.8 134.2,321.7 134.9,322.5 135.7,323.3 136.5,324.1 137.2,324.9 138.0,325.7 138.7,326.5 139.5,327.2 140.3,327.9 141.0,328.7 141.8,329.4 142.6,330.1 143.3,330.8 144.1,331.4 144.8,332.1 145.6,332.7 146.4,333.4 147.1,334.0 147.9,334.6 148.7,335.2 149.4,335.8 150.2,336.4 151.0,336.9 151.7,337.5 152.5,338.0 153.2,338.5 154.0,339.1 154.8,339.6 155.5,340.1 156.3,340.6 157.1,341.1 157.8,341.6 158.6,342.0 159.3,342.5 160.1,342.9 160.9,343.4 161.6,343.8 162.4,344.3 163.2,344.7 163.9,345.1 164.7,345.5 165.4,345.9 166.2,346.2 167.0,346.6 167.7,347.0 168.5,347.3 169.3,347.7 170.0,348.0 170.8,348.4 171.6,348.7 172.3,349.1 173.1,349.4 173.8,349.7 174.6,350.0 175.4,350.3 176.1,350.6 176.9,350.9 177.7,351.2 178.4,351.5 179.2,351.7 179.9,352.0 180.7,352.2 181.5,352.5 182.2,352.7 183.0,352.9 183.8,353.1 184.5,353.4 185.3,353.6 186.1,353.8 186.8,354.0 187.6,354.2 188.3,354.4 189.1,354.6 189.9,354.8 190.6,355.0 191.4,355.2 192.2,355.4 192.9,355.6 193.7,355.8 194.4,355.9 195.2,356.1 196.0,356.3 196.7,356.5 197.5,356.6 198.3,356.8 199.0,357.0 199.8,357.1 200.5,357.3 201.3,357.5 202.1,357.6 202.8,357.8 203.6,357.9 204.4,358.1 205.1,358.2 205.9,358.4 206.7,358.5 207.4,358.7 208.2,358.8 208.9,358.9 209.7,359.1 210.5,359.2 211.2,359.3 212.0,359.5 212.8,359.6 213.5,359.7 214.3,359.9 215.0,360.0 215.8,360.1 216.6,360.2 217.3,360.4 218.1,360.5 218.9,360.6 219.6,360.7 220.4,360.8 221.1,360.9 221.9,361.1 222.7,361.2 223.4,361.3 224.2,361.4 225.0,361.5 225.7,361.6 226.5,361.7 227.3,361.8 228.0,361.9 228.8,362.0 229.5,362.1 230.3,362.2 231.1,362.2 231.8,362.3 232.6,362.4 233.4,362.5 234.1,362.6"/>
</g>
<rect x="51" y="246.7" width="183.3" height="125.3" fill="none" stroke="#999" stroke-width="0.8"/>
<line x1="51" y1="364.2" x2="52.8" y2="364.2" stroke="#999" stroke-width="0.7"/>
<text x="46.5" y="367.4" font-size="9.6" text-anchor="end" fill="#222">20</text>
<line x1="51" y1="347.4" x2="52.8" y2="347.4" stroke="#999" stroke-width="0.7"/>
<text x="46.5" y="350.6" font-size="9.6" text-anchor="end" fill="#222">40</text>
<line x1="51" y1="330.6" x2="52.8" y2="330.6" stroke="#999" stroke-width="0.7"/>
<text x="46.5" y="333.8" font-size="9.6" text-anchor="end" fill="#222">60</text>
<line x1="51" y1="313.8" x2="52.8" y2="313.8" stroke="#999" stroke-width="0.7"/>
<text x="46.5" y="317.0" font-size="9.6" text-anchor="end" fill="#222">80</text>
<line x1="51" y1="297.1" x2="52.8" y2="297.1" stroke="#999" stroke-width="0.7"/>
<text x="46.5" y="300.3" font-size="9.6" text-anchor="end" fill="#222">100</text>
<line x1="51" y1="280.3" x2="52.8" y2="280.3" stroke="#999" stroke-width="0.7"/>
<text x="46.5" y="283.5" font-size="9.6" text-anchor="end" fill="#222">120</text>
<line x1="51" y1="263.5" x2="52.8" y2="263.5" stroke="#999" stroke-width="0.7"/>
<text x="46.5" y="266.7" font-size="9.6" text-anchor="end" fill="#222">140</text>
<line x1="51" y1="246.7" x2="52.8" y2="246.7" stroke="#999" stroke-width="0.7"/>
<text x="46.5" y="249.9" font-size="9.6" text-anchor="end" fill="#222">160</text>
<line x1="51.0" y1="372" x2="51.0" y2="370.2" stroke="#999" stroke-width="0.7"/>
<text x="51.0" y="385.6" font-size="9.6" text-anchor="middle" fill="#222">580</text>
<line x1="81.5" y1="372" x2="81.5" y2="370.2" stroke="#999" stroke-width="0.7"/>
<text x="81.5" y="385.6" font-size="9.6" text-anchor="middle" fill="#222">600</text>
<line x1="112.0" y1="372" x2="112.0" y2="370.2" stroke="#999" stroke-width="0.7"/>
<text x="112.0" y="385.6" font-size="9.6" text-anchor="middle" fill="#222">620</text>
<line x1="142.6" y1="372" x2="142.6" y2="370.2" stroke="#999" stroke-width="0.7"/>
<text x="142.6" y="385.6" font-size="9.6" text-anchor="middle" fill="#222">640</text>
<line x1="173.1" y1="372" x2="173.1" y2="370.2" stroke="#999" stroke-width="0.7"/>
<text x="173.1" y="385.6" font-size="9.6" text-anchor="middle" fill="#222">660</text>
<line x1="203.6" y1="372" x2="203.6" y2="370.2" stroke="#999" stroke-width="0.7"/>
<text x="203.6" y="385.6" font-size="9.6" text-anchor="middle" fill="#222">680</text>
<line x1="234.1" y1="372" x2="234.1" y2="370.2" stroke="#999" stroke-width="0.7"/>
<text x="234.1" y="385.6" font-size="9.6" text-anchor="middle" fill="#222">700</text>
<text x="142.4" y="398.4" font-size="9.35" font-weight="bold" text-anchor="middle" fill="#111">Wavelength (nm)</text>
<text transform="translate(26.4,309) rotate(-90)" font-size="9" font-weight="bold" text-anchor="middle" fill="#111">Fluorescence intensity</text>
<line x1="138.75" y1="285.3" x2="138.75" y2="306" stroke="#111" stroke-width="1"/>
<polygon points="136.5,303.8 141,303.8 138.75,312.9" fill="#111"/>
<text x="146.5" y="293.2" font-size="8.8" text-anchor="middle" fill="#222">1</text>
<text x="146.7" y="311" font-size="8.8" text-anchor="middle" fill="#222">17</text>
<text transform="translate(167.8,306.7) rotate(-90)" font-size="8" font-weight="bold" text-anchor="middle" fill="#111">1→130 μM</text>
</g>
<g font-family="'Liberation Serif', 'Times New Roman', serif">
<polyline fill="none" stroke="#10107a" stroke-width="1.2" stroke-linejoin="round" points="342.3,367.8 342.9,367.8 343.5,367.8 344.1,367.8 344.7,367.7 345.4,367.7 346.0,367.6 346.6,367.5 347.2,367.4 347.9,367.2 348.5,367.0 349.1,366.8 349.7,366.5 350.3,366.2 351.0,365.9 351.6,365.6 352.2,365.2 352.8,364.8 353.5,364.4 354.1,363.8 354.7,363.3 355.3,362.7 355.9,362.1 356.6,361.5 357.2,360.9 357.8,360.3 358.4,359.7 359.1,359.1 359.7,358.4 360.3,357.7 360.9,357.0 361.5,356.3 362.2,355.6 362.8,354.9 363.4,354.2 364.0,353.5 364.7,352.8 365.3,352.2 365.9,351.5 366.5,350.8 367.1,350.1 367.8,349.4 368.4,348.7 369.0,347.9 369.6,347.2 370.2,346.3 370.9,345.4 371.5,344.5 372.1,343.6 372.7,342.6 373.4,341.6 374.0,340.7 374.6,339.7 375.2,338.8 375.8,337.8 376.5,336.9 377.1,335.9 377.7,334.9 378.3,334.0 379.0,333.0 379.6,332.1 380.2,331.2 380.8,330.3 381.4,329.4 382.1,328.6 382.7,327.7 383.3,326.8 383.9,326.0 384.6,325.2 385.2,324.6 385.8,324.0 386.4,323.4 387.0,322.9 387.7,322.4 388.3,321.9 388.9,321.6 389.5,321.3 390.2,321.2 390.8,321.3 391.4,321.3 392.0,321.4 392.6,321.4 393.3,321.5 393.9,321.6 394.5,321.7 395.1,321.8 395.8,321.9 396.4,322.0 397.0,322.1 397.6,322.2 398.2,322.4 398.9,322.5 399.5,322.7 400.1,322.8 400.7,323.0 401.4,323.2 402.0,323.5 402.6,323.7 403.2,324.0 403.8,324.3 404.5,324.6 405.1,324.9 405.7,325.2 406.3,325.5 406.9,325.8 407.6,326.2 408.2,326.5 408.8,326.9 409.4,327.2 410.1,327.5 410.7,327.8 411.3,328.2 411.9,328.5 412.5,328.8 413.2,329.2 413.8,329.5 414.4,329.9 415.0,330.3 415.7,330.6 416.3,331.0 416.9,331.3 417.5,331.7 418.1,332.0 418.8,332.3 419.4,332.6 420.0,332.9 420.6,333.2 421.3,333.4 421.9,333.7 422.5,333.9 423.1,334.2 423.7,334.4 424.4,334.7 425.0,334.9 425.6,335.1 426.2,335.4 426.9,335.6 427.5,335.9 428.1,336.1 428.7,336.4 429.3,336.7 430.0,337.0 430.6,337.3 431.2,337.7 431.8,338.1 432.5,338.4 433.1,338.8 433.7,339.2 434.3,339.6 434.9,340.0 435.6,340.4 436.2,340.7 436.8,341.1 437.4,341.5 438.0,341.8 438.7,342.1 439.3,342.4 439.9,342.7 440.5,342.9 441.2,343.2 441.8,343.4 442.4,343.7 443.0,343.9 443.6,344.1 444.3,344.4 444.9,344.6 445.5,344.8 446.1,345.0 446.8,345.2 447.4,345.4 448.0,345.6 448.6,345.8 449.2,345.9 449.9,346.1 450.5,346.3 451.1,346.4 451.7,346.6 452.4,346.8 453.0,346.9 453.6,347.1 454.2,347.2 454.8,347.4 455.5,347.5 456.1,347.7 456.7,347.8 457.3,348.0 458.0,348.1 458.6,348.3 459.2,348.5 459.8,348.6 460.4,348.8 461.1,348.9 461.7,349.1 462.3,349.2 462.9,349.4 463.6,349.5 464.2,349.7 464.8,349.8 465.4,350.0 466.0,350.1 466.7,350.3 467.3,350.4 467.9,350.6 468.5,350.7 469.1,350.9 469.8,351.0 470.4,351.2 471.0,351.3 471.6,351.5 472.3,351.6 472.9,351.8 473.5,351.9 474.1,352.1 474.7,352.2 475.4,352.4 476.0,352.5 476.6,352.7 477.2,352.8 477.9,353.0 478.5,353.2 479.1,353.3 479.7,353.5 480.3,353.6 481.0,353.8 481.6,353.9 482.2,354.1 482.8,354.2 483.5,354.4 484.1,354.6 484.7,354.7 485.3,354.9 485.9,355.0 486.6,355.2 487.2,355.3 487.8,355.5 488.4,355.7 489.1,355.8 489.7,356.0 490.3,356.1 490.9,356.3 491.5,356.5 492.2,356.6 492.8,356.8 493.4,356.9 494.0,357.1 494.7,357.3 495.3,357.4 495.9,357.6 496.5,357.7 497.1,357.9 497.8,358.1"/>
<polyline fill="none" stroke="#9a9a10" stroke-width="1.2" stroke-linejoin="round" points="342.3,366.9 342.9,366.7 343.5,366.5 344.1,366.2 344.7,366.0 345.4,365.7 346.0,365.3 346.6,365.0 347.2,364.6 347.9,364.2 348.5,363.7 349.1,363.2 349.7,362.7 350.3,362.1 351.0,361.6 351.6,361.0 352.2,360.4 352.8,359.8 353.5,359.2 354.1,358.7 354.7,358.1 355.3,357.5 355.9,356.9 356.6,356.4 357.2,355.9 357.8,355.3 358.4,354.8 359.1,354.3 359.7,353.8 360.3,353.3 360.9,352.7 361.5,352.2 362.2,351.6 362.8,351.1 363.4,350.5 364.0,349.8 364.7,349.2 365.3,348.5 365.9,347.7 366.5,346.9 367.1,346.0 367.8,345.0 368.4,343.9 369.0,342.6 369.6,341.4 370.2,340.1 370.9,338.8 371.5,337.6 372.1,336.5 372.7,335.4 373.4,334.4 374.0,333.3 374.6,332.3 375.2,331.3 375.8,330.3 376.5,329.4 377.1,328.4 377.7,327.4 378.3,326.5 379.0,325.5 379.6,324.5 380.2,323.5 380.8,322.5 381.4,321.6 382.1,320.6 382.7,319.8 383.3,319.0 383.9,318.3 384.6,317.6 385.2,316.9 385.8,316.3 386.4,315.6 387.0,315.0 387.7,314.4 388.3,314.0 388.9,313.6 389.5,313.4 390.2,313.3 390.8,313.3 391.4,313.3 392.0,313.3 392.6,313.3 393.3,313.3 393.9,313.3 394.5,313.3 395.1,313.3 395.8,313.3 396.4,313.5 397.0,313.7 397.6,313.9 398.2,314.1 398.9,314.4 399.5,314.7 400.1,314.9 400.7,315.1 401.4,315.3 402.0,315.5 402.6,315.7 403.2,315.9 403.8,316.0 404.5,316.2 405.1,316.4 405.7,316.6 406.3,316.8 406.9,317.0 407.6,317.2 408.2,317.4 408.8,317.6 409.4,317.9 410.1,318.1 410.7,318.3 411.3,318.5 411.9,318.8 412.5,319.0 413.2,319.2 413.8,319.5 414.4,319.7 415.0,320.0 415.7,320.2 416.3,320.5 416.9,320.7 417.5,321.0 418.1,321.3 418.8,321.6 419.4,321.9 420.0,322.3 420.6,322.6 421.3,323.0 421.9,323.3 422.5,323.7 423.1,324.2 423.7,324.6 424.4,325.0 425.0,325.4 425.6,325.9 426.2,326.3 426.9,326.8 427.5,327.2 428.1,327.6 428.7,328.1 429.3,328.5 430.0,329.0 430.6,329.4 431.2,329.9 431.8,330.3 432.5,330.8 433.1,331.3 433.7,331.8 434.3,332.2 434.9,332.7 435.6,333.2 436.2,333.7 436.8,334.1 437.4,334.6 438.0,335.0 438.7,335.4 439.3,335.8 439.9,336.2 440.5,336.6 441.2,336.9 441.8,337.3 442.4,337.7 443.0,338.0 443.6,338.4 444.3,338.7 444.9,339.1 445.5,339.4 446.1,339.7 446.8,340.0 447.4,340.3 448.0,340.6 448.6,340.8 449.2,341.1 449.9,341.4 450.5,341.6 451.1,341.8 451.7,342.1 452.4,342.3 453.0,342.5 453.6,342.8 454.2,343.0 454.8,343.2 455.5,343.4 456.1,343.6 456.7,343.8 457.3,344.0 458.0,344.2 458.6,344.4 459.2,344.6 459.8,344.8 460.4,345.0 461.1,345.2 461.7,345.4 462.3,345.6 462.9,345.8 463.6,346.0 464.2,346.2 464.8,346.4 465.4,346.6 466.0,346.8 466.7,347.0 467.3,347.2 467.9,347.3 468.5,347.5 469.1,347.7 469.8,347.9 470.4,348.1 471.0,348.3 471.6,348.4 472.3,348.6 472.9,348.8 473.5,349.0 474.1,349.2 474.7,349.4 475.4,349.5 476.0,349.7 476.6,349.9 477.2,350.1 477.9,350.3 478.5,350.5 479.1,350.7 479.7,350.9 480.3,351.1 481.0,351.3 481.6,351.5 482.2,351.6 482.8,351.8 483.5,352.0 484.1,352.2 484.7,352.4 485.3,352.6 485.9,352.8 486.6,353.0 487.2,353.2 487.8,353.4 488.4,353.6 489.1,353.8 489.7,354.0 490.3,354.2 490.9,354.3 491.5,354.5 492.2,354.7 492.8,354.9 493.4,355.1 494.0,355.3 494.7,355.5 495.3,355.7 495.9,355.9 496.5,356.1 497.1,356.3 497.8,356.5"/>
<polyline fill="none" stroke="#ff2aff" stroke-width="1.2" stroke-linejoin="round" points="342.3,366.5 342.9,366.2 343.5,365.9 344.1,365.7 344.7,365.3 345.4,365.0 346.0,364.7 346.6,364.3 347.2,363.9 347.9,363.5 348.5,363.0 349.1,362.6 349.7,362.1 350.3,361.6 351.0,361.1 351.6,360.6 352.2,360.1 352.8,359.6 353.5,359.1 354.1,358.6 354.7,358.1 355.3,357.6 355.9,357.1 356.6,356.6 357.2,356.0 357.8,355.5 358.4,355.0 359.1,354.5 359.7,353.9 360.3,353.4 360.9,352.8 361.5,352.2 362.2,351.5 362.8,350.8 363.4,350.1 364.0,349.3 364.7,348.5 365.3,347.5 365.9,346.5 366.5,345.4 367.1,344.3 367.8,343.2 368.4,342.1 369.0,341.0 369.6,339.9 370.2,338.8 370.9,337.6 371.5,336.5 372.1,335.3 372.7,334.1 373.4,332.9 374.0,331.7 374.6,330.6 375.2,329.4 375.8,328.3 376.5,327.2 377.1,326.1 377.7,324.9 378.3,323.8 379.0,322.8 379.6,321.7 380.2,320.6 380.8,319.4 381.4,318.2 382.1,317.1 382.7,316.1 383.3,315.2 383.9,314.7 384.6,314.2 385.2,313.8 385.8,313.4 386.4,313.1 387.0,312.8 387.7,312.6 388.3,312.4 388.9,312.4 389.5,312.4 390.2,312.5 390.8,312.6 391.4,312.8 392.0,312.9 392.6,313.1 393.3,313.3 393.9,313.5 394.5,313.8 395.1,314.0 395.8,314.4 396.4,314.7 397.0,315.1 397.6,315.5 398.2,315.8 398.9,316.2 399.5,316.6 400.1,316.9 400.7,317.3 401.4,317.6 402.0,317.9 402.6,318.3 403.2,318.6 403.8,318.9 404.5,319.3 405.1,319.6 405.7,320.0 406.3,320.3 406.9,320.7 407.6,321.0 408.2,321.4 408.8,321.7 409.4,322.1 410.1,322.5 410.7,322.8 411.3,323.2 411.9,323.7 412.5,324.1 413.2,324.5 413.8,325.0 414.4,325.5 415.0,325.9 415.7,326.4 416.3,326.8 416.9,327.3 417.5,327.7 418.1,328.1 418.8,328.4 419.4,328.7 420.0,329.0 420.6,329.3 421.3,329.6 421.9,329.8 422.5,330.0 423.1,330.2 423.7,330.4 424.4,330.6 425.0,330.8 425.6,331.0 426.2,331.3 426.9,331.5 427.5,331.7 428.1,332.0 428.7,332.3 429.3,332.6 430.0,333.0 430.6,333.4 431.2,333.8 431.8,334.3 432.5,334.9 433.1,335.4 433.7,335.9 434.3,336.5 434.9,337.1 435.6,337.7 436.2,338.5 436.8,339.2 437.4,339.9 438.0,340.5 438.7,341.1 439.3,341.5 439.9,341.8 440.5,342.1 441.2,342.4 441.8,342.7 442.4,342.9 443.0,343.1 443.6,343.3 444.3,343.5 444.9,343.7 445.5,343.9 446.1,344.1 446.8,344.3 447.4,344.5 448.0,344.7 448.6,344.8 449.2,345.0 449.9,345.2 450.5,345.4 451.1,345.5 451.7,345.7 452.4,345.8 453.0,346.0 453.6,346.2 454.2,346.3 454.8,346.5 455.5,346.6 456.1,346.8 456.7,346.9 457.3,347.1 458.0,347.2 458.6,347.4 459.2,347.6 459.8,347.7 460.4,347.9 461.1,348.0 461.7,348.2 462.3,348.4 462.9,348.5 463.6,348.7 464.2,348.9 464.8,349.0 465.4,349.2 466.0,349.4 466.7,349.5 467.3,349.7 467.9,349.9 468.5,350.0 469.1,350.2 469.8,350.4 470.4,350.5 471.0,350.7 471.6,350.9 472.3,351.0 472.9,351.2 473.5,351.4 474.1,351.5 474.7,351.7 475.4,351.9 476.0,352.1 476.6,352.2 477.2,352.4 477.9,352.6 478.5,352.7 479.1,352.9 479.7,353.1 480.3,353.2 481.0,353.4 481.6,353.6 482.2,353.7 482.8,353.9 483.5,354.1 484.1,354.3 484.7,354.4 485.3,354.6 485.9,354.8 486.6,354.9 487.2,355.1 487.8,355.3 488.4,355.5 489.1,355.6 489.7,355.8 490.3,356.0 490.9,356.2 491.5,356.3 492.2,356.5 492.8,356.7 493.4,356.9 494.0,357.0 494.7,357.2 495.3,357.4 495.9,357.5 496.5,357.7 497.1,357.9 497.8,358.1"/>
<polyline fill="none" stroke="#10a0a0" stroke-width="1.2" stroke-linejoin="round" points="342.3,366.0 342.9,365.6 343.5,365.2 344.1,364.8 344.7,364.3 345.4,363.8 346.0,363.3 346.6,362.7 347.2,362.1 347.9,361.5 348.5,360.8 349.1,360.1 349.7,359.4 350.3,358.6 351.0,357.8 351.6,357.1 352.2,356.3 352.8,355.5 353.5,354.7 354.1,353.9 354.7,353.1 355.3,352.2 355.9,351.4 356.6,350.6 357.2,349.7 357.8,348.8 358.4,347.9 359.1,346.9 359.7,345.9 360.3,344.8 360.9,343.6 361.5,342.3 362.2,340.8 362.8,339.3 363.4,337.6 364.0,336.0 364.7,334.3 365.3,332.7 365.9,331.1 366.5,329.7 367.1,328.3 367.8,327.0 368.4,325.8 369.0,324.6 369.6,323.4 370.2,322.2 370.9,320.9 371.5,319.6 372.1,318.3 372.7,316.9 373.4,315.3 374.0,313.7 374.6,312.0 375.2,310.3 375.8,308.7 376.5,307.1 377.1,305.8 377.7,304.5 378.3,303.3 379.0,302.1 379.6,301.0 380.2,300.1 380.8,299.2 381.4,298.5 382.1,297.9 382.7,297.4 383.3,296.8 383.9,296.3 384.6,295.8 385.2,295.3 385.8,295.0 386.4,294.6 387.0,294.4 387.7,294.3 388.3,294.2 388.9,294.2 389.5,294.4 390.2,294.5 390.8,294.8 391.4,295.1 392.0,295.4 392.6,295.7 393.3,296.0 393.9,296.4 394.5,296.9 395.1,297.5 395.8,298.2 396.4,298.9 397.0,299.7 397.6,300.4 398.2,301.2 398.9,301.9 399.5,302.7 400.1,303.3 400.7,303.9 401.4,304.5 402.0,305.1 402.6,305.6 403.2,306.2 403.8,306.7 404.5,307.3 405.1,307.8 405.7,308.4 406.3,308.9 406.9,309.4 407.6,310.0 408.2,310.5 408.8,311.0 409.4,311.5 410.1,312.1 410.7,312.6 411.3,313.2 411.9,313.7 412.5,314.3 413.2,314.8 413.8,315.4 414.4,315.9 415.0,316.5 415.7,317.0 416.3,317.5 416.9,318.1 417.5,318.6 418.1,319.1 418.8,319.6 419.4,320.1 420.0,320.6 420.6,321.0 421.3,321.4 421.9,321.9 422.5,322.3 423.1,322.6 423.7,323.0 424.4,323.4 425.0,323.8 425.6,324.2 426.2,324.5 426.9,324.9 427.5,325.3 428.1,325.8 428.7,326.2 429.3,326.7 430.0,327.2 430.6,327.8 431.2,328.4 431.8,329.1 432.5,329.7 433.1,330.4 433.7,331.0 434.3,331.6 434.9,332.1 435.6,332.6 436.2,333.0 436.8,333.4 437.4,333.8 438.0,334.2 438.7,334.6 439.3,334.9 439.9,335.3 440.5,335.6 441.2,335.9 441.8,336.2 442.4,336.5 443.0,336.8 443.6,337.1 444.3,337.3 444.9,337.6 445.5,337.9 446.1,338.1 446.8,338.4 447.4,338.6 448.0,338.8 448.6,339.1 449.2,339.3 449.9,339.5 450.5,339.7 451.1,339.9 451.7,340.1 452.4,340.3 453.0,340.5 453.6,340.7 454.2,340.9 454.8,341.1 455.5,341.3 456.1,341.5 456.7,341.7 457.3,341.9 458.0,342.2 458.6,342.4 459.2,342.6 459.8,342.9 460.4,343.1 461.1,343.3 461.7,343.6 462.3,343.8 462.9,344.1 463.6,344.3 464.2,344.5 464.8,344.8 465.4,345.0 466.0,345.3 466.7,345.5 467.3,345.8 467.9,346.0 468.5,346.3 469.1,346.5 469.8,346.8 470.4,347.0 471.0,347.3 471.6,347.5 472.3,347.8 472.9,348.0 473.5,348.3 474.1,348.5 474.7,348.7 475.4,349.0 476.0,349.2 476.6,349.4 477.2,349.7 477.9,349.9 478.5,350.1 479.1,350.3 479.7,350.5 480.3,350.8 481.0,351.0 481.6,351.2 482.2,351.4 482.8,351.6 483.5,351.8 484.1,352.1 484.7,352.3 485.3,352.5 485.9,352.7 486.6,352.9 487.2,353.1 487.8,353.3 488.4,353.5 489.1,353.7 489.7,353.9 490.3,354.1 490.9,354.3 491.5,354.5 492.2,354.7 492.8,354.9 493.4,355.1 494.0,355.3 494.7,355.5 495.3,355.7 495.9,355.9 496.5,356.1 497.1,356.3 497.8,356.5"/>
<polyline fill="none" stroke="#2a2aff" stroke-width="1.2" stroke-linejoin="round" points="342.3,364.9 342.9,364.8 343.5,364.6 344.1,364.3 344.7,364.0 345.4,363.7 346.0,363.3 346.6,362.9 347.2,362.3 347.9,361.7 348.5,361.0 349.1,360.2 349.7,359.4 350.3,358.6 351.0,357.8 351.6,356.9 352.2,356.1 352.8,355.2 353.5,354.4 354.1,353.4 354.7,352.5 355.3,351.5 355.9,350.5 356.6,349.4 357.2,348.3 357.8,347.2 358.4,345.9 359.1,344.6 359.7,343.2 360.3,341.7 360.9,340.2 361.5,338.7 362.2,337.1 362.8,335.6 363.4,334.2 364.0,332.8 364.7,331.5 365.3,330.2 365.9,328.9 366.5,327.6 367.1,326.3 367.8,324.9 368.4,323.5 369.0,322.1 369.6,320.6 370.2,318.9 370.9,317.1 371.5,315.3 372.1,313.4 372.7,311.5 373.4,309.7 374.0,308.1 374.6,306.5 375.2,305.0 375.8,303.6 376.5,302.2 377.1,300.9 377.7,299.7 378.3,298.5 379.0,297.4 379.6,296.4 380.2,295.3 380.8,294.4 381.4,293.5 382.1,292.8 382.7,292.2 383.3,291.6 383.9,291.1 384.6,290.7 385.2,290.3 385.8,289.9 386.4,289.7 387.0,289.7 387.7,289.7 388.3,289.8 388.9,290.0 389.5,290.2 390.2,290.5 390.8,290.8 391.4,291.2 392.0,291.5 392.6,291.8 393.3,292.3 393.9,292.8 394.5,293.3 395.1,293.9 395.8,294.6 396.4,295.2 397.0,295.9 397.6,296.6 398.2,297.3 398.9,297.9 399.5,298.6 400.1,299.2 400.7,299.8 401.4,300.4 402.0,301.0 402.6,301.6 403.2,302.1 403.8,302.7 404.5,303.3 405.1,303.9 405.7,304.5 406.3,305.1 406.9,305.6 407.6,306.2 408.2,306.8 408.8,307.4 409.4,308.0 410.1,308.6 410.7,309.2 411.3,309.8 411.9,310.4 412.5,311.0 413.2,311.6 413.8,312.2 414.4,312.8 415.0,313.4 415.7,314.0 416.3,314.6 416.9,315.3 417.5,315.9 418.1,316.5 418.8,317.2 419.4,317.8 420.0,318.5 420.6,319.2 421.3,319.8 421.9,320.5 422.5,321.2 423.1,321.9 423.7,322.6 424.4,323.4 425.0,324.1 425.6,324.9 426.2,325.7 426.9,326.6 427.5,327.6 428.1,328.5 428.7,329.4 429.3,330.1 430.0,330.8 430.6,331.4 431.2,332.0 431.8,332.6 432.5,333.1 433.1,333.6 433.7,334.1 434.3,334.7 434.9,335.2 435.6,335.7 436.2,336.2 436.8,336.8 437.4,337.3 438.0,337.7 438.7,338.1 439.3,338.5 439.9,338.9 440.5,339.2 441.2,339.5 441.8,339.8 442.4,340.1 443.0,340.3 443.6,340.6 444.3,340.8 444.9,341.0 445.5,341.3 446.1,341.5 446.8,341.7 447.4,341.9 448.0,342.2 448.6,342.4 449.2,342.6 449.9,342.8 450.5,343.0 451.1,343.2 451.7,343.4 452.4,343.5 453.0,343.7 453.6,343.9 454.2,344.1 454.8,344.3 455.5,344.4 456.1,344.6 456.7,344.8 457.3,345.0 458.0,345.2 458.6,345.3 459.2,345.5 459.8,345.7 460.4,345.9 461.1,346.1 461.7,346.3 462.3,346.5 462.9,346.7 463.6,346.9 464.2,347.1 464.8,347.3 465.4,347.5 466.0,347.7 466.7,347.9 467.3,348.1 467.9,348.3 468.5,348.5 469.1,348.7 469.8,348.9 470.4,349.1 471.0,349.3 471.6,349.5 472.3,349.7 472.9,349.9 473.5,350.1 474.1,350.3 474.7,350.5 475.4,350.7 476.0,350.9 476.6,351.1 477.2,351.3 477.9,351.4 478.5,351.6 479.1,351.8 479.7,352.0 480.3,352.2 481.0,352.3 481.6,352.5 482.2,352.7 482.8,352.9 483.5,353.1 484.1,353.2 484.7,353.4 485.3,353.6 485.9,353.8 486.6,353.9 487.2,354.1 487.8,354.3 488.4,354.5 489.1,354.6 489.7,354.8 490.3,355.0 490.9,355.1 491.5,355.3 492.2,355.5 492.8,355.6 493.4,355.8 494.0,356.0 494.7,356.1 495.3,356.3 495.9,356.5 496.5,356.6 497.1,356.8 497.8,356.9"/>
<polyline fill="none" stroke="#ff2a2a" stroke-width="1.2" stroke-linejoin="round" points="342.3,364.2 342.9,363.6 343.5,362.9 344.1,362.2 344.7,361.5 345.4,360.7 346.0,359.9 346.6,359.2 347.2,358.4 347.9,357.5 348.5,356.7 349.1,355.8 349.7,355.0 350.3,354.1 351.0,353.1 351.6,352.2 352.2,351.2 352.8,350.3 353.5,349.3 354.1,348.2 354.7,347.2 355.3,346.1 355.9,344.9 356.6,343.7 357.2,342.4 357.8,341.1 358.4,339.7 359.1,338.4 359.7,337.0 360.3,335.6 360.9,334.2 361.5,332.8 362.2,331.4 362.8,329.9 363.4,328.5 364.0,327.0 364.7,325.5 365.3,323.9 365.9,322.3 366.5,320.6 367.1,318.8 367.8,316.9 368.4,314.9 369.0,312.9 369.6,310.9 370.2,308.9 370.9,306.9 371.5,305.0 372.1,303.1 372.7,301.1 373.4,299.2 374.0,297.4 374.6,295.7 375.2,294.2 375.8,292.8 376.5,291.5 377.1,290.1 377.7,288.9 378.3,287.7 379.0,286.6 379.6,285.7 380.2,284.9 380.8,284.2 381.4,283.6 382.1,283.1 382.7,282.5 383.3,282.0 383.9,281.5 384.6,281.1 385.2,280.8 385.8,280.6 386.4,280.4 387.0,280.3 387.7,280.4 388.3,280.5 388.9,280.6 389.5,280.8 390.2,281.1 390.8,281.3 391.4,281.6 392.0,281.9 392.6,282.3 393.3,282.8 393.9,283.4 394.5,284.1 395.1,284.8 395.8,285.6 396.4,286.5 397.0,287.4 397.6,288.3 398.2,289.1 398.9,290.0 399.5,290.7 400.1,291.5 400.7,292.2 401.4,292.8 402.0,293.5 402.6,294.1 403.2,294.8 403.8,295.4 404.5,296.0 405.1,296.7 405.7,297.3 406.3,297.9 406.9,298.5 407.6,299.2 408.2,299.8 408.8,300.4 409.4,301.1 410.1,301.7 410.7,302.4 411.3,303.1 411.9,303.8 412.5,304.5 413.2,305.2 413.8,306.0 414.4,306.7 415.0,307.4 415.7,308.2 416.3,308.9 416.9,309.6 417.5,310.3 418.1,310.9 418.8,311.6 419.4,312.2 420.0,312.7 420.6,313.3 421.3,313.8 421.9,314.3 422.5,314.7 423.1,315.2 423.7,315.7 424.4,316.1 425.0,316.6 425.6,317.0 426.2,317.5 426.9,317.9 427.5,318.4 428.1,318.9 428.7,319.4 429.3,319.9 430.0,320.4 430.6,320.9 431.2,321.5 431.8,322.0 432.5,322.6 433.1,323.3 433.7,324.1 434.3,325.0 434.9,326.0 435.6,326.9 436.2,327.6 436.8,328.2 437.4,328.8 438.0,329.3 438.7,329.8 439.3,330.3 439.9,330.7 440.5,331.2 441.2,331.6 441.8,331.9 442.4,332.3 443.0,332.6 443.6,333.0 444.3,333.3 444.9,333.6 445.5,333.9 446.1,334.2 446.8,334.5 447.4,334.8 448.0,335.0 448.6,335.3 449.2,335.6 449.9,335.8 450.5,336.1 451.1,336.3 451.7,336.6 452.4,336.8 453.0,337.1 453.6,337.3 454.2,337.6 454.8,337.8 455.5,338.1 456.1,338.3 456.7,338.6 457.3,338.9 458.0,339.2 458.6,339.4 459.2,339.7 459.8,340.0 460.4,340.3 461.1,340.6 461.7,340.9 462.3,341.2 462.9,341.5 463.6,341.8 464.2,342.1 464.8,342.4 465.4,342.7 466.0,343.0 466.7,343.4 467.3,343.7 467.9,344.0 468.5,344.3 469.1,344.6 469.8,344.9 470.4,345.2 471.0,345.5 471.6,345.8 472.3,346.1 472.9,346.4 473.5,346.7 474.1,346.9 474.7,347.2 475.4,347.5 476.0,347.8 476.6,348.0 477.2,348.3 477.9,348.6 478.5,348.8 479.1,349.1 479.7,349.3 480.3,349.6 481.0,349.8 481.6,350.1 482.2,350.3 482.8,350.6 483.5,350.8 484.1,351.0 484.7,351.3 485.3,351.5 485.9,351.7 486.6,352.0 487.2,352.2 487.8,352.4 488.4,352.7 489.1,352.9 489.7,353.1 490.3,353.3 490.9,353.5 491.5,353.8 492.2,354.0 492.8,354.2 493.4,354.4 494.0,354.6 494.7,354.8 495.3,355.0 495.9,355.2 496.5,355.4 497.1,355.6 497.8,355.8"/>
<polyline fill="none" stroke="#000000" stroke-width="1.2" stroke-linejoin="round" points="342.3,363.8 342.9,363.6 343.5,363.3 344.1,362.9 344.7,362.5 345.4,362.0 346.0,361.5 346.6,360.9 347.2,360.1 347.9,359.2 348.5,358.2 349.1,357.2 349.7,356.1 350.3,355.0 351.0,353.9 351.6,352.8 352.2,351.9 352.8,350.9 353.5,349.9 354.1,348.9 354.7,347.9 355.3,346.8 355.9,345.6 356.6,344.3 357.2,342.9 357.8,341.4 358.4,339.8 359.1,338.2 359.7,336.5 360.3,334.8 360.9,333.1 361.5,331.3 362.2,329.4 362.8,327.4 363.4,325.4 364.0,323.4 364.7,321.4 365.3,319.4 365.9,317.5 366.5,315.7 367.1,313.8 367.8,311.9 368.4,310.0 369.0,308.1 369.6,306.0 370.2,303.9 370.9,301.6 371.5,299.3 372.1,297.0 372.7,294.6 373.4,292.2 374.0,289.9 374.6,287.5 375.2,284.9 375.8,282.3 376.5,279.7 377.1,277.4 377.7,275.3 378.3,273.5 379.0,272.0 379.6,270.6 380.2,269.4 380.8,268.2 381.4,267.2 382.1,266.3 382.7,265.6 383.3,264.9 383.9,264.3 384.6,263.7 385.2,263.2 385.8,262.7 386.4,262.5 387.0,262.4 387.7,262.4 388.3,262.6 388.9,262.8 389.5,263.0 390.2,263.3 390.8,263.6 391.4,264.0 392.0,264.4 392.6,264.8 393.3,265.4 393.9,266.0 394.5,266.7 395.1,267.4 395.8,268.1 396.4,268.8 397.0,269.6 397.6,270.5 398.2,271.4 398.9,272.4 399.5,273.3 400.1,274.2 400.7,275.1 401.4,276.0 402.0,276.8 402.6,277.7 403.2,278.6 403.8,279.5 404.5,280.3 405.1,281.2 405.7,282.1 406.3,282.9 406.9,283.8 407.6,284.6 408.2,285.5 408.8,286.3 409.4,287.1 410.1,288.0 410.7,288.7 411.3,289.5 411.9,290.3 412.5,291.0 413.2,291.7 413.8,292.4 414.4,293.1 415.0,293.8 415.7,294.5 416.3,295.3 416.9,296.0 417.5,296.8 418.1,297.6 418.8,298.4 419.4,299.2 420.0,300.1 420.6,300.9 421.3,301.7 421.9,302.6 422.5,303.4 423.1,304.2 423.7,305.0 424.4,305.8 425.0,306.6 425.6,307.4 426.2,308.2 426.9,309.0 427.5,309.8 428.1,310.6 428.7,311.4 429.3,312.2 430.0,312.9 430.6,313.6 431.2,314.3 431.8,315.0 432.5,315.7 433.1,316.5 433.7,317.2 434.3,318.0 434.9,318.8 435.6,319.7 436.2,320.5 436.8,321.5 437.4,322.5 438.0,323.4 438.7,324.2 439.3,324.9 439.9,325.4 440.5,325.9 441.2,326.3 441.8,326.7 442.4,327.1 443.0,327.5 443.6,327.8 444.3,328.2 444.9,328.5 445.5,328.9 446.1,329.3 446.8,329.6 447.4,330.0 448.0,330.3 448.6,330.7 449.2,331.0 449.9,331.3 450.5,331.6 451.1,331.9 451.7,332.2 452.4,332.4 453.0,332.7 453.6,332.9 454.2,333.1 454.8,333.3 455.5,333.5 456.1,333.7 456.7,333.9 457.3,334.1 458.0,334.4 458.6,334.7 459.2,335.0 459.8,335.3 460.4,335.6 461.1,336.0 461.7,336.3 462.3,336.7 462.9,337.1 463.6,337.5 464.2,337.9 464.8,338.3 465.4,338.7 466.0,339.1 466.7,339.4 467.3,339.8 467.9,340.2 468.5,340.6 469.1,341.0 469.8,341.4 470.4,341.8 471.0,342.2 471.6,342.6 472.3,343.1 472.9,343.5 473.5,343.9 474.1,344.2 474.7,344.6 475.4,345.0 476.0,345.4 476.6,345.7 477.2,346.0 477.9,346.3 478.5,346.6 479.1,346.9 479.7,347.2 480.3,347.5 481.0,347.8 481.6,348.0 482.2,348.3 482.8,348.5 483.5,348.8 484.1,349.1 484.7,349.3 485.3,349.6 485.9,349.8 486.6,350.1 487.2,350.4 487.8,350.7 488.4,350.9 489.1,351.2 489.7,351.5 490.3,351.8 490.9,352.0 491.5,352.3 492.2,352.6 492.8,352.9 493.4,353.2 494.0,353.4 494.7,353.7 495.3,354.0 495.9,354.3 496.5,354.6 497.1,354.8 497.8,355.1"/>
<rect x="323.6" y="244.4" width="186.4" height="135.6" fill="none" stroke="#555" stroke-width="1"/>
<line x1="322.1" y1="379.7" x2="323.6" y2="379.7" stroke="#555" stroke-width="0.7"/>
<line x1="321.1" y1="368.3" x2="323.6" y2="368.3" stroke="#555" stroke-width="0.7"/>
<text x="318.8" y="370.2" font-size="5.6" text-anchor="end" fill="#333">0</text>
<line x1="322.1" y1="356.9" x2="323.6" y2="356.9" stroke="#555" stroke-width="0.7"/>
<line x1="321.1" y1="345.6" x2="323.6" y2="345.6" stroke="#555" stroke-width="0.7"/>
<text x="318.8" y="347.5" font-size="5.6" text-anchor="end" fill="#333">100</text>
<line x1="322.1" y1="334.2" x2="323.6" y2="334.2" stroke="#555" stroke-width="0.7"/>
<line x1="321.1" y1="322.8" x2="323.6" y2="322.8" stroke="#555" stroke-width="0.7"/>
<text x="318.8" y="324.7" font-size="5.6" text-anchor="end" fill="#333">200</text>
<line x1="322.1" y1="311.5" x2="323.6" y2="311.5" stroke="#555" stroke-width="0.7"/>
<line x1="321.1" y1="300.1" x2="323.6" y2="300.1" stroke="#555" stroke-width="0.7"/>
<text x="318.8" y="302.0" font-size="5.6" text-anchor="end" fill="#333">300</text>
<line x1="322.1" y1="288.7" x2="323.6" y2="288.7" stroke="#555" stroke-width="0.7"/>
<line x1="321.1" y1="277.4" x2="323.6" y2="277.4" stroke="#555" stroke-width="0.7"/>
<text x="318.8" y="279.3" font-size="5.6" text-anchor="end" fill="#333">400</text>
<line x1="322.1" y1="266.0" x2="323.6" y2="266.0" stroke="#555" stroke-width="0.7"/>
<line x1="321.1" y1="254.7" x2="323.6" y2="254.7" stroke="#555" stroke-width="0.7"/>
<text x="318.8" y="256.6" font-size="5.6" text-anchor="end" fill="#333">500</text>
<line x1="323.6" y1="380" x2="323.6" y2="382.5" stroke="#555" stroke-width="0.7"/>
<text x="323.6" y="388.8" font-size="5.6" text-anchor="middle" fill="#333">300</text>
<line x1="339.2" y1="380" x2="339.2" y2="381.5" stroke="#555" stroke-width="0.7"/>
<line x1="354.7" y1="380" x2="354.7" y2="382.5" stroke="#555" stroke-width="0.7"/>
<text x="354.7" y="388.8" font-size="5.6" text-anchor="middle" fill="#333">350</text>
<line x1="370.2" y1="380" x2="370.2" y2="381.5" stroke="#555" stroke-width="0.7"/>
<line x1="385.8" y1="380" x2="385.8" y2="382.5" stroke="#555" stroke-width="0.7"/>
<text x="385.8" y="388.8" font-size="5.6" text-anchor="middle" fill="#333">400</text>
<line x1="401.4" y1="380" x2="401.4" y2="381.5" stroke="#555" stroke-width="0.7"/>
<line x1="416.9" y1="380" x2="416.9" y2="382.5" stroke="#555" stroke-width="0.7"/>
<text x="416.9" y="388.8" font-size="5.6" text-anchor="middle" fill="#333">450</text>
<line x1="432.5" y1="380" x2="432.5" y2="381.5" stroke="#555" stroke-width="0.7"/>
<line x1="448.0" y1="380" x2="448.0" y2="382.5" stroke="#555" stroke-width="0.7"/>
<text x="448.0" y="388.8" font-size="5.6" text-anchor="middle" fill="#333">500</text>
<line x1="463.6" y1="380" x2="463.6" y2="381.5" stroke="#555" stroke-width="0.7"/>
<line x1="479.1" y1="380" x2="479.1" y2="382.5" stroke="#555" stroke-width="0.7"/>
<text x="479.1" y="388.8" font-size="5.6" text-anchor="middle" fill="#333">550</text>
<line x1="494.7" y1="380" x2="494.7" y2="381.5" stroke="#555" stroke-width="0.7"/>
<line x1="510.2" y1="380" x2="510.2" y2="382.5" stroke="#555" stroke-width="0.7"/>
<text x="510.2" y="388.8" font-size="5.6" text-anchor="middle" fill="#333">600</text>
<text x="416.7" y="400" font-size="7.2" font-weight="bold" text-anchor="middle" fill="#111">Wavelength (nm)</text>
<text transform="translate(301.4,311) rotate(-90)" font-size="7.05" font-weight="bold" text-anchor="middle" fill="#111">Fluorescence Intensity (a.u.)</text>
<rect x="450.8" y="245.9" width="52.9" height="64.7" fill="#fff" stroke="#444" stroke-width="0.8"/>
<line x1="454.1" y1="254.1" x2="468.4" y2="254.1" stroke="#000000" stroke-width="1.4"/>
<text x="469.6" y="256.4" font-size="7" letter-spacing="0.3" fill="#222" stroke="#222" stroke-width="0.12">no Fe<tspan font-size="6" dy="-3.8">3+</tspan></text>
<line x1="454.1" y1="263.0" x2="468.4" y2="263.0" stroke="#ff2a2a" stroke-width="1.4"/>
<text x="469.6" y="265.3" font-size="7" letter-spacing="-0.2" fill="#222" stroke="#222" stroke-width="0.12">5μmol/L</text>
<line x1="454.1" y1="271.8" x2="468.4" y2="271.8" stroke="#2a2aff" stroke-width="1.4"/>
<text x="469.6" y="274.1" font-size="7" letter-spacing="-0.2" fill="#222" stroke="#222" stroke-width="0.12">30μmol/L</text>
<line x1="454.1" y1="280.7" x2="468.4" y2="280.7" stroke="#10a0a0" stroke-width="1.4"/>
<text x="469.6" y="283.0" font-size="7" letter-spacing="-0.2" fill="#222" stroke="#222" stroke-width="0.12">50μmol/L</text>
<line x1="454.1" y1="289.6" x2="468.4" y2="289.6" stroke="#ff2aff" stroke-width="1.4"/>
<text x="469.6" y="291.9" font-size="7" letter-spacing="-0.2" fill="#222" stroke="#222" stroke-width="0.12">70μmol/L</text>
<line x1="454.1" y1="298.4" x2="468.4" y2="298.4" stroke="#9a9a10" stroke-width="1.4"/>
<text x="469.6" y="300.8" font-size="7" letter-spacing="-0.2" fill="#222" stroke="#222" stroke-width="0.12">90μmol/L</text>
<line x1="454.1" y1="307.3" x2="468.4" y2="307.3" stroke="#10107a" stroke-width="1.4"/>
<text x="469.6" y="309.6" font-size="7" letter-spacing="-0.2" fill="#222" stroke="#222" stroke-width="0.12">100μmol/L</text>
</g>
<rect x="4.3" y="4.7" width="541.6" height="399" rx="30" ry="30" fill="none" stroke="#5a5ad8" stroke-width="1.3" stroke-dasharray="5.9,2.3"/>
</svg></body></html>
